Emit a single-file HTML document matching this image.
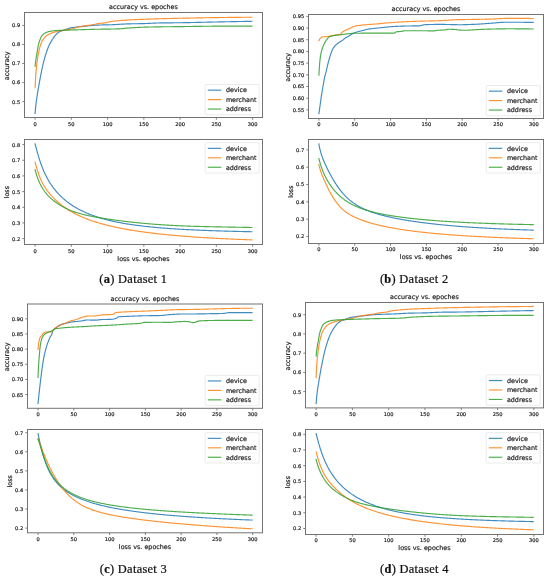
<!DOCTYPE html>
<html lang="en">
<head>
<meta charset="utf-8">
<title>accuracy and loss vs. epoches</title>
<style>
html,body{margin:0;padding:0;background:#fff;}
body{width:550px;height:579px;overflow:hidden;}
svg{display:block;}
svg text{font-family:"DejaVu Sans","Liberation Sans",sans-serif;fill:#1a1a1a;stroke:#1a1a1a;stroke-width:0.18px;}
svg text.cap{font-family:"Liberation Serif","DejaVu Serif",serif;font-size:12.4px;fill:#111;letter-spacing:0.3px;stroke:#111;stroke-width:0.22px;}
</style>
</head>
<body>
<svg width="550" height="579" viewBox="0 0 550 579">
<rect width="550" height="579" fill="#fff"/>
<g>
<path d="M35.1 113.41 L35.46 109.16 L35.83 105.39 L36.19 102.29 L36.55 99.63 L36.91 97.22 L37.27 94.93 L37.64 92.65 L38 90.46 L38.36 88.34 L38.73 86.26 L39.09 84.2 L39.45 82.16 L39.81 80.14 L40.18 78.18 L40.54 76.27 L40.9 74.4 L41.26 72.58 L41.62 70.81 L41.99 69.11 L42.35 67.44 L42.71 65.8 L43.08 64.2 L43.44 62.67 L43.8 61.2 L44.16 59.81 L44.52 58.48 L44.89 57.21 L45.25 55.98 L45.61 54.81 L45.98 53.68 L46.34 52.59 L46.7 51.53 L47.06 50.5 L47.42 49.5 L47.79 48.53 L48.15 47.6 L48.51 46.71 L48.88 45.88 L49.24 45.09 L49.6 44.34 L49.96 43.62 L50.33 42.93 L50.69 42.26 L51.05 41.62 L51.41 41 L51.78 40.4 L52.14 39.82 L52.5 39.25 L52.86 38.71 L53.23 38.17 L53.59 37.64 L53.95 37.13 L54.31 36.63 L54.67 36.14 L55.04 35.68 L55.4 35.24 L55.76 34.83 L56.12 34.45 L56.49 34.1 L56.85 33.76 L57.21 33.45 L57.58 33.14 L57.94 32.85 L58.3 32.57 L58.66 32.31 L59.03 32.07 L59.39 31.85 L59.75 31.64 L60.11 31.46 L60.48 31.29 L60.84 31.14 L61.2 31 L61.56 30.86 L61.92 30.74 L62.29 30.62 L62.65 30.5 L63.01 30.38 L63.38 30.26 L63.74 30.14 L64.1 30.01 L64.83 29.75 L65.55 29.49 L66.28 29.23 L67 28.98 L67.72 28.73 L68.45 28.5 L69.17 28.28 L69.9 28.09 L70.62 27.93 L71.35 27.8 L72.08 27.68 L72.8 27.57 L73.53 27.47 L74.25 27.38 L74.97 27.29 L75.7 27.21 L76.42 27.13 L77.15 27.05 L77.88 26.97 L78.6 26.88 L79.33 26.8 L80.05 26.72 L80.78 26.65 L81.5 26.57 L82.22 26.5 L82.95 26.42 L83.67 26.35 L84.4 26.27 L85.12 26.2 L85.85 26.12 L86.58 26.04 L87.3 25.96 L88.03 25.88 L88.75 25.79 L89.47 25.71 L90.2 25.63 L90.92 25.56 L91.65 25.49 L92.38 25.43 L93.1 25.38 L93.83 25.33 L94.55 25.29 L95.28 25.24 L96 25.2 L96.72 25.16 L97.45 25.13 L98.17 25.09 L98.9 25.06 L99.62 25.03 L100.35 25.01 L101.07 24.99 L101.8 24.96 L102.53 24.94 L103.25 24.93 L103.97 24.91 L104.7 24.89 L105.43 24.88 L106.15 24.86 L106.88 24.85 L107.6 24.83 L108.32 24.81 L109.05 24.8 L109.78 24.78 L110.5 24.76 L111.22 24.73 L111.95 24.71 L112.68 24.68 L113.4 24.64 L114.12 24.61 L114.85 24.57 L115.57 24.53 L116.3 24.49 L117.03 24.45 L117.75 24.4 L118.47 24.36 L119.2 24.31 L119.93 24.27 L120.65 24.22 L121.38 24.18 L122.1 24.14 L122.82 24.09 L123.55 24.06 L124.28 24.02 L125 23.98 L125.72 23.95 L126.45 23.92 L127.18 23.9 L127.9 23.88 L128.62 23.86 L129.35 23.84 L130.07 23.82 L130.8 23.81 L131.53 23.8 L132.25 23.78 L132.97 23.77 L133.7 23.76 L134.43 23.75 L135.15 23.74 L135.88 23.73 L136.6 23.72 L137.32 23.71 L138.05 23.7 L138.78 23.69 L139.5 23.68 L140.22 23.66 L140.95 23.65 L141.68 23.64 L142.4 23.62 L143.12 23.61 L143.85 23.59 L144.57 23.57 L145.3 23.55 L146.03 23.52 L146.75 23.49 L147.47 23.46 L148.2 23.43 L148.93 23.4 L149.65 23.36 L150.38 23.33 L151.1 23.29 L151.82 23.26 L152.55 23.22 L153.28 23.18 L154 23.15 L154.72 23.12 L155.45 23.08 L156.18 23.05 L156.9 23.02 L157.62 23 L158.35 22.97 L159.07 22.95 L159.8 22.94 L160.53 22.92 L161.25 22.91 L161.97 22.9 L162.7 22.89 L163.42 22.88 L164.15 22.88 L164.88 22.87 L165.6 22.86 L166.32 22.85 L167.05 22.85 L167.77 22.84 L168.5 22.83 L169.22 22.83 L169.95 22.82 L170.67 22.82 L171.4 22.81 L172.12 22.81 L172.85 22.8 L173.57 22.8 L174.3 22.79 L175.02 22.79 L175.75 22.78 L176.47 22.77 L177.2 22.77 L177.92 22.76 L178.65 22.75 L179.38 22.74 L180.1 22.73 L180.82 22.72 L181.55 22.71 L182.27 22.7 L183 22.69 L183.72 22.68 L184.45 22.67 L185.17 22.66 L185.9 22.64 L186.62 22.63 L187.35 22.62 L188.07 22.6 L188.8 22.59 L189.52 22.58 L190.25 22.56 L190.97 22.55 L191.7 22.53 L192.42 22.52 L193.15 22.5 L193.88 22.48 L194.6 22.47 L195.32 22.45 L196.05 22.44 L196.77 22.42 L197.5 22.4 L198.22 22.39 L198.95 22.37 L199.67 22.35 L200.4 22.33 L201.12 22.32 L201.85 22.3 L202.57 22.28 L203.3 22.27 L204.02 22.25 L204.75 22.23 L205.47 22.21 L206.2 22.2 L206.92 22.18 L207.65 22.16 L208.38 22.15 L209.1 22.13 L209.82 22.11 L210.55 22.1 L211.27 22.08 L212 22.06 L212.72 22.05 L213.45 22.03 L214.17 22.02 L214.9 22 L215.62 21.99 L216.35 21.97 L217.07 21.96 L217.8 21.94 L218.52 21.93 L219.25 21.91 L219.97 21.9 L220.7 21.88 L221.42 21.87 L222.15 21.86 L222.88 21.84 L223.6 21.83 L224.32 21.81 L225.05 21.8 L225.77 21.78 L226.5 21.77 L227.22 21.75 L227.95 21.74 L228.67 21.73 L229.4 21.71 L230.12 21.7 L230.85 21.68 L231.57 21.67 L232.3 21.66 L233.02 21.64 L233.75 21.63 L234.47 21.61 L235.2 21.6 L235.92 21.59 L236.65 21.57 L237.38 21.56 L238.1 21.54 L238.82 21.53 L239.55 21.52 L240.27 21.5 L241 21.49 L241.72 21.48 L242.45 21.46 L243.17 21.45 L243.9 21.43 L244.62 21.42 L245.35 21.41 L246.07 21.39 L246.8 21.38 L247.52 21.37 L248.25 21.35 L248.97 21.34 L249.7 21.33 L250.42 21.31 L251.15 21.3 L251.88 21.29" fill="none" stroke="#1f77b4" stroke-width="1.15" stroke-opacity="0.85" stroke-linejoin="round" stroke-linecap="square"/>
<path d="M35.1 87.69 L35.46 80.13 L35.83 74.38 L36.19 69.96 L36.55 66.28 L36.91 63.02 L37.27 60.18 L37.64 57.76 L38 55.61 L38.36 53.68 L38.73 51.92 L39.09 50.29 L39.45 48.76 L39.81 47.35 L40.18 46.08 L40.54 44.98 L40.9 43.96 L41.26 43 L41.62 42.12 L41.99 41.33 L42.35 40.63 L42.71 40.04 L43.08 39.57 L43.44 39.12 L43.8 38.65 L44.16 38.17 L44.52 37.7 L44.89 37.24 L45.25 36.81 L45.61 36.41 L45.98 36.06 L46.34 35.77 L46.7 35.5 L47.06 35.26 L47.42 35.03 L47.79 34.83 L48.15 34.63 L48.51 34.45 L48.88 34.27 L49.24 34.09 L49.6 33.92 L49.96 33.76 L50.33 33.6 L50.69 33.45 L51.05 33.3 L51.41 33.16 L51.78 33.02 L52.14 32.89 L52.5 32.76 L52.86 32.64 L53.23 32.52 L53.59 32.4 L53.95 32.29 L54.31 32.19 L54.67 32.08 L55.04 31.98 L55.4 31.89 L55.76 31.8 L56.12 31.7 L56.49 31.62 L56.85 31.53 L57.21 31.45 L57.58 31.37 L57.94 31.29 L58.3 31.21 L58.66 31.14 L59.03 31.07 L59.39 31 L59.75 30.93 L60.11 30.86 L60.48 30.79 L60.84 30.73 L61.2 30.67 L61.56 30.6 L61.92 30.54 L62.29 30.48 L62.65 30.42 L63.01 30.36 L63.38 30.3 L63.74 30.25 L64.1 30.19 L64.83 30.08 L65.55 29.99 L66.28 29.89 L67 29.8 L67.72 29.71 L68.45 29.61 L69.17 29.51 L69.9 29.39 L70.62 29.27 L71.35 29.12 L72.08 28.93 L72.8 28.7 L73.53 28.46 L74.25 28.2 L74.97 27.93 L75.7 27.67 L76.42 27.42 L77.15 27.2 L77.88 27.01 L78.6 26.85 L79.33 26.71 L80.05 26.58 L80.78 26.46 L81.5 26.35 L82.22 26.25 L82.95 26.14 L83.67 26.04 L84.4 25.94 L85.12 25.83 L85.85 25.73 L86.58 25.62 L87.3 25.52 L88.03 25.42 L88.75 25.33 L89.47 25.23 L90.2 25.13 L90.92 25.02 L91.65 24.92 L92.38 24.8 L93.1 24.68 L93.83 24.54 L94.55 24.39 L95.28 24.22 L96 24.05 L96.72 23.88 L97.45 23.72 L98.17 23.57 L98.9 23.45 L99.62 23.35 L100.35 23.28 L101.07 23.24 L101.8 23.2 L102.53 23.16 L103.25 23.11 L103.97 23.02 L104.7 22.9 L105.43 22.76 L106.15 22.59 L106.88 22.41 L107.6 22.23 L108.32 22.05 L109.05 21.87 L109.78 21.71 L110.5 21.57 L111.22 21.46 L111.95 21.36 L112.68 21.28 L113.4 21.2 L114.12 21.12 L114.85 21.05 L115.57 20.98 L116.3 20.92 L117.03 20.85 L117.75 20.79 L118.47 20.73 L119.2 20.67 L119.93 20.61 L120.65 20.54 L121.38 20.48 L122.1 20.41 L122.82 20.35 L123.55 20.29 L124.28 20.23 L125 20.18 L125.72 20.12 L126.45 20.07 L127.18 20.02 L127.9 19.98 L128.62 19.94 L129.35 19.9 L130.07 19.86 L130.8 19.83 L131.53 19.79 L132.25 19.76 L132.97 19.73 L133.7 19.7 L134.43 19.66 L135.15 19.63 L135.88 19.61 L136.6 19.58 L137.32 19.55 L138.05 19.52 L138.78 19.49 L139.5 19.47 L140.22 19.44 L140.95 19.41 L141.68 19.39 L142.4 19.36 L143.12 19.33 L143.85 19.3 L144.57 19.28 L145.3 19.25 L146.03 19.22 L146.75 19.19 L147.47 19.17 L148.2 19.14 L148.93 19.11 L149.65 19.09 L150.38 19.06 L151.1 19.04 L151.82 19.01 L152.55 18.99 L153.28 18.96 L154 18.94 L154.72 18.91 L155.45 18.89 L156.18 18.86 L156.9 18.84 L157.62 18.82 L158.35 18.8 L159.07 18.77 L159.8 18.75 L160.53 18.73 L161.25 18.71 L161.97 18.69 L162.7 18.67 L163.42 18.65 L164.15 18.63 L164.88 18.61 L165.6 18.59 L166.32 18.58 L167.05 18.56 L167.77 18.54 L168.5 18.52 L169.22 18.5 L169.95 18.49 L170.67 18.47 L171.4 18.45 L172.12 18.43 L172.85 18.42 L173.57 18.4 L174.3 18.38 L175.02 18.37 L175.75 18.35 L176.47 18.33 L177.2 18.32 L177.92 18.3 L178.65 18.29 L179.38 18.27 L180.1 18.26 L180.82 18.24 L181.55 18.23 L182.27 18.21 L183 18.19 L183.72 18.18 L184.45 18.16 L185.17 18.15 L185.9 18.13 L186.62 18.12 L187.35 18.1 L188.07 18.09 L188.8 18.07 L189.52 18.06 L190.25 18.04 L190.97 18.03 L191.7 18.02 L192.42 18 L193.15 17.99 L193.88 17.97 L194.6 17.96 L195.32 17.94 L196.05 17.93 L196.77 17.92 L197.5 17.9 L198.22 17.89 L198.95 17.87 L199.67 17.86 L200.4 17.85 L201.12 17.83 L201.85 17.82 L202.57 17.81 L203.3 17.8 L204.02 17.78 L204.75 17.77 L205.47 17.76 L206.2 17.74 L206.92 17.73 L207.65 17.72 L208.38 17.71 L209.1 17.7 L209.82 17.69 L210.55 17.67 L211.27 17.66 L212 17.65 L212.72 17.64 L213.45 17.63 L214.17 17.62 L214.9 17.61 L215.62 17.6 L216.35 17.59 L217.07 17.58 L217.8 17.57 L218.52 17.56 L219.25 17.55 L219.97 17.54 L220.7 17.53 L221.42 17.52 L222.15 17.51 L222.88 17.5 L223.6 17.49 L224.32 17.49 L225.05 17.48 L225.77 17.47 L226.5 17.46 L227.22 17.45 L227.95 17.44 L228.67 17.43 L229.4 17.42 L230.12 17.41 L230.85 17.41 L231.57 17.4 L232.3 17.39 L233.02 17.38 L233.75 17.37 L234.47 17.37 L235.2 17.36 L235.92 17.35 L236.65 17.34 L237.38 17.33 L238.1 17.33 L238.82 17.32 L239.55 17.31 L240.27 17.31 L241 17.3 L241.72 17.29 L242.45 17.29 L243.17 17.28 L243.9 17.27 L244.62 17.27 L245.35 17.26 L246.07 17.25 L246.8 17.25 L247.52 17.24 L248.25 17.24 L248.97 17.23 L249.7 17.22 L250.42 17.22 L251.15 17.21 L251.88 17.21" fill="none" stroke="#ff7f0e" stroke-width="1.15" stroke-opacity="0.85" stroke-linejoin="round" stroke-linecap="square"/>
<path d="M35.1 66.36 L35.46 62.99 L35.83 59.99 L36.19 57.47 L36.55 55.3 L36.91 53.29 L37.27 51.28 L37.64 49.15 L38 47.05 L38.36 45.14 L38.73 43.6 L39.09 42.33 L39.45 41.21 L39.81 40.2 L40.18 39.27 L40.54 38.38 L40.9 37.49 L41.26 36.68 L41.62 36 L41.99 35.51 L42.35 35.11 L42.71 34.74 L43.08 34.4 L43.44 34.1 L43.8 33.82 L44.16 33.57 L44.52 33.35 L44.89 33.14 L45.25 32.94 L45.61 32.76 L45.98 32.58 L46.34 32.42 L46.7 32.26 L47.06 32.11 L47.42 31.97 L47.79 31.85 L48.15 31.73 L48.51 31.63 L48.88 31.54 L49.24 31.47 L49.6 31.4 L49.96 31.33 L50.33 31.26 L50.69 31.2 L51.05 31.14 L51.41 31.08 L51.78 31.03 L52.14 30.97 L52.5 30.92 L52.86 30.88 L53.23 30.83 L53.59 30.79 L53.95 30.75 L54.31 30.71 L54.67 30.68 L55.04 30.64 L55.4 30.61 L55.76 30.59 L56.12 30.56 L56.49 30.54 L56.85 30.52 L57.21 30.5 L57.58 30.48 L57.94 30.46 L58.3 30.45 L58.66 30.43 L59.03 30.42 L59.39 30.4 L59.75 30.39 L60.11 30.38 L60.48 30.36 L60.84 30.35 L61.2 30.34 L61.56 30.33 L61.92 30.32 L62.29 30.3 L62.65 30.29 L63.01 30.28 L63.38 30.27 L63.74 30.26 L64.1 30.24 L64.83 30.22 L65.55 30.19 L66.28 30.17 L67 30.14 L67.72 30.12 L68.45 30.09 L69.17 30.07 L69.9 30.04 L70.62 30.02 L71.35 30 L72.08 29.97 L72.8 29.95 L73.53 29.93 L74.25 29.9 L74.97 29.88 L75.7 29.86 L76.42 29.84 L77.15 29.81 L77.88 29.79 L78.6 29.77 L79.33 29.75 L80.05 29.73 L80.78 29.7 L81.5 29.68 L82.22 29.66 L82.95 29.64 L83.67 29.62 L84.4 29.59 L85.12 29.57 L85.85 29.55 L86.58 29.53 L87.3 29.51 L88.03 29.49 L88.75 29.47 L89.47 29.45 L90.2 29.43 L90.92 29.41 L91.65 29.39 L92.38 29.37 L93.1 29.35 L93.83 29.33 L94.55 29.32 L95.28 29.3 L96 29.28 L96.72 29.27 L97.45 29.25 L98.17 29.24 L98.9 29.23 L99.62 29.21 L100.35 29.2 L101.07 29.19 L101.8 29.18 L102.53 29.17 L103.25 29.16 L103.97 29.15 L104.7 29.14 L105.43 29.13 L106.15 29.12 L106.88 29.11 L107.6 29.1 L108.32 29.09 L109.05 29.08 L109.78 29.07 L110.5 29.06 L111.22 29.04 L111.95 29.03 L112.68 29.02 L113.4 29 L114.12 28.98 L114.85 28.97 L115.57 28.95 L116.3 28.93 L117.03 28.91 L117.75 28.89 L118.47 28.87 L119.2 28.84 L119.93 28.81 L120.65 28.77 L121.38 28.72 L122.1 28.65 L122.82 28.58 L123.55 28.5 L124.28 28.42 L125 28.34 L125.72 28.26 L126.45 28.19 L127.18 28.12 L127.9 28.07 L128.62 28.02 L129.35 27.97 L130.07 27.92 L130.8 27.87 L131.53 27.82 L132.25 27.77 L132.97 27.73 L133.7 27.68 L134.43 27.64 L135.15 27.59 L135.88 27.55 L136.6 27.51 L137.32 27.47 L138.05 27.43 L138.78 27.4 L139.5 27.36 L140.22 27.33 L140.95 27.3 L141.68 27.27 L142.4 27.24 L143.12 27.21 L143.85 27.19 L144.57 27.17 L145.3 27.15 L146.03 27.13 L146.75 27.11 L147.47 27.09 L148.2 27.07 L148.93 27.05 L149.65 27.03 L150.38 27.01 L151.1 27 L151.82 26.98 L152.55 26.97 L153.28 26.95 L154 26.94 L154.72 26.92 L155.45 26.91 L156.18 26.9 L156.9 26.89 L157.62 26.87 L158.35 26.86 L159.07 26.85 L159.8 26.84 L160.53 26.83 L161.25 26.82 L161.97 26.81 L162.7 26.8 L163.42 26.79 L164.15 26.78 L164.88 26.77 L165.6 26.76 L166.32 26.76 L167.05 26.75 L167.77 26.74 L168.5 26.73 L169.22 26.73 L169.95 26.72 L170.67 26.71 L171.4 26.71 L172.12 26.7 L172.85 26.69 L173.57 26.69 L174.3 26.68 L175.02 26.67 L175.75 26.66 L176.47 26.66 L177.2 26.65 L177.92 26.64 L178.65 26.64 L179.38 26.63 L180.1 26.62 L180.82 26.61 L181.55 26.6 L182.27 26.59 L183 26.58 L183.72 26.57 L184.45 26.56 L185.17 26.55 L185.9 26.54 L186.62 26.53 L187.35 26.52 L188.07 26.51 L188.8 26.5 L189.52 26.49 L190.25 26.48 L190.97 26.47 L191.7 26.46 L192.42 26.45 L193.15 26.44 L193.88 26.43 L194.6 26.42 L195.32 26.41 L196.05 26.39 L196.77 26.38 L197.5 26.37 L198.22 26.36 L198.95 26.35 L199.67 26.34 L200.4 26.33 L201.12 26.32 L201.85 26.31 L202.57 26.3 L203.3 26.29 L204.02 26.28 L204.75 26.27 L205.47 26.26 L206.2 26.25 L206.92 26.24 L207.65 26.24 L208.38 26.23 L209.1 26.22 L209.82 26.21 L210.55 26.21 L211.27 26.2 L212 26.19 L212.72 26.19 L213.45 26.18 L214.17 26.18 L214.9 26.17 L215.62 26.17 L216.35 26.16 L217.07 26.16 L217.8 26.15 L218.52 26.15 L219.25 26.15 L219.97 26.14 L220.7 26.14 L221.42 26.14 L222.15 26.13 L222.88 26.13 L223.6 26.13 L224.32 26.12 L225.05 26.12 L225.77 26.12 L226.5 26.11 L227.22 26.11 L227.95 26.11 L228.67 26.1 L229.4 26.1 L230.12 26.1 L230.85 26.09 L231.57 26.09 L232.3 26.09 L233.02 26.09 L233.75 26.08 L234.47 26.08 L235.2 26.08 L235.92 26.08 L236.65 26.07 L237.38 26.07 L238.1 26.07 L238.82 26.07 L239.55 26.07 L240.27 26.06 L241 26.06 L241.72 26.06 L242.45 26.06 L243.17 26.06 L243.9 26.06 L244.62 26.05 L245.35 26.05 L246.07 26.05 L246.8 26.05 L247.52 26.05 L248.25 26.05 L248.97 26.05 L249.7 26.05 L250.42 26.05 L251.15 26.05 L251.88 26.05" fill="none" stroke="#2ca02c" stroke-width="1.15" stroke-opacity="0.85" stroke-linejoin="round" stroke-linecap="square"/>
<rect x="24.5" y="12.5" width="238" height="105" fill="none" stroke="#737373" stroke-width="1"/>
<text x="35.1" y="125.5" font-size="5.1" text-anchor="middle">0</text>
<text x="71.35" y="125.5" font-size="5.1" text-anchor="middle">50</text>
<text x="107.6" y="125.5" font-size="5.1" text-anchor="middle">100</text>
<text x="143.85" y="125.5" font-size="5.1" text-anchor="middle">150</text>
<text x="180.1" y="125.5" font-size="5.1" text-anchor="middle">200</text>
<text x="216.35" y="125.5" font-size="5.1" text-anchor="middle">250</text>
<text x="252.6" y="125.5" font-size="5.1" text-anchor="middle">300</text>
<text x="20.2" y="103.5" font-size="5.1" text-anchor="end">0.5</text>
<text x="20.2" y="84.45" font-size="5.1" text-anchor="end">0.6</text>
<text x="20.2" y="65.4" font-size="5.1" text-anchor="end">0.7</text>
<text x="20.2" y="46.35" font-size="5.1" text-anchor="end">0.8</text>
<text x="20.2" y="27.3" font-size="5.1" text-anchor="end">0.9</text>
<path d="M35.1 117.5v2.2M71.35 117.5v2.2M107.6 117.5v2.2M143.85 117.5v2.2M180.1 117.5v2.2M216.35 117.5v2.2M252.6 117.5v2.2M24.5 101.6h-2.2M24.5 82.55h-2.2M24.5 63.5h-2.2M24.5 44.45h-2.2M24.5 25.4h-2.2" stroke="#737373" stroke-width="0.9" fill="none"/>
<text x="143.5" y="9.3" font-size="6.4" text-anchor="middle">accuracy vs. epoches</text>
<text transform="translate(9.09 65.8) rotate(-90)" font-size="6.4" text-anchor="middle">accuracy</text>
<rect x="205.2" y="84.5" width="54" height="30.3" rx="1.3" fill="#fff" fill-opacity="0.8" stroke="#ccc" stroke-opacity="0.65" stroke-width="0.6"/>
<path d="M207.8 90.15h13.5" stroke="#1f77b4" stroke-opacity="0.85" stroke-width="1.15" fill="none"/>
<text x="225.9" y="92.4" font-size="6.4">device</text>
<path d="M207.8 99.6h13.5" stroke="#ff7f0e" stroke-opacity="0.85" stroke-width="1.15" fill="none"/>
<text x="225.9" y="101.85" font-size="6.4">merchant</text>
<path d="M207.8 109.05h13.5" stroke="#2ca02c" stroke-opacity="0.85" stroke-width="1.15" fill="none"/>
<text x="225.9" y="111.3" font-size="6.4">address</text>
</g>
<g>
<path d="M35.1 143.97 L35.46 145.3 L35.83 146.66 L36.19 148.02 L36.55 149.38 L36.91 150.72 L37.27 152.05 L37.64 153.35 L38 154.62 L38.36 155.87 L38.73 157.08 L39.09 158.27 L39.45 159.42 L39.81 160.55 L40.18 161.64 L40.54 162.71 L40.9 163.75 L41.26 164.76 L41.62 165.75 L41.99 166.71 L42.35 167.64 L42.71 168.56 L43.08 169.44 L43.44 170.31 L43.8 171.15 L44.16 171.98 L44.52 172.78 L44.89 173.56 L45.25 174.32 L45.61 175.07 L45.98 175.8 L46.34 176.51 L46.7 177.21 L47.06 177.89 L47.42 178.56 L47.79 179.21 L48.15 179.85 L48.51 180.47 L48.88 181.09 L49.24 181.69 L49.6 182.28 L49.96 182.86 L50.33 183.42 L50.69 183.98 L51.05 184.52 L51.41 185.06 L51.78 185.59 L52.14 186.1 L52.5 186.61 L52.86 187.11 L53.23 187.6 L53.59 188.08 L53.95 188.56 L54.31 189.02 L54.67 189.48 L55.04 189.93 L55.4 190.38 L55.76 190.82 L56.12 191.25 L56.49 191.67 L56.85 192.09 L57.21 192.5 L57.58 192.9 L57.94 193.3 L58.3 193.69 L58.66 194.08 L59.03 194.46 L59.39 194.84 L59.75 195.21 L60.11 195.57 L60.48 195.93 L60.84 196.29 L61.2 196.64 L61.56 196.98 L61.92 197.33 L62.29 197.66 L62.65 197.99 L63.01 198.32 L63.38 198.64 L63.74 198.96 L64.1 199.27 L64.83 199.89 L65.55 200.49 L66.28 201.08 L67 201.65 L67.72 202.2 L68.45 202.74 L69.17 203.27 L69.9 203.79 L70.62 204.3 L71.35 204.79 L72.08 205.27 L72.8 205.74 L73.53 206.2 L74.25 206.65 L74.97 207.09 L75.7 207.52 L76.42 207.94 L77.15 208.35 L77.88 208.75 L78.6 209.15 L79.33 209.53 L80.05 209.91 L80.78 210.28 L81.5 210.64 L82.22 211 L82.95 211.35 L83.67 211.69 L84.4 212.02 L85.12 212.35 L85.85 212.67 L86.58 212.98 L87.3 213.29 L88.03 213.59 L88.75 213.89 L89.47 214.18 L90.2 214.47 L90.92 214.75 L91.65 215.02 L92.38 215.29 L93.1 215.56 L93.83 215.82 L94.55 216.07 L95.28 216.32 L96 216.57 L96.72 216.81 L97.45 217.05 L98.17 217.28 L98.9 217.51 L99.62 217.73 L100.35 217.95 L101.07 218.17 L101.8 218.38 L102.53 218.59 L103.25 218.8 L103.97 219 L104.7 219.2 L105.43 219.39 L106.15 219.58 L106.88 219.77 L107.6 219.96 L108.32 220.14 L109.05 220.32 L109.78 220.49 L110.5 220.67 L111.22 220.84 L111.95 221 L112.68 221.17 L113.4 221.33 L114.12 221.49 L114.85 221.65 L115.57 221.8 L116.3 221.95 L117.03 222.1 L117.75 222.25 L118.47 222.39 L119.2 222.53 L119.93 222.67 L120.65 222.81 L121.38 222.94 L122.1 223.07 L122.82 223.2 L123.55 223.33 L124.28 223.46 L125 223.58 L125.72 223.7 L126.45 223.82 L127.18 223.94 L127.9 224.06 L128.62 224.17 L129.35 224.29 L130.07 224.4 L130.8 224.51 L131.53 224.61 L132.25 224.72 L132.97 224.82 L133.7 224.93 L134.43 225.03 L135.15 225.13 L135.88 225.22 L136.6 225.32 L137.32 225.42 L138.05 225.51 L138.78 225.6 L139.5 225.69 L140.22 225.78 L140.95 225.87 L141.68 225.96 L142.4 226.04 L143.12 226.13 L143.85 226.21 L144.57 226.29 L145.3 226.37 L146.03 226.45 L146.75 226.53 L147.47 226.61 L148.2 226.69 L148.93 226.76 L149.65 226.84 L150.38 226.91 L151.1 226.98 L151.82 227.05 L152.55 227.12 L153.28 227.19 L154 227.26 L154.72 227.33 L155.45 227.4 L156.18 227.46 L156.9 227.53 L157.62 227.59 L158.35 227.65 L159.07 227.71 L159.8 227.78 L160.53 227.84 L161.25 227.9 L161.97 227.96 L162.7 228.01 L163.42 228.07 L164.15 228.13 L164.88 228.18 L165.6 228.24 L166.32 228.29 L167.05 228.35 L167.77 228.4 L168.5 228.45 L169.22 228.51 L169.95 228.56 L170.67 228.61 L171.4 228.66 L172.12 228.71 L172.85 228.76 L173.57 228.8 L174.3 228.85 L175.02 228.9 L175.75 228.94 L176.47 228.99 L177.2 229.04 L177.92 229.08 L178.65 229.12 L179.38 229.17 L180.1 229.21 L180.82 229.25 L181.55 229.3 L182.27 229.34 L183 229.38 L183.72 229.42 L184.45 229.46 L185.17 229.5 L185.9 229.54 L186.62 229.58 L187.35 229.61 L188.07 229.65 L188.8 229.69 L189.52 229.73 L190.25 229.76 L190.97 229.8 L191.7 229.83 L192.42 229.87 L193.15 229.9 L193.88 229.94 L194.6 229.97 L195.32 230.01 L196.05 230.04 L196.77 230.07 L197.5 230.1 L198.22 230.14 L198.95 230.17 L199.67 230.2 L200.4 230.23 L201.12 230.26 L201.85 230.29 L202.57 230.32 L203.3 230.35 L204.02 230.38 L204.75 230.41 L205.47 230.44 L206.2 230.46 L206.92 230.49 L207.65 230.52 L208.38 230.55 L209.1 230.57 L209.82 230.6 L210.55 230.63 L211.27 230.65 L212 230.68 L212.72 230.7 L213.45 230.73 L214.17 230.75 L214.9 230.78 L215.62 230.8 L216.35 230.83 L217.07 230.85 L217.8 230.87 L218.52 230.9 L219.25 230.92 L219.97 230.94 L220.7 230.97 L221.42 230.99 L222.15 231.01 L222.88 231.03 L223.6 231.05 L224.32 231.07 L225.05 231.1 L225.77 231.12 L226.5 231.14 L227.22 231.16 L227.95 231.18 L228.67 231.2 L229.4 231.22 L230.12 231.24 L230.85 231.26 L231.57 231.28 L232.3 231.29 L233.02 231.31 L233.75 231.33 L234.47 231.35 L235.2 231.37 L235.92 231.39 L236.65 231.4 L237.38 231.42 L238.1 231.44 L238.82 231.46 L239.55 231.47 L240.27 231.49 L241 231.51 L241.72 231.52 L242.45 231.54 L243.17 231.56 L243.9 231.57 L244.62 231.59 L245.35 231.6 L246.07 231.62 L246.8 231.63 L247.52 231.65 L248.25 231.66 L248.97 231.68 L249.7 231.69 L250.42 231.71 L251.15 231.72 L251.88 231.74" fill="none" stroke="#1f77b4" stroke-width="1.15" stroke-opacity="0.85" stroke-linejoin="round" stroke-linecap="square"/>
<path d="M35.1 162.24 L35.46 163.59 L35.83 164.92 L36.19 166.22 L36.55 167.48 L36.91 168.71 L37.27 169.9 L37.64 171.05 L38 172.15 L38.36 173.22 L38.73 174.25 L39.09 175.25 L39.45 176.21 L39.81 177.14 L40.18 178.03 L40.54 178.89 L40.9 179.72 L41.26 180.53 L41.62 181.31 L41.99 182.06 L42.35 182.78 L42.71 183.48 L43.08 184.16 L43.44 184.82 L43.8 185.45 L44.16 186.07 L44.52 186.66 L44.89 187.24 L45.25 187.8 L45.61 188.35 L45.98 188.88 L46.34 189.4 L46.7 189.9 L47.06 190.4 L47.42 190.88 L47.79 191.35 L48.15 191.82 L48.51 192.27 L48.88 192.72 L49.24 193.16 L49.6 193.59 L49.96 194.02 L50.33 194.44 L50.69 194.85 L51.05 195.26 L51.41 195.66 L51.78 196.06 L52.14 196.45 L52.5 196.84 L52.86 197.22 L53.23 197.6 L53.59 197.97 L53.95 198.34 L54.31 198.71 L54.67 199.07 L55.04 199.42 L55.4 199.77 L55.76 200.12 L56.12 200.46 L56.49 200.8 L56.85 201.13 L57.21 201.46 L57.58 201.79 L57.94 202.11 L58.3 202.43 L58.66 202.74 L59.03 203.05 L59.39 203.36 L59.75 203.66 L60.11 203.96 L60.48 204.26 L60.84 204.55 L61.2 204.84 L61.56 205.12 L61.92 205.41 L62.29 205.68 L62.65 205.96 L63.01 206.23 L63.38 206.5 L63.74 206.77 L64.1 207.03 L64.83 207.55 L65.55 208.05 L66.28 208.54 L67 209.03 L67.72 209.5 L68.45 209.96 L69.17 210.41 L69.9 210.85 L70.62 211.28 L71.35 211.7 L72.08 212.12 L72.8 212.52 L73.53 212.92 L74.25 213.3 L74.97 213.68 L75.7 214.05 L76.42 214.42 L77.15 214.77 L77.88 215.13 L78.6 215.47 L79.33 215.81 L80.05 216.14 L80.78 216.46 L81.5 216.78 L82.22 217.09 L82.95 217.4 L83.67 217.7 L84.4 218 L85.12 218.29 L85.85 218.57 L86.58 218.85 L87.3 219.13 L88.03 219.4 L88.75 219.67 L89.47 219.93 L90.2 220.19 L90.92 220.44 L91.65 220.69 L92.38 220.94 L93.1 221.18 L93.83 221.42 L94.55 221.66 L95.28 221.89 L96 222.12 L96.72 222.34 L97.45 222.56 L98.17 222.78 L98.9 222.99 L99.62 223.2 L100.35 223.41 L101.07 223.62 L101.8 223.82 L102.53 224.02 L103.25 224.22 L103.97 224.41 L104.7 224.6 L105.43 224.79 L106.15 224.98 L106.88 225.16 L107.6 225.34 L108.32 225.52 L109.05 225.69 L109.78 225.87 L110.5 226.04 L111.22 226.21 L111.95 226.37 L112.68 226.54 L113.4 226.7 L114.12 226.86 L114.85 227.02 L115.57 227.18 L116.3 227.33 L117.03 227.48 L117.75 227.64 L118.47 227.78 L119.2 227.93 L119.93 228.08 L120.65 228.22 L121.38 228.36 L122.1 228.5 L122.82 228.64 L123.55 228.78 L124.28 228.91 L125 229.04 L125.72 229.18 L126.45 229.31 L127.18 229.44 L127.9 229.56 L128.62 229.69 L129.35 229.81 L130.07 229.94 L130.8 230.06 L131.53 230.18 L132.25 230.3 L132.97 230.41 L133.7 230.53 L134.43 230.64 L135.15 230.76 L135.88 230.87 L136.6 230.98 L137.32 231.09 L138.05 231.2 L138.78 231.31 L139.5 231.41 L140.22 231.52 L140.95 231.62 L141.68 231.73 L142.4 231.83 L143.12 231.93 L143.85 232.03 L144.57 232.13 L145.3 232.22 L146.03 232.32 L146.75 232.42 L147.47 232.51 L148.2 232.6 L148.93 232.7 L149.65 232.79 L150.38 232.88 L151.1 232.97 L151.82 233.06 L152.55 233.14 L153.28 233.23 L154 233.32 L154.72 233.4 L155.45 233.49 L156.18 233.57 L156.9 233.65 L157.62 233.74 L158.35 233.82 L159.07 233.9 L159.8 233.98 L160.53 234.06 L161.25 234.13 L161.97 234.21 L162.7 234.29 L163.42 234.36 L164.15 234.44 L164.88 234.51 L165.6 234.58 L166.32 234.66 L167.05 234.73 L167.77 234.8 L168.5 234.87 L169.22 234.94 L169.95 235.01 L170.67 235.08 L171.4 235.15 L172.12 235.21 L172.85 235.28 L173.57 235.35 L174.3 235.41 L175.02 235.48 L175.75 235.54 L176.47 235.61 L177.2 235.67 L177.92 235.73 L178.65 235.79 L179.38 235.85 L180.1 235.91 L180.82 235.97 L181.55 236.03 L182.27 236.09 L183 236.15 L183.72 236.21 L184.45 236.27 L185.17 236.32 L185.9 236.38 L186.62 236.44 L187.35 236.49 L188.07 236.55 L188.8 236.6 L189.52 236.65 L190.25 236.71 L190.97 236.76 L191.7 236.81 L192.42 236.86 L193.15 236.92 L193.88 236.97 L194.6 237.02 L195.32 237.07 L196.05 237.12 L196.77 237.17 L197.5 237.21 L198.22 237.26 L198.95 237.31 L199.67 237.36 L200.4 237.4 L201.12 237.45 L201.85 237.5 L202.57 237.54 L203.3 237.59 L204.02 237.63 L204.75 237.68 L205.47 237.72 L206.2 237.76 L206.92 237.81 L207.65 237.85 L208.38 237.89 L209.1 237.94 L209.82 237.98 L210.55 238.02 L211.27 238.06 L212 238.1 L212.72 238.14 L213.45 238.18 L214.17 238.22 L214.9 238.26 L215.62 238.3 L216.35 238.34 L217.07 238.37 L217.8 238.41 L218.52 238.45 L219.25 238.49 L219.97 238.52 L220.7 238.56 L221.42 238.6 L222.15 238.63 L222.88 238.67 L223.6 238.7 L224.32 238.74 L225.05 238.77 L225.77 238.81 L226.5 238.84 L227.22 238.88 L227.95 238.91 L228.67 238.94 L229.4 238.97 L230.12 239.01 L230.85 239.04 L231.57 239.07 L232.3 239.1 L233.02 239.13 L233.75 239.17 L234.47 239.2 L235.2 239.23 L235.92 239.26 L236.65 239.29 L237.38 239.32 L238.1 239.35 L238.82 239.38 L239.55 239.4 L240.27 239.43 L241 239.46 L241.72 239.49 L242.45 239.52 L243.17 239.55 L243.9 239.57 L244.62 239.6 L245.35 239.63 L246.07 239.65 L246.8 239.68 L247.52 239.71 L248.25 239.73 L248.97 239.76 L249.7 239.78 L250.42 239.81 L251.15 239.83 L251.88 239.86" fill="none" stroke="#ff7f0e" stroke-width="1.15" stroke-opacity="0.85" stroke-linejoin="round" stroke-linecap="square"/>
<path d="M35.1 169.66 L35.46 171.07 L35.83 172.4 L36.19 173.65 L36.55 174.83 L36.91 175.96 L37.27 177.02 L37.64 178.04 L38 179 L38.36 179.93 L38.73 180.81 L39.09 181.66 L39.45 182.47 L39.81 183.26 L40.18 184.01 L40.54 184.73 L40.9 185.43 L41.26 186.11 L41.62 186.76 L41.99 187.39 L42.35 188 L42.71 188.59 L43.08 189.16 L43.44 189.72 L43.8 190.25 L44.16 190.78 L44.52 191.29 L44.89 191.78 L45.25 192.26 L45.61 192.73 L45.98 193.19 L46.34 193.63 L46.7 194.06 L47.06 194.48 L47.42 194.9 L47.79 195.3 L48.15 195.69 L48.51 196.08 L48.88 196.45 L49.24 196.82 L49.6 197.18 L49.96 197.53 L50.33 197.87 L50.69 198.21 L51.05 198.53 L51.41 198.86 L51.78 199.17 L52.14 199.48 L52.5 199.79 L52.86 200.09 L53.23 200.38 L53.59 200.67 L53.95 200.95 L54.31 201.23 L54.67 201.5 L55.04 201.77 L55.4 202.04 L55.76 202.3 L56.12 202.55 L56.49 202.81 L56.85 203.05 L57.21 203.3 L57.58 203.54 L57.94 203.78 L58.3 204.01 L58.66 204.25 L59.03 204.48 L59.39 204.7 L59.75 204.92 L60.11 205.14 L60.48 205.36 L60.84 205.57 L61.2 205.79 L61.56 205.99 L61.92 206.2 L62.29 206.41 L62.65 206.61 L63.01 206.81 L63.38 207 L63.74 207.2 L64.1 207.39 L64.83 207.77 L65.55 208.14 L66.28 208.5 L67 208.86 L67.72 209.2 L68.45 209.53 L69.17 209.86 L69.9 210.17 L70.62 210.48 L71.35 210.77 L72.08 211.05 L72.8 211.32 L73.53 211.59 L74.25 211.84 L74.97 212.09 L75.7 212.33 L76.42 212.56 L77.15 212.78 L77.88 213 L78.6 213.21 L79.33 213.42 L80.05 213.62 L80.78 213.82 L81.5 214.01 L82.22 214.19 L82.95 214.38 L83.67 214.55 L84.4 214.73 L85.12 214.9 L85.85 215.07 L86.58 215.23 L87.3 215.39 L88.03 215.55 L88.75 215.71 L89.47 215.86 L90.2 216.01 L90.92 216.16 L91.65 216.3 L92.38 216.44 L93.1 216.58 L93.83 216.72 L94.55 216.86 L95.28 216.99 L96 217.12 L96.72 217.25 L97.45 217.38 L98.17 217.51 L98.9 217.63 L99.62 217.76 L100.35 217.88 L101.07 218 L101.8 218.12 L102.53 218.23 L103.25 218.35 L103.97 218.46 L104.7 218.58 L105.43 218.69 L106.15 218.8 L106.88 218.91 L107.6 219.02 L108.32 219.12 L109.05 219.23 L109.78 219.33 L110.5 219.44 L111.22 219.54 L111.95 219.64 L112.68 219.74 L113.4 219.84 L114.12 219.94 L114.85 220.04 L115.57 220.13 L116.3 220.23 L117.03 220.33 L117.75 220.42 L118.47 220.51 L119.2 220.61 L119.93 220.7 L120.65 220.79 L121.38 220.88 L122.1 220.97 L122.82 221.06 L123.55 221.15 L124.28 221.24 L125 221.32 L125.72 221.41 L126.45 221.5 L127.18 221.58 L127.9 221.67 L128.62 221.75 L129.35 221.83 L130.07 221.91 L130.8 222 L131.53 222.08 L132.25 222.16 L132.97 222.24 L133.7 222.32 L134.43 222.39 L135.15 222.47 L135.88 222.55 L136.6 222.62 L137.32 222.7 L138.05 222.77 L138.78 222.84 L139.5 222.92 L140.22 222.99 L140.95 223.06 L141.68 223.13 L142.4 223.2 L143.12 223.27 L143.85 223.34 L144.57 223.4 L145.3 223.47 L146.03 223.53 L146.75 223.6 L147.47 223.66 L148.2 223.73 L148.93 223.79 L149.65 223.85 L150.38 223.91 L151.1 223.97 L151.82 224.03 L152.55 224.09 L153.28 224.15 L154 224.2 L154.72 224.26 L155.45 224.32 L156.18 224.37 L156.9 224.42 L157.62 224.48 L158.35 224.53 L159.07 224.58 L159.8 224.63 L160.53 224.68 L161.25 224.73 L161.97 224.78 L162.7 224.83 L163.42 224.88 L164.15 224.93 L164.88 224.97 L165.6 225.02 L166.32 225.06 L167.05 225.11 L167.77 225.15 L168.5 225.19 L169.22 225.23 L169.95 225.28 L170.67 225.32 L171.4 225.36 L172.12 225.4 L172.85 225.43 L173.57 225.47 L174.3 225.51 L175.02 225.55 L175.75 225.58 L176.47 225.62 L177.2 225.65 L177.92 225.69 L178.65 225.72 L179.38 225.75 L180.1 225.78 L180.82 225.81 L181.55 225.85 L182.27 225.88 L183 225.91 L183.72 225.93 L184.45 225.96 L185.17 225.99 L185.9 226.02 L186.62 226.04 L187.35 226.07 L188.07 226.1 L188.8 226.12 L189.52 226.15 L190.25 226.17 L190.97 226.2 L191.7 226.22 L192.42 226.24 L193.15 226.27 L193.88 226.29 L194.6 226.31 L195.32 226.33 L196.05 226.35 L196.77 226.37 L197.5 226.39 L198.22 226.41 L198.95 226.43 L199.67 226.45 L200.4 226.47 L201.12 226.49 L201.85 226.51 L202.57 226.53 L203.3 226.55 L204.02 226.57 L204.75 226.58 L205.47 226.6 L206.2 226.62 L206.92 226.64 L207.65 226.65 L208.38 226.67 L209.1 226.68 L209.82 226.7 L210.55 226.72 L211.27 226.73 L212 226.75 L212.72 226.76 L213.45 226.78 L214.17 226.79 L214.9 226.81 L215.62 226.82 L216.35 226.84 L217.07 226.85 L217.8 226.87 L218.52 226.88 L219.25 226.9 L219.97 226.91 L220.7 226.92 L221.42 226.94 L222.15 226.95 L222.88 226.96 L223.6 226.98 L224.32 226.99 L225.05 227 L225.77 227.02 L226.5 227.03 L227.22 227.04 L227.95 227.06 L228.67 227.07 L229.4 227.08 L230.12 227.1 L230.85 227.11 L231.57 227.12 L232.3 227.13 L233.02 227.15 L233.75 227.16 L234.47 227.17 L235.2 227.18 L235.92 227.2 L236.65 227.21 L237.38 227.22 L238.1 227.24 L238.82 227.25 L239.55 227.26 L240.27 227.27 L241 227.28 L241.72 227.3 L242.45 227.31 L243.17 227.32 L243.9 227.33 L244.62 227.35 L245.35 227.36 L246.07 227.37 L246.8 227.38 L247.52 227.4 L248.25 227.41 L248.97 227.42 L249.7 227.43 L250.42 227.45 L251.15 227.46 L251.88 227.47" fill="none" stroke="#2ca02c" stroke-width="1.15" stroke-opacity="0.85" stroke-linejoin="round" stroke-linecap="square"/>
<rect x="24.5" y="139.5" width="238" height="105" fill="none" stroke="#737373" stroke-width="1"/>
<text x="35.1" y="252.5" font-size="5.1" text-anchor="middle">0</text>
<text x="71.35" y="252.5" font-size="5.1" text-anchor="middle">50</text>
<text x="107.6" y="252.5" font-size="5.1" text-anchor="middle">100</text>
<text x="143.85" y="252.5" font-size="5.1" text-anchor="middle">150</text>
<text x="180.1" y="252.5" font-size="5.1" text-anchor="middle">200</text>
<text x="216.35" y="252.5" font-size="5.1" text-anchor="middle">250</text>
<text x="252.6" y="252.5" font-size="5.1" text-anchor="middle">300</text>
<text x="20.2" y="240.5" font-size="5.1" text-anchor="end">0.2</text>
<text x="20.2" y="224.83" font-size="5.1" text-anchor="end">0.3</text>
<text x="20.2" y="209.17" font-size="5.1" text-anchor="end">0.4</text>
<text x="20.2" y="193.5" font-size="5.1" text-anchor="end">0.5</text>
<text x="20.2" y="177.83" font-size="5.1" text-anchor="end">0.6</text>
<text x="20.2" y="162.17" font-size="5.1" text-anchor="end">0.7</text>
<text x="20.2" y="146.5" font-size="5.1" text-anchor="end">0.8</text>
<path d="M35.1 244.5v2.2M71.35 244.5v2.2M107.6 244.5v2.2M143.85 244.5v2.2M180.1 244.5v2.2M216.35 244.5v2.2M252.6 244.5v2.2M24.5 238.6h-2.2M24.5 222.93h-2.2M24.5 207.27h-2.2M24.5 191.6h-2.2M24.5 175.93h-2.2M24.5 160.27h-2.2M24.5 144.6h-2.2" stroke="#737373" stroke-width="0.9" fill="none"/>
<text x="143.5" y="260.7" font-size="6.4" text-anchor="middle">loss vs. epoches</text>
<text transform="translate(8.99 192.2) rotate(-90)" font-size="6.4" text-anchor="middle">loss</text>
<rect x="205.2" y="142.7" width="54" height="30.3" rx="1.3" fill="#fff" fill-opacity="0.8" stroke="#ccc" stroke-opacity="0.65" stroke-width="0.6"/>
<path d="M207.8 148.35h13.5" stroke="#1f77b4" stroke-opacity="0.85" stroke-width="1.15" fill="none"/>
<text x="225.9" y="150.6" font-size="6.4">device</text>
<path d="M207.8 157.8h13.5" stroke="#ff7f0e" stroke-opacity="0.85" stroke-width="1.15" fill="none"/>
<text x="225.9" y="160.05" font-size="6.4">merchant</text>
<path d="M207.8 167.25h13.5" stroke="#2ca02c" stroke-opacity="0.85" stroke-width="1.15" fill="none"/>
<text x="225.9" y="169.5" font-size="6.4">address</text>
</g>
<g>
<path d="M318.9 113.64 L319.26 111.15 L319.62 108.65 L319.97 106.14 L320.33 103.62 L320.69 101.04 L321.05 98.43 L321.41 95.91 L321.77 93.55 L322.12 91.37 L322.48 89.29 L322.84 87.27 L323.2 85.24 L323.56 83.13 L323.92 80.99 L324.27 78.96 L324.63 77.18 L324.99 75.69 L325.35 74.39 L325.71 73.13 L326.07 71.8 L326.42 70.34 L326.78 68.8 L327.14 67.24 L327.5 65.68 L327.86 64.16 L328.22 62.72 L328.57 61.36 L328.93 60.03 L329.29 58.74 L329.65 57.49 L330.01 56.31 L330.37 55.18 L330.72 54.12 L331.08 53.06 L331.44 52.05 L331.8 51.11 L332.16 50.24 L332.52 49.49 L332.87 48.84 L333.23 48.24 L333.59 47.68 L333.95 47.16 L334.31 46.68 L334.67 46.23 L335.02 45.81 L335.38 45.42 L335.74 45.05 L336.1 44.71 L336.46 44.39 L336.81 44.09 L337.17 43.8 L337.53 43.52 L337.89 43.26 L338.25 43 L338.61 42.75 L338.96 42.5 L339.32 42.25 L339.68 42.01 L340.04 41.79 L340.4 41.58 L340.76 41.37 L341.11 41.16 L341.47 40.95 L341.83 40.73 L342.19 40.5 L342.55 40.24 L342.91 39.96 L343.26 39.64 L343.62 39.31 L343.98 38.99 L344.34 38.72 L344.7 38.47 L345.06 38.23 L345.41 38.01 L345.77 37.79 L346.13 37.58 L346.49 37.38 L346.85 37.17 L347.21 36.97 L347.56 36.77 L348.28 36.36 L349 35.93 L349.71 35.47 L350.43 35.01 L351.15 34.55 L351.86 34.11 L352.58 33.71 L353.3 33.37 L354.01 33.04 L354.73 32.74 L355.45 32.46 L356.16 32.2 L356.88 31.96 L357.6 31.74 L358.31 31.55 L359.03 31.37 L359.75 31.2 L360.46 31.04 L361.18 30.88 L361.9 30.72 L362.61 30.55 L363.33 30.37 L364.05 30.17 L364.76 29.95 L365.48 29.74 L366.2 29.54 L366.91 29.37 L367.63 29.23 L368.35 29.12 L369.06 29.03 L369.78 28.94 L370.5 28.86 L371.21 28.79 L371.93 28.71 L372.64 28.64 L373.36 28.55 L374.08 28.47 L374.79 28.38 L375.51 28.3 L376.23 28.21 L376.94 28.12 L377.66 28.04 L378.38 27.96 L379.09 27.88 L379.81 27.8 L380.53 27.73 L381.24 27.66 L381.96 27.58 L382.68 27.51 L383.39 27.45 L384.11 27.38 L384.83 27.31 L385.54 27.24 L386.26 27.16 L386.98 27.08 L387.69 27.01 L388.41 26.93 L389.13 26.86 L389.84 26.79 L390.56 26.73 L391.28 26.68 L391.99 26.64 L392.71 26.6 L393.43 26.55 L394.14 26.51 L394.86 26.47 L395.58 26.43 L396.29 26.39 L397.01 26.36 L397.73 26.32 L398.44 26.29 L399.16 26.25 L399.88 26.22 L400.59 26.19 L401.31 26.16 L402.03 26.14 L402.74 26.11 L403.46 26.09 L404.18 26.07 L404.89 26.05 L405.61 26.03 L406.33 26.01 L407.04 26 L407.76 25.98 L408.47 25.97 L409.19 25.96 L409.91 25.96 L410.62 25.95 L411.34 25.95 L412.06 25.94 L412.77 25.94 L413.49 25.93 L414.21 25.93 L414.92 25.93 L415.64 25.92 L416.36 25.91 L417.07 25.9 L417.79 25.89 L418.51 25.88 L419.22 25.87 L419.94 25.8 L420.66 25.64 L421.37 25.42 L422.09 25.19 L422.81 24.97 L423.52 24.81 L424.24 24.72 L424.96 24.69 L425.67 24.66 L426.39 24.64 L427.11 24.61 L427.82 24.59 L428.54 24.57 L429.26 24.54 L429.97 24.53 L430.69 24.51 L431.41 24.49 L432.12 24.48 L432.84 24.46 L433.56 24.45 L434.27 24.44 L434.99 24.43 L435.71 24.42 L436.42 24.41 L437.14 24.41 L437.86 24.4 L438.57 24.4 L439.29 24.4 L440.01 24.39 L440.72 24.39 L441.44 24.4 L442.16 24.4 L442.87 24.41 L443.59 24.41 L444.3 24.42 L445.02 24.44 L445.74 24.45 L446.45 24.46 L447.17 24.48 L447.89 24.5 L448.6 24.51 L449.32 24.53 L450.04 24.55 L450.75 24.57 L451.47 24.59 L452.19 24.6 L452.9 24.62 L453.62 24.64 L454.34 24.65 L455.05 24.67 L455.77 24.68 L456.49 24.69 L457.2 24.7 L457.92 24.71 L458.64 24.72 L459.35 24.72 L460.07 24.72 L460.79 24.72 L461.5 24.72 L462.22 24.71 L462.94 24.7 L463.65 24.69 L464.37 24.67 L465.09 24.66 L465.8 24.64 L466.52 24.62 L467.24 24.6 L467.95 24.57 L468.67 24.55 L469.39 24.52 L470.1 24.5 L470.82 24.47 L471.54 24.44 L472.25 24.41 L472.97 24.38 L473.69 24.35 L474.4 24.32 L475.12 24.29 L475.84 24.26 L476.55 24.23 L477.27 24.2 L477.99 24.16 L478.7 24.12 L479.42 24.08 L480.13 24.04 L480.85 23.99 L481.57 23.94 L482.28 23.89 L483 23.84 L483.72 23.78 L484.43 23.73 L485.15 23.67 L485.87 23.61 L486.58 23.55 L487.3 23.5 L488.02 23.44 L488.73 23.38 L489.45 23.33 L490.17 23.27 L490.88 23.22 L491.6 23.16 L492.32 23.11 L493.03 23.07 L493.75 23.01 L494.47 22.96 L495.18 22.9 L495.9 22.84 L496.62 22.78 L497.33 22.72 L498.05 22.66 L498.77 22.6 L499.48 22.54 L500.2 22.49 L500.92 22.44 L501.63 22.39 L502.35 22.35 L503.07 22.31 L503.78 22.28 L504.5 22.26 L505.22 22.25 L505.93 22.24 L506.65 22.24 L507.37 22.24 L508.08 22.24 L508.8 22.24 L509.52 22.24 L510.23 22.24 L510.95 22.24 L511.67 22.25 L512.38 22.25 L513.1 22.25 L513.82 22.25 L514.53 22.25 L515.25 22.25 L515.96 22.25 L516.68 22.26 L517.4 22.26 L518.11 22.26 L518.83 22.26 L519.55 22.27 L520.26 22.27 L520.98 22.28 L521.7 22.28 L522.41 22.29 L523.13 22.29 L523.85 22.3 L524.56 22.3 L525.28 22.31 L526 22.32 L526.71 22.33 L527.43 22.34 L528.15 22.35 L528.86 22.36 L529.58 22.37 L530.3 22.38 L531.01 22.39 L531.73 22.4 L532.45 22.42 L533.16 22.43" fill="none" stroke="#1f77b4" stroke-width="1.15" stroke-opacity="0.85" stroke-linejoin="round" stroke-linecap="square"/>
<path d="M318.9 40.8 L319.26 40.03 L319.62 39.32 L319.97 38.73 L320.33 38.3 L320.69 37.94 L321.05 37.61 L321.41 37.33 L321.77 37.1 L322.12 36.94 L322.48 36.87 L322.84 36.83 L323.2 36.79 L323.56 36.77 L323.92 36.75 L324.27 36.73 L324.63 36.71 L324.99 36.7 L325.35 36.69 L325.71 36.67 L326.07 36.65 L326.42 36.63 L326.78 36.6 L327.14 36.56 L327.5 36.52 L327.86 36.47 L328.22 36.41 L328.57 36.35 L328.93 36.29 L329.29 36.22 L329.65 36.16 L330.01 36.09 L330.37 36.02 L330.72 35.95 L331.08 35.88 L331.44 35.82 L331.8 35.75 L332.16 35.67 L332.52 35.6 L332.87 35.52 L333.23 35.44 L333.59 35.36 L333.95 35.28 L334.31 35.21 L334.67 35.14 L335.02 35.07 L335.38 35.01 L335.74 34.95 L336.1 34.9 L336.46 34.86 L336.81 34.82 L337.17 34.79 L337.53 34.75 L337.89 34.72 L338.25 34.68 L338.61 34.64 L338.96 34.58 L339.32 34.52 L339.68 34.45 L340.04 34.35 L340.4 34.15 L340.76 33.86 L341.11 33.5 L341.47 33.1 L341.83 32.7 L342.19 32.32 L342.55 31.99 L342.91 31.73 L343.26 31.51 L343.62 31.29 L343.98 31.09 L344.34 30.89 L344.7 30.7 L345.06 30.52 L345.41 30.35 L345.77 30.18 L346.13 30.01 L346.49 29.85 L346.85 29.69 L347.21 29.53 L347.56 29.38 L348.28 29.06 L349 28.74 L349.71 28.41 L350.43 28.07 L351.15 27.73 L351.86 27.4 L352.58 27.09 L353.3 26.79 L354.01 26.52 L354.73 26.28 L355.45 26.08 L356.16 25.93 L356.88 25.79 L357.6 25.67 L358.31 25.55 L359.03 25.45 L359.75 25.35 L360.46 25.27 L361.18 25.18 L361.9 25.1 L362.61 25.03 L363.33 24.96 L364.05 24.89 L364.76 24.82 L365.48 24.76 L366.2 24.71 L366.91 24.65 L367.63 24.6 L368.35 24.55 L369.06 24.49 L369.78 24.44 L370.5 24.39 L371.21 24.34 L371.93 24.29 L372.64 24.24 L373.36 24.19 L374.08 24.14 L374.79 24.1 L375.51 24.05 L376.23 23.99 L376.94 23.94 L377.66 23.88 L378.38 23.81 L379.09 23.74 L379.81 23.66 L380.53 23.58 L381.24 23.5 L381.96 23.41 L382.68 23.33 L383.39 23.24 L384.11 23.17 L384.83 23.1 L385.54 23.03 L386.26 22.97 L386.98 22.91 L387.69 22.86 L388.41 22.8 L389.13 22.75 L389.84 22.7 L390.56 22.64 L391.28 22.59 L391.99 22.55 L392.71 22.5 L393.43 22.45 L394.14 22.4 L394.86 22.35 L395.58 22.3 L396.29 22.25 L397.01 22.21 L397.73 22.16 L398.44 22.12 L399.16 22.07 L399.88 22.03 L400.59 21.98 L401.31 21.94 L402.03 21.9 L402.74 21.86 L403.46 21.82 L404.18 21.78 L404.89 21.75 L405.61 21.71 L406.33 21.68 L407.04 21.64 L407.76 21.61 L408.47 21.58 L409.19 21.55 L409.91 21.53 L410.62 21.5 L411.34 21.47 L412.06 21.45 L412.77 21.42 L413.49 21.4 L414.21 21.38 L414.92 21.35 L415.64 21.33 L416.36 21.31 L417.07 21.29 L417.79 21.27 L418.51 21.24 L419.22 21.22 L419.94 21.2 L420.66 21.18 L421.37 21.16 L422.09 21.14 L422.81 21.12 L423.52 21.1 L424.24 21.07 L424.96 21.05 L425.67 21.03 L426.39 21.01 L427.11 20.99 L427.82 20.97 L428.54 20.96 L429.26 20.94 L429.97 20.92 L430.69 20.9 L431.41 20.88 L432.12 20.87 L432.84 20.85 L433.56 20.83 L434.27 20.81 L434.99 20.79 L435.71 20.77 L436.42 20.75 L437.14 20.73 L437.86 20.71 L438.57 20.68 L439.29 20.66 L440.01 20.63 L440.72 20.61 L441.44 20.58 L442.16 20.54 L442.87 20.51 L443.59 20.46 L444.3 20.42 L445.02 20.37 L445.74 20.32 L446.45 20.27 L447.17 20.22 L447.89 20.17 L448.6 20.12 L449.32 20.07 L450.04 20.02 L450.75 19.97 L451.47 19.92 L452.19 19.88 L452.9 19.83 L453.62 19.79 L454.34 19.76 L455.05 19.73 L455.77 19.7 L456.49 19.68 L457.2 19.67 L457.92 19.65 L458.64 19.64 L459.35 19.63 L460.07 19.62 L460.79 19.61 L461.5 19.6 L462.22 19.59 L462.94 19.59 L463.65 19.58 L464.37 19.57 L465.09 19.56 L465.8 19.54 L466.52 19.53 L467.24 19.52 L467.95 19.51 L468.67 19.5 L469.39 19.49 L470.1 19.47 L470.82 19.46 L471.54 19.45 L472.25 19.44 L472.97 19.42 L473.69 19.41 L474.4 19.4 L475.12 19.39 L475.84 19.37 L476.55 19.36 L477.27 19.35 L477.99 19.33 L478.7 19.32 L479.42 19.31 L480.13 19.29 L480.85 19.28 L481.57 19.26 L482.28 19.25 L483 19.23 L483.72 19.22 L484.43 19.2 L485.15 19.19 L485.87 19.17 L486.58 19.15 L487.3 19.14 L488.02 19.12 L488.73 19.1 L489.45 19.08 L490.17 19.06 L490.88 19.05 L491.6 19.03 L492.32 19.01 L493.03 18.99 L493.75 18.96 L494.47 18.94 L495.18 18.91 L495.9 18.87 L496.62 18.84 L497.33 18.8 L498.05 18.76 L498.77 18.72 L499.48 18.68 L500.2 18.64 L500.92 18.6 L501.63 18.57 L502.35 18.53 L503.07 18.49 L503.78 18.46 L504.5 18.43 L505.22 18.41 L505.93 18.38 L506.65 18.37 L507.37 18.35 L508.08 18.34 L508.8 18.34 L509.52 18.34 L510.23 18.34 L510.95 18.34 L511.67 18.34 L512.38 18.34 L513.1 18.34 L513.82 18.34 L514.53 18.34 L515.25 18.34 L515.96 18.34 L516.68 18.35 L517.4 18.35 L518.11 18.35 L518.83 18.35 L519.55 18.35 L520.26 18.36 L520.98 18.36 L521.7 18.36 L522.41 18.37 L523.13 18.37 L523.85 18.38 L524.56 18.38 L525.28 18.39 L526 18.4 L526.71 18.41 L527.43 18.41 L528.15 18.42 L528.86 18.43 L529.58 18.44 L530.3 18.45 L531.01 18.46 L531.73 18.48 L532.45 18.49 L533.16 18.5" fill="none" stroke="#ff7f0e" stroke-width="1.15" stroke-opacity="0.85" stroke-linejoin="round" stroke-linecap="square"/>
<path d="M318.9 75.07 L319.26 68.94 L319.62 64.02 L319.97 60.07 L320.33 57.11 L320.69 54.9 L321.05 53.11 L321.41 51.57 L321.77 50.22 L322.12 49.04 L322.48 47.99 L322.84 47.02 L323.2 46.12 L323.56 45.28 L323.92 44.49 L324.27 43.75 L324.63 43.05 L324.99 42.37 L325.35 41.73 L325.71 41.12 L326.07 40.55 L326.42 40.02 L326.78 39.54 L327.14 39.09 L327.5 38.64 L327.86 38.2 L328.22 37.79 L328.57 37.42 L328.93 37.09 L329.29 36.82 L329.65 36.63 L330.01 36.49 L330.37 36.36 L330.72 36.25 L331.08 36.15 L331.44 36.06 L331.8 35.98 L332.16 35.9 L332.52 35.83 L332.87 35.77 L333.23 35.71 L333.59 35.65 L333.95 35.59 L334.31 35.53 L334.67 35.48 L335.02 35.43 L335.38 35.38 L335.74 35.34 L336.1 35.29 L336.46 35.25 L336.81 35.21 L337.17 35.17 L337.53 35.13 L337.89 35.09 L338.25 35.06 L338.61 35.02 L338.96 34.98 L339.32 34.94 L339.68 34.89 L340.04 34.85 L340.4 34.8 L340.76 34.75 L341.11 34.7 L341.47 34.65 L341.83 34.6 L342.19 34.55 L342.55 34.49 L342.91 34.44 L343.26 34.39 L343.62 34.33 L343.98 34.28 L344.34 34.23 L344.7 34.17 L345.06 34.12 L345.41 34.07 L345.77 34.02 L346.13 33.98 L346.49 33.93 L346.85 33.89 L347.21 33.84 L347.56 33.8 L348.28 33.73 L349 33.67 L349.71 33.6 L350.43 33.54 L351.15 33.48 L351.86 33.42 L352.58 33.37 L353.3 33.32 L354.01 33.29 L354.73 33.26 L355.45 33.24 L356.16 33.23 L356.88 33.22 L357.6 33.22 L358.31 33.21 L359.03 33.2 L359.75 33.2 L360.46 33.2 L361.18 33.19 L361.9 33.19 L362.61 33.18 L363.33 33.18 L364.05 33.18 L364.76 33.17 L365.48 33.17 L366.2 33.17 L366.91 33.16 L367.63 33.16 L368.35 33.16 L369.06 33.16 L369.78 33.16 L370.5 33.15 L371.21 33.15 L371.93 33.15 L372.64 33.15 L373.36 33.15 L374.08 33.15 L374.79 33.14 L375.51 33.14 L376.23 33.14 L376.94 33.14 L377.66 33.14 L378.38 33.14 L379.09 33.13 L379.81 33.13 L380.53 33.13 L381.24 33.13 L381.96 33.12 L382.68 33.12 L383.39 33.12 L384.11 33.12 L384.83 33.11 L385.54 33.11 L386.26 33.11 L386.98 33.11 L387.69 33.1 L388.41 33.1 L389.13 33.1 L389.84 33.1 L390.56 33.1 L391.28 33.09 L391.99 33.09 L392.71 33.09 L393.43 33.08 L394.14 33.07 L394.86 33.01 L395.58 32.36 L396.29 31.83 L397.01 31.73 L397.73 31.66 L398.44 31.62 L399.16 31.58 L399.88 31.55 L400.59 31.5 L401.31 31.43 L402.03 31.29 L402.74 31.1 L403.46 30.91 L404.18 30.79 L404.89 30.78 L405.61 30.78 L406.33 30.78 L407.04 30.78 L407.76 30.78 L408.47 30.78 L409.19 30.78 L409.91 30.78 L410.62 30.78 L411.34 30.78 L412.06 30.78 L412.77 30.78 L413.49 30.78 L414.21 30.78 L414.92 30.78 L415.64 30.78 L416.36 30.78 L417.07 30.78 L417.79 30.78 L418.51 30.78 L419.22 30.78 L419.94 30.78 L420.66 30.78 L421.37 30.78 L422.09 30.78 L422.81 30.78 L423.52 30.78 L424.24 30.78 L424.96 30.78 L425.67 30.78 L426.39 30.79 L427.11 30.8 L427.82 30.81 L428.54 30.82 L429.26 30.84 L429.97 30.85 L430.69 30.86 L431.41 30.87 L432.12 30.88 L432.84 30.89 L433.56 30.89 L434.27 30.88 L434.99 30.8 L435.71 30.67 L436.42 30.53 L437.14 30.42 L437.86 30.36 L438.57 30.29 L439.29 30.24 L440.01 30.19 L440.72 30.15 L441.44 30.1 L442.16 30.06 L442.87 30.01 L443.59 29.96 L444.3 29.9 L445.02 29.83 L445.74 29.74 L446.45 29.6 L447.17 29.44 L447.89 29.31 L448.6 29.26 L449.32 29.26 L450.04 29.27 L450.75 29.29 L451.47 29.31 L452.19 29.34 L452.9 29.37 L453.62 29.41 L454.34 29.45 L455.05 29.49 L455.77 29.55 L456.49 29.64 L457.2 29.75 L457.92 29.87 L458.64 29.97 L459.35 30.06 L460.07 30.12 L460.79 30.16 L461.5 30.19 L462.22 30.22 L462.94 30.25 L463.65 30.27 L464.37 30.28 L465.09 30.28 L465.8 30.28 L466.52 30.26 L467.24 30.24 L467.95 30.21 L468.67 30.17 L469.39 30.12 L470.1 30.08 L470.82 30.02 L471.54 29.97 L472.25 29.91 L472.97 29.86 L473.69 29.81 L474.4 29.76 L475.12 29.71 L475.84 29.67 L476.55 29.63 L477.27 29.6 L477.99 29.56 L478.7 29.53 L479.42 29.5 L480.13 29.47 L480.85 29.44 L481.57 29.4 L482.28 29.37 L483 29.34 L483.72 29.31 L484.43 29.28 L485.15 29.26 L485.87 29.23 L486.58 29.2 L487.3 29.18 L488.02 29.15 L488.73 29.13 L489.45 29.11 L490.17 29.09 L490.88 29.07 L491.6 29.05 L492.32 29.03 L493.03 29.02 L493.75 29 L494.47 28.99 L495.18 28.97 L495.9 28.96 L496.62 28.94 L497.33 28.93 L498.05 28.91 L498.77 28.9 L499.48 28.89 L500.2 28.87 L500.92 28.86 L501.63 28.85 L502.35 28.84 L503.07 28.83 L503.78 28.82 L504.5 28.81 L505.22 28.81 L505.93 28.8 L506.65 28.79 L507.37 28.79 L508.08 28.79 L508.8 28.79 L509.52 28.79 L510.23 28.79 L510.95 28.79 L511.67 28.79 L512.38 28.79 L513.1 28.79 L513.82 28.79 L514.53 28.8 L515.25 28.8 L515.96 28.8 L516.68 28.8 L517.4 28.81 L518.11 28.81 L518.83 28.82 L519.55 28.82 L520.26 28.83 L520.98 28.83 L521.7 28.84 L522.41 28.85 L523.13 28.85 L523.85 28.86 L524.56 28.87 L525.28 28.88 L526 28.89 L526.71 28.9 L527.43 28.91 L528.15 28.92 L528.86 28.93 L529.58 28.95 L530.3 28.96 L531.01 28.97 L531.73 28.99 L532.45 29.01 L533.16 29.02" fill="none" stroke="#2ca02c" stroke-width="1.15" stroke-opacity="0.85" stroke-linejoin="round" stroke-linecap="square"/>
<rect x="308.5" y="14.5" width="235" height="104" fill="none" stroke="#737373" stroke-width="1"/>
<text x="318.9" y="126" font-size="5.1" text-anchor="middle">0</text>
<text x="354.73" y="126" font-size="5.1" text-anchor="middle">50</text>
<text x="390.56" y="126" font-size="5.1" text-anchor="middle">100</text>
<text x="426.39" y="126" font-size="5.1" text-anchor="middle">150</text>
<text x="462.22" y="126" font-size="5.1" text-anchor="middle">200</text>
<text x="498.05" y="126" font-size="5.1" text-anchor="middle">250</text>
<text x="533.88" y="126" font-size="5.1" text-anchor="middle">300</text>
<text x="304.2" y="111.8" font-size="5.1" text-anchor="end">0.55</text>
<text x="304.2" y="100.11" font-size="5.1" text-anchor="end">0.60</text>
<text x="304.2" y="88.43" font-size="5.1" text-anchor="end">0.65</text>
<text x="304.2" y="76.74" font-size="5.1" text-anchor="end">0.70</text>
<text x="304.2" y="65.05" font-size="5.1" text-anchor="end">0.75</text>
<text x="304.2" y="53.36" font-size="5.1" text-anchor="end">0.80</text>
<text x="304.2" y="41.67" font-size="5.1" text-anchor="end">0.85</text>
<text x="304.2" y="29.99" font-size="5.1" text-anchor="end">0.90</text>
<text x="304.2" y="18.3" font-size="5.1" text-anchor="end">0.95</text>
<path d="M318.9 118.5v2.2M354.73 118.5v2.2M390.56 118.5v2.2M426.39 118.5v2.2M462.22 118.5v2.2M498.05 118.5v2.2M533.88 118.5v2.2M308.5 109.9h-2.2M308.5 98.21h-2.2M308.5 86.53h-2.2M308.5 74.84h-2.2M308.5 63.15h-2.2M308.5 51.46h-2.2M308.5 39.77h-2.2M308.5 28.09h-2.2M308.5 16.4h-2.2" stroke="#737373" stroke-width="0.9" fill="none"/>
<text x="426" y="11.3" font-size="6.4" text-anchor="middle">accuracy vs. epoches</text>
<text transform="translate(289.85 67.3) rotate(-90)" font-size="6.4" text-anchor="middle">accuracy</text>
<rect x="486.2" y="85.5" width="54" height="30.3" rx="1.3" fill="#fff" fill-opacity="0.8" stroke="#ccc" stroke-opacity="0.65" stroke-width="0.6"/>
<path d="M488.8 91.15h13.5" stroke="#1f77b4" stroke-opacity="0.85" stroke-width="1.15" fill="none"/>
<text x="506.9" y="93.4" font-size="6.4">device</text>
<path d="M488.8 100.6h13.5" stroke="#ff7f0e" stroke-opacity="0.85" stroke-width="1.15" fill="none"/>
<text x="506.9" y="102.85" font-size="6.4">merchant</text>
<path d="M488.8 110.05h13.5" stroke="#2ca02c" stroke-opacity="0.85" stroke-width="1.15" fill="none"/>
<text x="506.9" y="112.3" font-size="6.4">address</text>
</g>
<g>
<path d="M318.9 144.01 L319.26 146 L319.62 147.77 L319.97 149.36 L320.33 150.81 L320.69 152.14 L321.05 153.37 L321.41 154.53 L321.77 155.62 L322.12 156.66 L322.48 157.66 L322.84 158.61 L323.2 159.53 L323.56 160.42 L323.92 161.29 L324.27 162.13 L324.63 162.96 L324.99 163.77 L325.35 164.56 L325.71 165.34 L326.07 166.11 L326.42 166.86 L326.78 167.6 L327.14 168.34 L327.5 169.06 L327.86 169.77 L328.22 170.48 L328.57 171.18 L328.93 171.87 L329.29 172.55 L329.65 173.23 L330.01 173.89 L330.37 174.56 L330.72 175.22 L331.08 175.87 L331.44 176.52 L331.8 177.16 L332.16 177.79 L332.52 178.42 L332.87 179.04 L333.23 179.65 L333.59 180.26 L333.95 180.86 L334.31 181.45 L334.67 182.03 L335.02 182.61 L335.38 183.18 L335.74 183.74 L336.1 184.29 L336.46 184.84 L336.81 185.37 L337.17 185.9 L337.53 186.43 L337.89 186.94 L338.25 187.45 L338.61 187.95 L338.96 188.44 L339.32 188.92 L339.68 189.4 L340.04 189.87 L340.4 190.33 L340.76 190.79 L341.11 191.23 L341.47 191.68 L341.83 192.11 L342.19 192.54 L342.55 192.96 L342.91 193.37 L343.26 193.78 L343.62 194.18 L343.98 194.58 L344.34 194.96 L344.7 195.35 L345.06 195.72 L345.41 196.09 L345.77 196.46 L346.13 196.81 L346.49 197.17 L346.85 197.51 L347.21 197.85 L347.56 198.19 L348.28 198.84 L349 199.47 L349.71 200.09 L350.43 200.68 L351.15 201.25 L351.86 201.8 L352.58 202.34 L353.3 202.85 L354.01 203.35 L354.73 203.84 L355.45 204.3 L356.16 204.76 L356.88 205.2 L357.6 205.62 L358.31 206.04 L359.03 206.44 L359.75 206.83 L360.46 207.21 L361.18 207.58 L361.9 207.93 L362.61 208.28 L363.33 208.62 L364.05 208.95 L364.76 209.28 L365.48 209.59 L366.2 209.9 L366.91 210.2 L367.63 210.49 L368.35 210.77 L369.06 211.05 L369.78 211.33 L370.5 211.59 L371.21 211.85 L371.93 212.11 L372.64 212.35 L373.36 212.6 L374.08 212.84 L374.79 213.07 L375.51 213.3 L376.23 213.52 L376.94 213.74 L377.66 213.96 L378.38 214.17 L379.09 214.38 L379.81 214.58 L380.53 214.78 L381.24 214.98 L381.96 215.17 L382.68 215.36 L383.39 215.55 L384.11 215.73 L384.83 215.91 L385.54 216.09 L386.26 216.26 L386.98 216.43 L387.69 216.6 L388.41 216.77 L389.13 216.93 L389.84 217.09 L390.56 217.25 L391.28 217.41 L391.99 217.56 L392.71 217.71 L393.43 217.86 L394.14 218.01 L394.86 218.15 L395.58 218.3 L396.29 218.44 L397.01 218.58 L397.73 218.72 L398.44 218.85 L399.16 218.99 L399.88 219.12 L400.59 219.25 L401.31 219.38 L402.03 219.51 L402.74 219.63 L403.46 219.76 L404.18 219.88 L404.89 220 L405.61 220.12 L406.33 220.24 L407.04 220.36 L407.76 220.47 L408.47 220.59 L409.19 220.7 L409.91 220.82 L410.62 220.93 L411.34 221.04 L412.06 221.15 L412.77 221.25 L413.49 221.36 L414.21 221.47 L414.92 221.57 L415.64 221.67 L416.36 221.78 L417.07 221.88 L417.79 221.98 L418.51 222.08 L419.22 222.18 L419.94 222.27 L420.66 222.37 L421.37 222.46 L422.09 222.56 L422.81 222.65 L423.52 222.74 L424.24 222.83 L424.96 222.92 L425.67 223.01 L426.39 223.1 L427.11 223.19 L427.82 223.28 L428.54 223.36 L429.26 223.45 L429.97 223.53 L430.69 223.62 L431.41 223.7 L432.12 223.78 L432.84 223.86 L433.56 223.94 L434.27 224.02 L434.99 224.1 L435.71 224.18 L436.42 224.25 L437.14 224.33 L437.86 224.41 L438.57 224.48 L439.29 224.55 L440.01 224.63 L440.72 224.7 L441.44 224.77 L442.16 224.84 L442.87 224.92 L443.59 224.98 L444.3 225.05 L445.02 225.12 L445.74 225.19 L446.45 225.26 L447.17 225.32 L447.89 225.39 L448.6 225.46 L449.32 225.52 L450.04 225.59 L450.75 225.65 L451.47 225.71 L452.19 225.77 L452.9 225.84 L453.62 225.9 L454.34 225.96 L455.05 226.02 L455.77 226.08 L456.49 226.14 L457.2 226.2 L457.92 226.25 L458.64 226.31 L459.35 226.37 L460.07 226.42 L460.79 226.48 L461.5 226.54 L462.22 226.59 L462.94 226.64 L463.65 226.7 L464.37 226.75 L465.09 226.8 L465.8 226.86 L466.52 226.91 L467.24 226.96 L467.95 227.01 L468.67 227.06 L469.39 227.11 L470.1 227.16 L470.82 227.21 L471.54 227.26 L472.25 227.31 L472.97 227.35 L473.69 227.4 L474.4 227.45 L475.12 227.5 L475.84 227.54 L476.55 227.59 L477.27 227.63 L477.99 227.68 L478.7 227.72 L479.42 227.77 L480.13 227.81 L480.85 227.85 L481.57 227.9 L482.28 227.94 L483 227.98 L483.72 228.02 L484.43 228.06 L485.15 228.1 L485.87 228.14 L486.58 228.18 L487.3 228.22 L488.02 228.26 L488.73 228.3 L489.45 228.34 L490.17 228.38 L490.88 228.42 L491.6 228.46 L492.32 228.49 L493.03 228.53 L493.75 228.57 L494.47 228.6 L495.18 228.64 L495.9 228.68 L496.62 228.71 L497.33 228.75 L498.05 228.78 L498.77 228.81 L499.48 228.85 L500.2 228.88 L500.92 228.92 L501.63 228.95 L502.35 228.98 L503.07 229.01 L503.78 229.05 L504.5 229.08 L505.22 229.11 L505.93 229.14 L506.65 229.17 L507.37 229.2 L508.08 229.23 L508.8 229.27 L509.52 229.3 L510.23 229.32 L510.95 229.35 L511.67 229.38 L512.38 229.41 L513.1 229.44 L513.82 229.47 L514.53 229.5 L515.25 229.53 L515.96 229.55 L516.68 229.58 L517.4 229.61 L518.11 229.63 L518.83 229.66 L519.55 229.69 L520.26 229.71 L520.98 229.74 L521.7 229.76 L522.41 229.79 L523.13 229.81 L523.85 229.84 L524.56 229.86 L525.28 229.89 L526 229.91 L526.71 229.94 L527.43 229.96 L528.15 229.98 L528.86 230.01 L529.58 230.03 L530.3 230.05 L531.01 230.08 L531.73 230.1 L532.45 230.12 L533.16 230.14" fill="none" stroke="#1f77b4" stroke-width="1.15" stroke-opacity="0.85" stroke-linejoin="round" stroke-linecap="square"/>
<path d="M318.9 164.57 L319.26 166.19 L319.62 167.63 L319.97 168.94 L320.33 170.14 L320.69 171.26 L321.05 172.31 L321.41 173.31 L321.77 174.27 L322.12 175.19 L322.48 176.09 L322.84 176.97 L323.2 177.83 L323.56 178.67 L323.92 179.5 L324.27 180.32 L324.63 181.13 L324.99 181.94 L325.35 182.73 L325.71 183.52 L326.07 184.31 L326.42 185.08 L326.78 185.84 L327.14 186.6 L327.5 187.34 L327.86 188.07 L328.22 188.79 L328.57 189.5 L328.93 190.2 L329.29 190.88 L329.65 191.56 L330.01 192.22 L330.37 192.88 L330.72 193.52 L331.08 194.15 L331.44 194.77 L331.8 195.38 L332.16 195.98 L332.52 196.58 L332.87 197.16 L333.23 197.73 L333.59 198.29 L333.95 198.84 L334.31 199.38 L334.67 199.92 L335.02 200.44 L335.38 200.96 L335.74 201.46 L336.1 201.96 L336.46 202.44 L336.81 202.92 L337.17 203.39 L337.53 203.85 L337.89 204.3 L338.25 204.73 L338.61 205.16 L338.96 205.59 L339.32 206 L339.68 206.4 L340.04 206.79 L340.4 207.18 L340.76 207.55 L341.11 207.92 L341.47 208.28 L341.83 208.63 L342.19 208.97 L342.55 209.3 L342.91 209.63 L343.26 209.95 L343.62 210.26 L343.98 210.56 L344.34 210.85 L344.7 211.14 L345.06 211.42 L345.41 211.69 L345.77 211.96 L346.13 212.22 L346.49 212.48 L346.85 212.73 L347.21 212.98 L347.56 213.22 L348.28 213.68 L349 214.13 L349.71 214.56 L350.43 214.97 L351.15 215.37 L351.86 215.76 L352.58 216.13 L353.3 216.49 L354.01 216.84 L354.73 217.18 L355.45 217.51 L356.16 217.83 L356.88 218.14 L357.6 218.45 L358.31 218.74 L359.03 219.03 L359.75 219.31 L360.46 219.59 L361.18 219.86 L361.9 220.12 L362.61 220.38 L363.33 220.64 L364.05 220.88 L364.76 221.13 L365.48 221.37 L366.2 221.6 L366.91 221.83 L367.63 222.06 L368.35 222.28 L369.06 222.5 L369.78 222.72 L370.5 222.93 L371.21 223.13 L371.93 223.34 L372.64 223.54 L373.36 223.73 L374.08 223.93 L374.79 224.12 L375.51 224.3 L376.23 224.49 L376.94 224.67 L377.66 224.85 L378.38 225.02 L379.09 225.19 L379.81 225.36 L380.53 225.53 L381.24 225.7 L381.96 225.86 L382.68 226.02 L383.39 226.17 L384.11 226.33 L384.83 226.48 L385.54 226.63 L386.26 226.78 L386.98 226.93 L387.69 227.07 L388.41 227.21 L389.13 227.35 L389.84 227.49 L390.56 227.63 L391.28 227.76 L391.99 227.89 L392.71 228.02 L393.43 228.15 L394.14 228.28 L394.86 228.41 L395.58 228.53 L396.29 228.65 L397.01 228.77 L397.73 228.89 L398.44 229.01 L399.16 229.13 L399.88 229.24 L400.59 229.35 L401.31 229.46 L402.03 229.58 L402.74 229.68 L403.46 229.79 L404.18 229.9 L404.89 230 L405.61 230.11 L406.33 230.21 L407.04 230.31 L407.76 230.41 L408.47 230.51 L409.19 230.61 L409.91 230.7 L410.62 230.8 L411.34 230.9 L412.06 230.99 L412.77 231.08 L413.49 231.17 L414.21 231.26 L414.92 231.35 L415.64 231.44 L416.36 231.53 L417.07 231.61 L417.79 231.7 L418.51 231.78 L419.22 231.87 L419.94 231.95 L420.66 232.03 L421.37 232.11 L422.09 232.19 L422.81 232.27 L423.52 232.35 L424.24 232.43 L424.96 232.5 L425.67 232.58 L426.39 232.65 L427.11 232.73 L427.82 232.8 L428.54 232.87 L429.26 232.95 L429.97 233.02 L430.69 233.09 L431.41 233.16 L432.12 233.23 L432.84 233.3 L433.56 233.36 L434.27 233.43 L434.99 233.5 L435.71 233.56 L436.42 233.63 L437.14 233.69 L437.86 233.76 L438.57 233.82 L439.29 233.88 L440.01 233.94 L440.72 234.01 L441.44 234.07 L442.16 234.13 L442.87 234.19 L443.59 234.25 L444.3 234.3 L445.02 234.36 L445.74 234.42 L446.45 234.48 L447.17 234.53 L447.89 234.59 L448.6 234.64 L449.32 234.7 L450.04 234.75 L450.75 234.81 L451.47 234.86 L452.19 234.91 L452.9 234.97 L453.62 235.02 L454.34 235.07 L455.05 235.12 L455.77 235.17 L456.49 235.22 L457.2 235.27 L457.92 235.32 L458.64 235.37 L459.35 235.42 L460.07 235.46 L460.79 235.51 L461.5 235.56 L462.22 235.61 L462.94 235.65 L463.65 235.7 L464.37 235.74 L465.09 235.79 L465.8 235.83 L466.52 235.88 L467.24 235.92 L467.95 235.96 L468.67 236.01 L469.39 236.05 L470.1 236.09 L470.82 236.13 L471.54 236.18 L472.25 236.22 L472.97 236.26 L473.69 236.3 L474.4 236.34 L475.12 236.38 L475.84 236.42 L476.55 236.46 L477.27 236.5 L477.99 236.54 L478.7 236.57 L479.42 236.61 L480.13 236.65 L480.85 236.69 L481.57 236.72 L482.28 236.76 L483 236.8 L483.72 236.83 L484.43 236.87 L485.15 236.9 L485.87 236.94 L486.58 236.97 L487.3 237.01 L488.02 237.04 L488.73 237.08 L489.45 237.11 L490.17 237.15 L490.88 237.18 L491.6 237.21 L492.32 237.24 L493.03 237.28 L493.75 237.31 L494.47 237.34 L495.18 237.37 L495.9 237.4 L496.62 237.44 L497.33 237.47 L498.05 237.5 L498.77 237.53 L499.48 237.56 L500.2 237.59 L500.92 237.62 L501.63 237.65 L502.35 237.68 L503.07 237.71 L503.78 237.73 L504.5 237.76 L505.22 237.79 L505.93 237.82 L506.65 237.85 L507.37 237.88 L508.08 237.9 L508.8 237.93 L509.52 237.96 L510.23 237.98 L510.95 238.01 L511.67 238.04 L512.38 238.06 L513.1 238.09 L513.82 238.12 L514.53 238.14 L515.25 238.17 L515.96 238.19 L516.68 238.22 L517.4 238.24 L518.11 238.27 L518.83 238.29 L519.55 238.32 L520.26 238.34 L520.98 238.36 L521.7 238.39 L522.41 238.41 L523.13 238.43 L523.85 238.46 L524.56 238.48 L525.28 238.5 L526 238.53 L526.71 238.55 L527.43 238.57 L528.15 238.59 L528.86 238.62 L529.58 238.64 L530.3 238.66 L531.01 238.68 L531.73 238.7 L532.45 238.72 L533.16 238.74" fill="none" stroke="#ff7f0e" stroke-width="1.15" stroke-opacity="0.85" stroke-linejoin="round" stroke-linecap="square"/>
<path d="M318.9 158.66 L319.26 160.07 L319.62 161.42 L319.97 162.69 L320.33 163.9 L320.69 165.06 L321.05 166.17 L321.41 167.23 L321.77 168.24 L322.12 169.22 L322.48 170.16 L322.84 171.07 L323.2 171.95 L323.56 172.79 L323.92 173.62 L324.27 174.41 L324.63 175.18 L324.99 175.93 L325.35 176.66 L325.71 177.37 L326.07 178.06 L326.42 178.73 L326.78 179.39 L327.14 180.03 L327.5 180.65 L327.86 181.26 L328.22 181.86 L328.57 182.44 L328.93 183.01 L329.29 183.57 L329.65 184.12 L330.01 184.65 L330.37 185.18 L330.72 185.69 L331.08 186.2 L331.44 186.69 L331.8 187.18 L332.16 187.66 L332.52 188.12 L332.87 188.58 L333.23 189.03 L333.59 189.48 L333.95 189.91 L334.31 190.34 L334.67 190.75 L335.02 191.17 L335.38 191.57 L335.74 191.97 L336.1 192.35 L336.46 192.74 L336.81 193.11 L337.17 193.48 L337.53 193.84 L337.89 194.2 L338.25 194.55 L338.61 194.89 L338.96 195.23 L339.32 195.56 L339.68 195.89 L340.04 196.21 L340.4 196.53 L340.76 196.84 L341.11 197.14 L341.47 197.44 L341.83 197.74 L342.19 198.03 L342.55 198.31 L342.91 198.6 L343.26 198.87 L343.62 199.14 L343.98 199.41 L344.34 199.68 L344.7 199.94 L345.06 200.19 L345.41 200.44 L345.77 200.69 L346.13 200.93 L346.49 201.17 L346.85 201.41 L347.21 201.64 L347.56 201.87 L348.28 202.31 L349 202.75 L349.71 203.17 L350.43 203.58 L351.15 203.97 L351.86 204.35 L352.58 204.73 L353.3 205.09 L354.01 205.44 L354.73 205.78 L355.45 206.11 L356.16 206.43 L356.88 206.74 L357.6 207.05 L358.31 207.34 L359.03 207.63 L359.75 207.91 L360.46 208.18 L361.18 208.45 L361.9 208.71 L362.61 208.96 L363.33 209.21 L364.05 209.45 L364.76 209.68 L365.48 209.91 L366.2 210.13 L366.91 210.35 L367.63 210.57 L368.35 210.78 L369.06 210.98 L369.78 211.18 L370.5 211.38 L371.21 211.57 L371.93 211.76 L372.64 211.94 L373.36 212.12 L374.08 212.3 L374.79 212.47 L375.51 212.64 L376.23 212.81 L376.94 212.97 L377.66 213.13 L378.38 213.29 L379.09 213.45 L379.81 213.6 L380.53 213.75 L381.24 213.9 L381.96 214.04 L382.68 214.18 L383.39 214.32 L384.11 214.46 L384.83 214.59 L385.54 214.72 L386.26 214.85 L386.98 214.98 L387.69 215.11 L388.41 215.23 L389.13 215.35 L389.84 215.47 L390.56 215.59 L391.28 215.71 L391.99 215.82 L392.71 215.94 L393.43 216.05 L394.14 216.16 L394.86 216.27 L395.58 216.37 L396.29 216.48 L397.01 216.58 L397.73 216.68 L398.44 216.78 L399.16 216.88 L399.88 216.98 L400.59 217.08 L401.31 217.17 L402.03 217.27 L402.74 217.36 L403.46 217.45 L404.18 217.55 L404.89 217.63 L405.61 217.72 L406.33 217.81 L407.04 217.9 L407.76 217.98 L408.47 218.07 L409.19 218.15 L409.91 218.23 L410.62 218.31 L411.34 218.39 L412.06 218.47 L412.77 218.55 L413.49 218.63 L414.21 218.71 L414.92 218.78 L415.64 218.86 L416.36 218.93 L417.07 219 L417.79 219.08 L418.51 219.15 L419.22 219.22 L419.94 219.29 L420.66 219.36 L421.37 219.43 L422.09 219.49 L422.81 219.56 L423.52 219.63 L424.24 219.69 L424.96 219.76 L425.67 219.82 L426.39 219.88 L427.11 219.94 L427.82 220.01 L428.54 220.07 L429.26 220.13 L429.97 220.19 L430.69 220.25 L431.41 220.3 L432.12 220.36 L432.84 220.42 L433.56 220.48 L434.27 220.53 L434.99 220.59 L435.71 220.64 L436.42 220.7 L437.14 220.75 L437.86 220.8 L438.57 220.86 L439.29 220.91 L440.01 220.96 L440.72 221.01 L441.44 221.06 L442.16 221.11 L442.87 221.16 L443.59 221.21 L444.3 221.26 L445.02 221.3 L445.74 221.35 L446.45 221.4 L447.17 221.44 L447.89 221.49 L448.6 221.54 L449.32 221.58 L450.04 221.62 L450.75 221.67 L451.47 221.71 L452.19 221.75 L452.9 221.8 L453.62 221.84 L454.34 221.88 L455.05 221.92 L455.77 221.96 L456.49 222 L457.2 222.04 L457.92 222.08 L458.64 222.12 L459.35 222.16 L460.07 222.2 L460.79 222.24 L461.5 222.28 L462.22 222.31 L462.94 222.35 L463.65 222.39 L464.37 222.42 L465.09 222.46 L465.8 222.49 L466.52 222.53 L467.24 222.56 L467.95 222.6 L468.67 222.63 L469.39 222.67 L470.1 222.7 L470.82 222.73 L471.54 222.77 L472.25 222.8 L472.97 222.83 L473.69 222.86 L474.4 222.89 L475.12 222.92 L475.84 222.95 L476.55 222.99 L477.27 223.02 L477.99 223.05 L478.7 223.07 L479.42 223.1 L480.13 223.13 L480.85 223.16 L481.57 223.19 L482.28 223.22 L483 223.25 L483.72 223.27 L484.43 223.3 L485.15 223.33 L485.87 223.36 L486.58 223.38 L487.3 223.41 L488.02 223.43 L488.73 223.46 L489.45 223.49 L490.17 223.51 L490.88 223.54 L491.6 223.56 L492.32 223.58 L493.03 223.61 L493.75 223.63 L494.47 223.66 L495.18 223.68 L495.9 223.7 L496.62 223.73 L497.33 223.75 L498.05 223.77 L498.77 223.79 L499.48 223.82 L500.2 223.84 L500.92 223.86 L501.63 223.88 L502.35 223.9 L503.07 223.92 L503.78 223.94 L504.5 223.96 L505.22 223.99 L505.93 224.01 L506.65 224.03 L507.37 224.05 L508.08 224.06 L508.8 224.08 L509.52 224.1 L510.23 224.12 L510.95 224.14 L511.67 224.16 L512.38 224.18 L513.1 224.2 L513.82 224.21 L514.53 224.23 L515.25 224.25 L515.96 224.27 L516.68 224.28 L517.4 224.3 L518.11 224.32 L518.83 224.34 L519.55 224.35 L520.26 224.37 L520.98 224.38 L521.7 224.4 L522.41 224.42 L523.13 224.43 L523.85 224.45 L524.56 224.46 L525.28 224.48 L526 224.49 L526.71 224.51 L527.43 224.52 L528.15 224.54 L528.86 224.55 L529.58 224.57 L530.3 224.58 L531.01 224.59 L531.73 224.61 L532.45 224.62 L533.16 224.63" fill="none" stroke="#2ca02c" stroke-width="1.15" stroke-opacity="0.85" stroke-linejoin="round" stroke-linecap="square"/>
<rect x="308.5" y="139.5" width="235" height="104" fill="none" stroke="#737373" stroke-width="1"/>
<text x="318.9" y="250.8" font-size="5.1" text-anchor="middle">0</text>
<text x="354.73" y="250.8" font-size="5.1" text-anchor="middle">50</text>
<text x="390.56" y="250.8" font-size="5.1" text-anchor="middle">100</text>
<text x="426.39" y="250.8" font-size="5.1" text-anchor="middle">150</text>
<text x="462.22" y="250.8" font-size="5.1" text-anchor="middle">200</text>
<text x="498.05" y="250.8" font-size="5.1" text-anchor="middle">250</text>
<text x="533.88" y="250.8" font-size="5.1" text-anchor="middle">300</text>
<text x="304.2" y="238.4" font-size="5.1" text-anchor="end">0.2</text>
<text x="304.2" y="221.08" font-size="5.1" text-anchor="end">0.3</text>
<text x="304.2" y="203.76" font-size="5.1" text-anchor="end">0.4</text>
<text x="304.2" y="186.44" font-size="5.1" text-anchor="end">0.5</text>
<text x="304.2" y="169.12" font-size="5.1" text-anchor="end">0.6</text>
<text x="304.2" y="151.8" font-size="5.1" text-anchor="end">0.7</text>
<path d="M318.9 243.5v2.2M354.73 243.5v2.2M390.56 243.5v2.2M426.39 243.5v2.2M462.22 243.5v2.2M498.05 243.5v2.2M533.88 243.5v2.2M308.5 236.5h-2.2M308.5 219.18h-2.2M308.5 201.86h-2.2M308.5 184.54h-2.2M308.5 167.22h-2.2M308.5 149.9h-2.2" stroke="#737373" stroke-width="0.9" fill="none"/>
<text x="426" y="259" font-size="6.4" text-anchor="middle">loss vs. epoches</text>
<text transform="translate(292.99 191.7) rotate(-90)" font-size="6.4" text-anchor="middle">loss</text>
<rect x="486.2" y="142.7" width="54" height="30.3" rx="1.3" fill="#fff" fill-opacity="0.8" stroke="#ccc" stroke-opacity="0.65" stroke-width="0.6"/>
<path d="M488.8 148.35h13.5" stroke="#1f77b4" stroke-opacity="0.85" stroke-width="1.15" fill="none"/>
<text x="506.9" y="150.6" font-size="6.4">device</text>
<path d="M488.8 157.8h13.5" stroke="#ff7f0e" stroke-opacity="0.85" stroke-width="1.15" fill="none"/>
<text x="506.9" y="160.05" font-size="6.4">merchant</text>
<path d="M488.8 167.25h13.5" stroke="#2ca02c" stroke-opacity="0.85" stroke-width="1.15" fill="none"/>
<text x="506.9" y="169.5" font-size="6.4">address</text>
</g>
<g>
<path d="M38 403.51 L38.36 400.08 L38.72 396.72 L39.07 393.43 L39.43 390.21 L39.79 387.04 L40.15 383.93 L40.5 380.92 L40.86 377.99 L41.22 375.11 L41.58 372.3 L41.94 369.6 L42.29 367.04 L42.65 364.63 L43.01 362.32 L43.37 360.15 L43.73 358.16 L44.08 356.37 L44.44 354.67 L44.8 353.08 L45.16 351.58 L45.51 350.16 L45.87 348.82 L46.23 347.55 L46.59 346.34 L46.95 345.2 L47.3 344.11 L47.66 343.08 L48.02 342.1 L48.38 341.17 L48.74 340.28 L49.09 339.43 L49.45 338.61 L49.81 337.84 L50.17 337.11 L50.52 336.43 L50.88 335.88 L51.24 335.36 L51.6 334.74 L51.96 333.79 L52.31 332.15 L52.67 331.17 L53.03 330.56 L53.39 330.06 L53.75 329.64 L54.1 329.27 L54.46 328.95 L54.82 328.65 L55.18 328.36 L55.53 328.04 L55.89 327.73 L56.25 327.44 L56.61 327.15 L56.97 326.88 L57.32 326.63 L57.68 326.38 L58.04 326.15 L58.4 325.93 L58.76 325.71 L59.11 325.49 L59.47 325.29 L59.83 325.09 L60.19 324.9 L60.54 324.73 L60.9 324.57 L61.26 324.44 L61.62 324.32 L61.98 324.21 L62.33 324.11 L62.69 324.01 L63.05 323.92 L63.41 323.84 L63.77 323.76 L64.12 323.68 L64.48 323.6 L64.84 323.52 L65.2 323.44 L65.55 323.36 L65.91 323.28 L66.27 323.2 L66.63 323.12 L67.34 322.95 L68.06 322.78 L68.78 322.62 L69.49 322.46 L70.21 322.31 L70.92 322.16 L71.64 322.03 L72.35 321.91 L73.07 321.81 L73.78 321.72 L74.5 321.65 L75.22 321.58 L75.93 321.51 L76.65 321.45 L77.36 321.39 L78.08 321.33 L78.79 321.26 L79.51 321.19 L80.23 321.1 L80.94 321 L81.66 320.88 L82.37 320.74 L83.09 320.6 L83.8 320.45 L84.52 320.31 L85.24 320.19 L85.95 320.1 L86.67 320.04 L87.38 320.01 L88.1 320.02 L88.81 320.03 L89.53 320.04 L90.25 320.06 L90.96 320.09 L91.68 320.11 L92.39 320.13 L93.11 320.15 L93.82 320.16 L94.54 320.16 L95.26 320.16 L95.97 320.13 L96.69 320.07 L97.4 320 L98.12 319.93 L98.83 319.84 L99.55 319.76 L100.27 319.68 L100.98 319.62 L101.7 319.57 L102.41 319.54 L103.13 319.52 L103.84 319.5 L104.56 319.48 L105.28 319.47 L105.99 319.46 L106.71 319.45 L107.42 319.44 L108.14 319.42 L108.85 319.41 L109.57 319.39 L110.29 319.36 L111 319.33 L111.72 319.29 L112.43 319.22 L113.15 319.11 L113.86 318.96 L114.58 318.79 L115.3 318.6 L116.01 318.38 L116.73 318.07 L117.44 317.55 L118.16 317.06 L118.87 316.84 L119.59 316.77 L120.31 316.71 L121.02 316.65 L121.74 316.61 L122.45 316.57 L123.17 316.54 L123.88 316.51 L124.6 316.49 L125.32 316.46 L126.03 316.44 L126.75 316.42 L127.46 316.39 L128.18 316.36 L128.89 316.32 L129.61 316.29 L130.33 316.26 L131.04 316.23 L131.76 316.2 L132.47 316.16 L133.19 316.13 L133.9 316.1 L134.62 316.07 L135.34 316.04 L136.05 316.01 L136.77 315.99 L137.48 315.96 L138.2 315.93 L138.91 315.91 L139.63 315.88 L140.35 315.86 L141.06 315.84 L141.78 315.82 L142.49 315.8 L143.21 315.78 L143.92 315.77 L144.64 315.75 L145.36 315.74 L146.07 315.73 L146.79 315.72 L147.5 315.71 L148.22 315.7 L148.93 315.69 L149.65 315.69 L150.36 315.68 L151.08 315.67 L151.8 315.66 L152.51 315.66 L153.23 315.65 L153.94 315.64 L154.66 315.63 L155.37 315.62 L156.09 315.61 L156.81 315.6 L157.52 315.59 L158.24 315.58 L158.95 315.56 L159.67 315.54 L160.38 315.53 L161.1 315.5 L161.82 315.45 L162.53 315.38 L163.25 315.31 L163.96 315.22 L164.68 315.13 L165.39 315.04 L166.11 314.95 L166.83 314.87 L167.54 314.8 L168.26 314.73 L168.97 314.68 L169.69 314.63 L170.4 314.59 L171.12 314.54 L171.84 314.49 L172.55 314.44 L173.27 314.4 L173.98 314.35 L174.7 314.31 L175.41 314.26 L176.13 314.22 L176.85 314.18 L177.56 314.15 L178.28 314.11 L178.99 314.08 L179.71 314.05 L180.42 314.03 L181.14 314 L181.86 313.98 L182.57 313.97 L183.29 313.96 L184 313.95 L184.72 313.95 L185.43 313.95 L186.15 313.95 L186.87 313.95 L187.58 313.95 L188.3 313.95 L189.01 313.95 L189.73 313.95 L190.44 313.95 L191.16 313.95 L191.88 313.95 L192.59 313.95 L193.31 313.95 L194.02 313.95 L194.74 313.95 L195.45 313.95 L196.17 313.95 L196.89 313.95 L197.6 313.94 L198.32 313.94 L199.03 313.93 L199.75 313.92 L200.46 313.91 L201.18 313.9 L201.9 313.89 L202.61 313.88 L203.33 313.86 L204.04 313.85 L204.76 313.83 L205.47 313.81 L206.19 313.8 L206.91 313.78 L207.62 313.76 L208.34 313.74 L209.05 313.73 L209.77 313.71 L210.48 313.69 L211.2 313.68 L211.92 313.66 L212.63 313.65 L213.35 313.63 L214.06 313.62 L214.78 313.61 L215.49 313.6 L216.21 313.59 L216.93 313.58 L217.64 313.57 L218.36 313.56 L219.07 313.54 L219.79 313.53 L220.5 313.51 L221.22 313.5 L221.93 313.48 L222.65 313.46 L223.37 313.43 L224.08 313.4 L224.8 313.34 L225.51 313.21 L226.23 313.05 L226.94 312.88 L227.66 312.73 L228.38 312.63 L229.09 312.58 L229.81 312.58 L230.52 312.58 L231.24 312.58 L231.95 312.58 L232.67 312.58 L233.39 312.58 L234.1 312.58 L234.82 312.58 L235.53 312.58 L236.25 312.58 L236.96 312.58 L237.68 312.58 L238.4 312.58 L239.11 312.58 L239.83 312.58 L240.54 312.58 L241.26 312.58 L241.97 312.58 L242.69 312.58 L243.41 312.58 L244.12 312.58 L244.84 312.58 L245.55 312.58 L246.27 312.58 L246.98 312.58 L247.7 312.58 L248.42 312.58 L249.13 312.58 L249.85 312.58 L250.56 312.58 L251.28 312.58 L251.99 312.58" fill="none" stroke="#1f77b4" stroke-width="1.15" stroke-opacity="0.85" stroke-linejoin="round" stroke-linecap="square"/>
<path d="M38 349.42 L38.36 345.85 L38.72 343.06 L39.07 340.96 L39.43 339.27 L39.79 338.19 L40.15 337.47 L40.5 336.9 L40.86 336.43 L41.22 336.01 L41.58 335.57 L41.94 335.08 L42.29 334.58 L42.65 334.09 L43.01 333.63 L43.37 333.24 L43.73 332.95 L44.08 332.72 L44.44 332.51 L44.8 332.33 L45.16 332.17 L45.51 332.05 L45.87 331.99 L46.23 331.99 L46.59 332 L46.95 332.01 L47.3 332.03 L47.66 332.04 L48.02 332.06 L48.38 332.07 L48.74 332.08 L49.09 332.07 L49.45 332.03 L49.81 331.97 L50.17 331.87 L50.52 331.75 L50.88 331.62 L51.24 331.48 L51.6 331.32 L51.96 331.16 L52.31 330.94 L52.67 330.66 L53.03 330.32 L53.39 329.95 L53.75 329.57 L54.1 329.18 L54.46 328.79 L54.82 328.43 L55.18 328.11 L55.53 327.85 L55.89 327.61 L56.25 327.38 L56.61 327.16 L56.97 326.94 L57.32 326.74 L57.68 326.55 L58.04 326.36 L58.4 326.17 L58.76 325.99 L59.11 325.82 L59.47 325.64 L59.83 325.47 L60.19 325.3 L60.54 325.14 L60.9 324.98 L61.26 324.82 L61.62 324.67 L61.98 324.53 L62.33 324.38 L62.69 324.24 L63.05 324.09 L63.41 323.95 L63.77 323.81 L64.12 323.67 L64.48 323.52 L64.84 323.38 L65.2 323.23 L65.55 323.08 L65.91 322.92 L66.27 322.76 L66.63 322.59 L67.34 322.24 L68.06 321.9 L68.78 321.58 L69.49 321.28 L70.21 321.04 L70.92 320.82 L71.64 320.64 L72.35 320.47 L73.07 320.3 L73.78 320.14 L74.5 319.97 L75.22 319.78 L75.93 319.57 L76.65 319.33 L77.36 319.07 L78.08 318.78 L78.79 318.49 L79.51 318.2 L80.23 317.92 L80.94 317.66 L81.66 317.44 L82.37 317.22 L83.09 317 L83.8 316.78 L84.52 316.57 L85.24 316.39 L85.95 316.24 L86.67 316.13 L87.38 316.07 L88.1 316.05 L88.81 316.03 L89.53 316.01 L90.25 316 L90.96 315.99 L91.68 315.98 L92.39 315.98 L93.11 315.96 L93.82 315.95 L94.54 315.93 L95.26 315.89 L95.97 315.83 L96.69 315.75 L97.4 315.65 L98.12 315.53 L98.83 315.41 L99.55 315.29 L100.27 315.18 L100.98 315.07 L101.7 314.98 L102.41 314.91 L103.13 314.84 L103.84 314.78 L104.56 314.72 L105.28 314.68 L105.99 314.65 L106.71 314.63 L107.42 314.61 L108.14 314.59 L108.85 314.58 L109.57 314.56 L110.29 314.54 L111 314.51 L111.72 314.47 L112.43 314.42 L113.15 314.35 L113.86 313.91 L114.58 313.25 L115.3 312.77 L116.01 312.64 L116.73 312.54 L117.44 312.44 L118.16 312.36 L118.87 312.28 L119.59 312.22 L120.31 312.16 L121.02 312.11 L121.74 312.06 L122.45 312.02 L123.17 311.98 L123.88 311.95 L124.6 311.92 L125.32 311.88 L126.03 311.85 L126.75 311.82 L127.46 311.78 L128.18 311.74 L128.89 311.7 L129.61 311.67 L130.33 311.63 L131.04 311.6 L131.76 311.57 L132.47 311.54 L133.19 311.51 L133.9 311.48 L134.62 311.45 L135.34 311.42 L136.05 311.4 L136.77 311.37 L137.48 311.34 L138.2 311.32 L138.91 311.29 L139.63 311.26 L140.35 311.24 L141.06 311.21 L141.78 311.18 L142.49 311.16 L143.21 311.13 L143.92 311.1 L144.64 311.07 L145.36 311.04 L146.07 311.01 L146.79 310.98 L147.5 310.95 L148.22 310.93 L148.93 310.9 L149.65 310.87 L150.36 310.84 L151.08 310.81 L151.8 310.78 L152.51 310.75 L153.23 310.73 L153.94 310.7 L154.66 310.67 L155.37 310.64 L156.09 310.61 L156.81 310.58 L157.52 310.55 L158.24 310.52 L158.95 310.49 L159.67 310.46 L160.38 310.43 L161.1 310.4 L161.82 310.37 L162.53 310.33 L163.25 310.3 L163.96 310.27 L164.68 310.23 L165.39 310.19 L166.11 310.16 L166.83 310.12 L167.54 310.08 L168.26 310.05 L168.97 310.01 L169.69 309.98 L170.4 309.94 L171.12 309.91 L171.84 309.88 L172.55 309.85 L173.27 309.82 L173.98 309.79 L174.7 309.77 L175.41 309.74 L176.13 309.72 L176.85 309.7 L177.56 309.69 L178.28 309.67 L178.99 309.66 L179.71 309.64 L180.42 309.63 L181.14 309.62 L181.86 309.61 L182.57 309.6 L183.29 309.59 L184 309.58 L184.72 309.57 L185.43 309.56 L186.15 309.55 L186.87 309.54 L187.58 309.53 L188.3 309.52 L189.01 309.51 L189.73 309.5 L190.44 309.49 L191.16 309.48 L191.88 309.47 L192.59 309.46 L193.31 309.45 L194.02 309.44 L194.74 309.43 L195.45 309.41 L196.17 309.4 L196.89 309.39 L197.6 309.37 L198.32 309.35 L199.03 309.34 L199.75 309.32 L200.46 309.3 L201.18 309.28 L201.9 309.26 L202.61 309.24 L203.33 309.22 L204.04 309.2 L204.76 309.18 L205.47 309.16 L206.19 309.14 L206.91 309.11 L207.62 309.09 L208.34 309.07 L209.05 309.05 L209.77 309.03 L210.48 309.01 L211.2 308.99 L211.92 308.97 L212.63 308.95 L213.35 308.93 L214.06 308.91 L214.78 308.88 L215.49 308.86 L216.21 308.84 L216.93 308.82 L217.64 308.8 L218.36 308.78 L219.07 308.75 L219.79 308.73 L220.5 308.71 L221.22 308.69 L221.93 308.67 L222.65 308.65 L223.37 308.63 L224.08 308.61 L224.8 308.59 L225.51 308.57 L226.23 308.55 L226.94 308.54 L227.66 308.52 L228.38 308.5 L229.09 308.49 L229.81 308.48 L230.52 308.47 L231.24 308.45 L231.95 308.44 L232.67 308.43 L233.39 308.41 L234.1 308.4 L234.82 308.39 L235.53 308.38 L236.25 308.37 L236.96 308.36 L237.68 308.34 L238.4 308.33 L239.11 308.32 L239.83 308.31 L240.54 308.3 L241.26 308.29 L241.97 308.28 L242.69 308.27 L243.41 308.26 L244.12 308.25 L244.84 308.25 L245.55 308.24 L246.27 308.23 L246.98 308.22 L247.7 308.22 L248.42 308.21 L249.13 308.21 L249.85 308.2 L250.56 308.2 L251.28 308.19 L251.99 308.19" fill="none" stroke="#ff7f0e" stroke-width="1.15" stroke-opacity="0.85" stroke-linejoin="round" stroke-linecap="square"/>
<path d="M38 377.5 L38.36 369.34 L38.72 363.49 L39.07 358.72 L39.43 354 L39.79 349.8 L40.15 346.69 L40.5 344.08 L40.86 342.05 L41.22 340.55 L41.58 339.3 L41.94 338.26 L42.29 337.44 L42.65 336.77 L43.01 336.18 L43.37 335.66 L43.73 335.21 L44.08 334.82 L44.44 334.48 L44.8 334.18 L45.16 333.9 L45.51 333.65 L45.87 333.42 L46.23 333.2 L46.59 333 L46.95 332.81 L47.3 332.64 L47.66 332.46 L48.02 332.3 L48.38 332.14 L48.74 331.99 L49.09 331.85 L49.45 331.73 L49.81 331.61 L50.17 331.5 L50.52 331.38 L50.88 331.27 L51.24 331.15 L51.6 331.02 L51.96 330.88 L52.31 330.73 L52.67 330.55 L53.03 330.32 L53.39 330.05 L53.75 329.76 L54.1 329.46 L54.46 329.19 L54.82 328.95 L55.18 328.77 L55.53 328.67 L55.89 328.61 L56.25 328.55 L56.61 328.5 L56.97 328.46 L57.32 328.42 L57.68 328.39 L58.04 328.36 L58.4 328.33 L58.76 328.3 L59.11 328.27 L59.47 328.24 L59.83 328.2 L60.19 328.16 L60.54 328.12 L60.9 328.08 L61.26 328.04 L61.62 328 L61.98 327.96 L62.33 327.92 L62.69 327.88 L63.05 327.84 L63.41 327.8 L63.77 327.76 L64.12 327.73 L64.48 327.69 L64.84 327.66 L65.2 327.63 L65.55 327.6 L65.91 327.57 L66.27 327.54 L66.63 327.52 L67.34 327.47 L68.06 327.42 L68.78 327.38 L69.49 327.33 L70.21 327.29 L70.92 327.25 L71.64 327.21 L72.35 327.17 L73.07 327.13 L73.78 327.09 L74.5 327.05 L75.22 327.01 L75.93 326.97 L76.65 326.93 L77.36 326.89 L78.08 326.86 L78.79 326.82 L79.51 326.78 L80.23 326.74 L80.94 326.71 L81.66 326.67 L82.37 326.64 L83.09 326.6 L83.8 326.57 L84.52 326.53 L85.24 326.5 L85.95 326.46 L86.67 326.42 L87.38 326.38 L88.1 326.34 L88.81 326.29 L89.53 326.24 L90.25 326.19 L90.96 326.13 L91.68 326.08 L92.39 326.03 L93.11 325.98 L93.82 325.93 L94.54 325.89 L95.26 325.85 L95.97 325.81 L96.69 325.78 L97.4 325.74 L98.12 325.71 L98.83 325.68 L99.55 325.65 L100.27 325.62 L100.98 325.59 L101.7 325.57 L102.41 325.54 L103.13 325.51 L103.84 325.49 L104.56 325.46 L105.28 325.43 L105.99 325.41 L106.71 325.38 L107.42 325.35 L108.14 325.32 L108.85 325.29 L109.57 325.25 L110.29 325.22 L111 325.19 L111.72 325.15 L112.43 325.11 L113.15 325.07 L113.86 325.03 L114.58 324.98 L115.3 324.94 L116.01 324.89 L116.73 324.84 L117.44 324.79 L118.16 324.75 L118.87 324.7 L119.59 324.64 L120.31 324.59 L121.02 324.54 L121.74 324.49 L122.45 324.44 L123.17 324.39 L123.88 324.34 L124.6 324.29 L125.32 324.24 L126.03 324.19 L126.75 324.14 L127.46 324.09 L128.18 324.05 L128.89 324.01 L129.61 323.97 L130.33 323.93 L131.04 323.9 L131.76 323.87 L132.47 323.83 L133.19 323.8 L133.9 323.77 L134.62 323.73 L135.34 323.69 L136.05 323.65 L136.77 323.61 L137.48 323.56 L138.2 323.51 L138.91 323.45 L139.63 323.38 L140.35 323.31 L141.06 323.21 L141.78 323.01 L142.49 322.76 L143.21 322.54 L143.92 322.44 L144.64 322.42 L145.36 322.4 L146.07 322.39 L146.79 322.37 L147.5 322.36 L148.22 322.34 L148.93 322.33 L149.65 322.32 L150.36 322.31 L151.08 322.3 L151.8 322.3 L152.51 322.29 L153.23 322.28 L153.94 322.28 L154.66 322.27 L155.37 322.27 L156.09 322.27 L156.81 322.26 L157.52 322.26 L158.24 322.26 L158.95 322.26 L159.67 322.26 L160.38 322.26 L161.1 322.26 L161.82 322.27 L162.53 322.29 L163.25 322.31 L163.96 322.33 L164.68 322.35 L165.39 322.38 L166.11 322.4 L166.83 322.42 L167.54 322.43 L168.26 322.44 L168.97 322.44 L169.69 322.42 L170.4 322.38 L171.12 322.34 L171.84 322.28 L172.55 322.21 L173.27 322.14 L173.98 322.07 L174.7 322 L175.41 321.94 L176.13 321.88 L176.85 321.83 L177.56 321.79 L178.28 321.74 L178.99 321.69 L179.71 321.64 L180.42 321.6 L181.14 321.56 L181.86 321.52 L182.57 321.48 L183.29 321.46 L184 321.44 L184.72 321.44 L185.43 321.45 L186.15 321.47 L186.87 321.52 L187.58 321.56 L188.3 321.62 L189.01 321.72 L189.73 321.88 L190.44 322.08 L191.16 322.28 L191.88 322.45 L192.59 322.56 L193.31 322.59 L194.02 322.51 L194.74 322.35 L195.45 322.13 L196.17 321.88 L196.89 321.61 L197.6 321.36 L198.32 321.15 L199.03 320.99 L199.75 320.91 L200.46 320.87 L201.18 320.82 L201.9 320.79 L202.61 320.75 L203.33 320.72 L204.04 320.69 L204.76 320.66 L205.47 320.63 L206.19 320.61 L206.91 320.59 L207.62 320.57 L208.34 320.55 L209.05 320.53 L209.77 320.52 L210.48 320.5 L211.2 320.49 L211.92 320.48 L212.63 320.47 L213.35 320.46 L214.06 320.45 L214.78 320.44 L215.49 320.43 L216.21 320.42 L216.93 320.41 L217.64 320.4 L218.36 320.39 L219.07 320.38 L219.79 320.37 L220.5 320.36 L221.22 320.36 L221.93 320.35 L222.65 320.34 L223.37 320.34 L224.08 320.33 L224.8 320.33 L225.51 320.33 L226.23 320.32 L226.94 320.32 L227.66 320.32 L228.38 320.32 L229.09 320.32 L229.81 320.32 L230.52 320.32 L231.24 320.32 L231.95 320.32 L232.67 320.32 L233.39 320.32 L234.1 320.32 L234.82 320.32 L235.53 320.32 L236.25 320.32 L236.96 320.32 L237.68 320.32 L238.4 320.32 L239.11 320.32 L239.83 320.32 L240.54 320.32 L241.26 320.32 L241.97 320.32 L242.69 320.32 L243.41 320.32 L244.12 320.32 L244.84 320.32 L245.55 320.32 L246.27 320.32 L246.98 320.32 L247.7 320.32 L248.42 320.32 L249.13 320.32 L249.85 320.32 L250.56 320.32 L251.28 320.32 L251.99 320.32" fill="none" stroke="#2ca02c" stroke-width="1.15" stroke-opacity="0.85" stroke-linejoin="round" stroke-linecap="square"/>
<rect x="27.5" y="304" width="235" height="104.3" fill="none" stroke="#737373" stroke-width="1"/>
<text x="38" y="416.3" font-size="5.1" text-anchor="middle">0</text>
<text x="73.78" y="416.3" font-size="5.1" text-anchor="middle">50</text>
<text x="109.57" y="416.3" font-size="5.1" text-anchor="middle">100</text>
<text x="145.36" y="416.3" font-size="5.1" text-anchor="middle">150</text>
<text x="181.14" y="416.3" font-size="5.1" text-anchor="middle">200</text>
<text x="216.93" y="416.3" font-size="5.1" text-anchor="middle">250</text>
<text x="252.71" y="416.3" font-size="5.1" text-anchor="middle">300</text>
<text x="23.2" y="396.5" font-size="5.1" text-anchor="end">0.65</text>
<text x="23.2" y="381.34" font-size="5.1" text-anchor="end">0.70</text>
<text x="23.2" y="366.18" font-size="5.1" text-anchor="end">0.75</text>
<text x="23.2" y="351.02" font-size="5.1" text-anchor="end">0.80</text>
<text x="23.2" y="335.86" font-size="5.1" text-anchor="end">0.85</text>
<text x="23.2" y="320.7" font-size="5.1" text-anchor="end">0.90</text>
<path d="M38 408.3v2.2M73.78 408.3v2.2M109.57 408.3v2.2M145.36 408.3v2.2M181.14 408.3v2.2M216.93 408.3v2.2M252.71 408.3v2.2M27.5 394.6h-2.2M27.5 379.44h-2.2M27.5 364.28h-2.2M27.5 349.12h-2.2M27.5 333.96h-2.2M27.5 318.8h-2.2" stroke="#737373" stroke-width="0.9" fill="none"/>
<text x="145" y="300.8" font-size="6.4" text-anchor="middle">accuracy vs. epoches</text>
<text transform="translate(8.85 356.95) rotate(-90)" font-size="6.4" text-anchor="middle">accuracy</text>
<rect x="205.2" y="375.3" width="54" height="30.3" rx="1.3" fill="#fff" fill-opacity="0.8" stroke="#ccc" stroke-opacity="0.65" stroke-width="0.6"/>
<path d="M207.8 380.95h13.5" stroke="#1f77b4" stroke-opacity="0.85" stroke-width="1.15" fill="none"/>
<text x="225.9" y="383.2" font-size="6.4">device</text>
<path d="M207.8 390.4h13.5" stroke="#ff7f0e" stroke-opacity="0.85" stroke-width="1.15" fill="none"/>
<text x="225.9" y="392.65" font-size="6.4">merchant</text>
<path d="M207.8 399.85h13.5" stroke="#2ca02c" stroke-opacity="0.85" stroke-width="1.15" fill="none"/>
<text x="225.9" y="402.1" font-size="6.4">address</text>
</g>
<g>
<path d="M38 433.65 L38.36 435.34 L38.72 437.04 L39.07 438.72 L39.43 440.38 L39.79 442.01 L40.15 443.6 L40.5 445.14 L40.86 446.65 L41.22 448.1 L41.58 449.52 L41.94 450.89 L42.29 452.22 L42.65 453.51 L43.01 454.76 L43.37 455.96 L43.73 457.13 L44.08 458.27 L44.44 459.36 L44.8 460.43 L45.16 461.46 L45.51 462.46 L45.87 463.43 L46.23 464.37 L46.59 465.28 L46.95 466.16 L47.3 467.02 L47.66 467.85 L48.02 468.66 L48.38 469.44 L48.74 470.21 L49.09 470.95 L49.45 471.67 L49.81 472.37 L50.17 473.04 L50.52 473.71 L50.88 474.35 L51.24 474.97 L51.6 475.58 L51.96 476.17 L52.31 476.75 L52.67 477.31 L53.03 477.85 L53.39 478.38 L53.75 478.9 L54.1 479.4 L54.46 479.89 L54.82 480.37 L55.18 480.83 L55.53 481.29 L55.89 481.73 L56.25 482.16 L56.61 482.58 L56.97 482.99 L57.32 483.4 L57.68 483.79 L58.04 484.18 L58.4 484.55 L58.76 484.92 L59.11 485.28 L59.47 485.64 L59.83 485.98 L60.19 486.32 L60.54 486.65 L60.9 486.98 L61.26 487.3 L61.62 487.61 L61.98 487.92 L62.33 488.22 L62.69 488.52 L63.05 488.81 L63.41 489.09 L63.77 489.37 L64.12 489.65 L64.48 489.92 L64.84 490.19 L65.2 490.45 L65.55 490.71 L65.91 490.96 L66.27 491.21 L66.63 491.45 L67.34 491.93 L68.06 492.4 L68.78 492.85 L69.49 493.29 L70.21 493.71 L70.92 494.13 L71.64 494.53 L72.35 494.92 L73.07 495.3 L73.78 495.67 L74.5 496.03 L75.22 496.39 L75.93 496.73 L76.65 497.07 L77.36 497.4 L78.08 497.72 L78.79 498.03 L79.51 498.34 L80.23 498.64 L80.94 498.93 L81.66 499.22 L82.37 499.5 L83.09 499.78 L83.8 500.05 L84.52 500.32 L85.24 500.58 L85.95 500.83 L86.67 501.08 L87.38 501.33 L88.1 501.57 L88.81 501.81 L89.53 502.04 L90.25 502.27 L90.96 502.5 L91.68 502.72 L92.39 502.93 L93.11 503.15 L93.82 503.36 L94.54 503.56 L95.26 503.77 L95.97 503.96 L96.69 504.16 L97.4 504.35 L98.12 504.54 L98.83 504.73 L99.55 504.92 L100.27 505.1 L100.98 505.28 L101.7 505.45 L102.41 505.62 L103.13 505.8 L103.84 505.96 L104.56 506.13 L105.28 506.29 L105.99 506.45 L106.71 506.61 L107.42 506.77 L108.14 506.92 L108.85 507.08 L109.57 507.23 L110.29 507.37 L111 507.52 L111.72 507.66 L112.43 507.81 L113.15 507.95 L113.86 508.09 L114.58 508.22 L115.3 508.36 L116.01 508.49 L116.73 508.62 L117.44 508.75 L118.16 508.88 L118.87 509.01 L119.59 509.13 L120.31 509.26 L121.02 509.38 L121.74 509.5 L122.45 509.62 L123.17 509.74 L123.88 509.85 L124.6 509.97 L125.32 510.08 L126.03 510.19 L126.75 510.3 L127.46 510.41 L128.18 510.52 L128.89 510.63 L129.61 510.74 L130.33 510.84 L131.04 510.95 L131.76 511.05 L132.47 511.15 L133.19 511.25 L133.9 511.35 L134.62 511.45 L135.34 511.55 L136.05 511.64 L136.77 511.74 L137.48 511.83 L138.2 511.93 L138.91 512.02 L139.63 512.11 L140.35 512.2 L141.06 512.29 L141.78 512.38 L142.49 512.47 L143.21 512.55 L143.92 512.64 L144.64 512.73 L145.36 512.81 L146.07 512.89 L146.79 512.98 L147.5 513.06 L148.22 513.14 L148.93 513.22 L149.65 513.3 L150.36 513.38 L151.08 513.46 L151.8 513.53 L152.51 513.61 L153.23 513.69 L153.94 513.76 L154.66 513.84 L155.37 513.91 L156.09 513.98 L156.81 514.06 L157.52 514.13 L158.24 514.2 L158.95 514.27 L159.67 514.34 L160.38 514.41 L161.1 514.48 L161.82 514.55 L162.53 514.62 L163.25 514.68 L163.96 514.75 L164.68 514.82 L165.39 514.88 L166.11 514.95 L166.83 515.01 L167.54 515.07 L168.26 515.14 L168.97 515.2 L169.69 515.26 L170.4 515.32 L171.12 515.38 L171.84 515.45 L172.55 515.51 L173.27 515.57 L173.98 515.62 L174.7 515.68 L175.41 515.74 L176.13 515.8 L176.85 515.86 L177.56 515.91 L178.28 515.97 L178.99 516.03 L179.71 516.08 L180.42 516.14 L181.14 516.19 L181.86 516.25 L182.57 516.3 L183.29 516.35 L184 516.41 L184.72 516.46 L185.43 516.51 L186.15 516.56 L186.87 516.61 L187.58 516.66 L188.3 516.72 L189.01 516.77 L189.73 516.82 L190.44 516.87 L191.16 516.91 L191.88 516.96 L192.59 517.01 L193.31 517.06 L194.02 517.11 L194.74 517.15 L195.45 517.2 L196.17 517.25 L196.89 517.3 L197.6 517.34 L198.32 517.39 L199.03 517.43 L199.75 517.48 L200.46 517.52 L201.18 517.57 L201.9 517.61 L202.61 517.65 L203.33 517.7 L204.04 517.74 L204.76 517.78 L205.47 517.83 L206.19 517.87 L206.91 517.91 L207.62 517.95 L208.34 517.99 L209.05 518.04 L209.77 518.08 L210.48 518.12 L211.2 518.16 L211.92 518.2 L212.63 518.24 L213.35 518.28 L214.06 518.32 L214.78 518.36 L215.49 518.39 L216.21 518.43 L216.93 518.47 L217.64 518.51 L218.36 518.55 L219.07 518.58 L219.79 518.62 L220.5 518.66 L221.22 518.7 L221.93 518.73 L222.65 518.77 L223.37 518.81 L224.08 518.84 L224.8 518.88 L225.51 518.91 L226.23 518.95 L226.94 518.98 L227.66 519.02 L228.38 519.05 L229.09 519.09 L229.81 519.12 L230.52 519.15 L231.24 519.19 L231.95 519.22 L232.67 519.25 L233.39 519.29 L234.1 519.32 L234.82 519.35 L235.53 519.39 L236.25 519.42 L236.96 519.45 L237.68 519.48 L238.4 519.51 L239.11 519.55 L239.83 519.58 L240.54 519.61 L241.26 519.64 L241.97 519.67 L242.69 519.7 L243.41 519.73 L244.12 519.76 L244.84 519.79 L245.55 519.82 L246.27 519.85 L246.98 519.88 L247.7 519.91 L248.42 519.94 L249.13 519.97 L249.85 520 L250.56 520.02 L251.28 520.05 L251.99 520.08" fill="none" stroke="#1f77b4" stroke-width="1.15" stroke-opacity="0.85" stroke-linejoin="round" stroke-linecap="square"/>
<path d="M38 438.81 L38.36 439.56 L38.72 440.38 L39.07 441.26 L39.43 442.17 L39.79 443.1 L40.15 444.05 L40.5 445.01 L40.86 445.98 L41.22 446.94 L41.58 447.91 L41.94 448.86 L42.29 449.82 L42.65 450.76 L43.01 451.7 L43.37 452.62 L43.73 453.54 L44.08 454.44 L44.44 455.34 L44.8 456.22 L45.16 457.09 L45.51 457.95 L45.87 458.8 L46.23 459.64 L46.59 460.46 L46.95 461.28 L47.3 462.08 L47.66 462.88 L48.02 463.66 L48.38 464.44 L48.74 465.2 L49.09 465.95 L49.45 466.7 L49.81 467.43 L50.17 468.16 L50.52 468.87 L50.88 469.58 L51.24 470.28 L51.6 470.97 L51.96 471.65 L52.31 472.32 L52.67 472.98 L53.03 473.64 L53.39 474.29 L53.75 474.93 L54.1 475.56 L54.46 476.19 L54.82 476.81 L55.18 477.42 L55.53 478.02 L55.89 478.62 L56.25 479.21 L56.61 479.79 L56.97 480.36 L57.32 480.93 L57.68 481.48 L58.04 482.03 L58.4 482.58 L58.76 483.11 L59.11 483.64 L59.47 484.16 L59.83 484.67 L60.19 485.18 L60.54 485.68 L60.9 486.17 L61.26 486.65 L61.62 487.13 L61.98 487.6 L62.33 488.07 L62.69 488.52 L63.05 488.97 L63.41 489.42 L63.77 489.85 L64.12 490.29 L64.48 490.71 L64.84 491.13 L65.2 491.54 L65.55 491.95 L65.91 492.35 L66.27 492.74 L66.63 493.13 L67.34 493.89 L68.06 494.63 L68.78 495.34 L69.49 496.04 L70.21 496.71 L70.92 497.36 L71.64 498 L72.35 498.61 L73.07 499.2 L73.78 499.78 L74.5 500.34 L75.22 500.88 L75.93 501.41 L76.65 501.92 L77.36 502.41 L78.08 502.89 L78.79 503.35 L79.51 503.79 L80.23 504.23 L80.94 504.65 L81.66 505.05 L82.37 505.44 L83.09 505.82 L83.8 506.19 L84.52 506.55 L85.24 506.89 L85.95 507.23 L86.67 507.55 L87.38 507.87 L88.1 508.18 L88.81 508.47 L89.53 508.76 L90.25 509.05 L90.96 509.32 L91.68 509.59 L92.39 509.85 L93.11 510.1 L93.82 510.35 L94.54 510.59 L95.26 510.82 L95.97 511.05 L96.69 511.28 L97.4 511.5 L98.12 511.71 L98.83 511.92 L99.55 512.12 L100.27 512.32 L100.98 512.52 L101.7 512.71 L102.41 512.9 L103.13 513.08 L103.84 513.26 L104.56 513.44 L105.28 513.61 L105.99 513.78 L106.71 513.94 L107.42 514.11 L108.14 514.27 L108.85 514.42 L109.57 514.58 L110.29 514.73 L111 514.88 L111.72 515.02 L112.43 515.17 L113.15 515.31 L113.86 515.45 L114.58 515.59 L115.3 515.72 L116.01 515.86 L116.73 515.99 L117.44 516.12 L118.16 516.24 L118.87 516.37 L119.59 516.49 L120.31 516.62 L121.02 516.74 L121.74 516.86 L122.45 516.97 L123.17 517.09 L123.88 517.2 L124.6 517.32 L125.32 517.43 L126.03 517.54 L126.75 517.65 L127.46 517.76 L128.18 517.87 L128.89 517.97 L129.61 518.08 L130.33 518.18 L131.04 518.29 L131.76 518.39 L132.47 518.49 L133.19 518.59 L133.9 518.69 L134.62 518.79 L135.34 518.89 L136.05 518.98 L136.77 519.08 L137.48 519.17 L138.2 519.27 L138.91 519.36 L139.63 519.45 L140.35 519.55 L141.06 519.64 L141.78 519.73 L142.49 519.82 L143.21 519.91 L143.92 520 L144.64 520.09 L145.36 520.17 L146.07 520.26 L146.79 520.35 L147.5 520.43 L148.22 520.52 L148.93 520.6 L149.65 520.68 L150.36 520.77 L151.08 520.85 L151.8 520.93 L152.51 521.01 L153.23 521.09 L153.94 521.17 L154.66 521.25 L155.37 521.33 L156.09 521.41 L156.81 521.49 L157.52 521.57 L158.24 521.64 L158.95 521.72 L159.67 521.79 L160.38 521.87 L161.1 521.94 L161.82 522.02 L162.53 522.09 L163.25 522.17 L163.96 522.24 L164.68 522.31 L165.39 522.38 L166.11 522.45 L166.83 522.53 L167.54 522.6 L168.26 522.67 L168.97 522.74 L169.69 522.81 L170.4 522.87 L171.12 522.94 L171.84 523.01 L172.55 523.08 L173.27 523.15 L173.98 523.21 L174.7 523.28 L175.41 523.35 L176.13 523.41 L176.85 523.48 L177.56 523.54 L178.28 523.61 L178.99 523.67 L179.71 523.73 L180.42 523.8 L181.14 523.86 L181.86 523.92 L182.57 523.99 L183.29 524.05 L184 524.11 L184.72 524.17 L185.43 524.23 L186.15 524.29 L186.87 524.35 L187.58 524.41 L188.3 524.47 L189.01 524.53 L189.73 524.59 L190.44 524.65 L191.16 524.71 L191.88 524.77 L192.59 524.82 L193.31 524.88 L194.02 524.94 L194.74 525 L195.45 525.05 L196.17 525.11 L196.89 525.17 L197.6 525.22 L198.32 525.28 L199.03 525.33 L199.75 525.39 L200.46 525.44 L201.18 525.5 L201.9 525.55 L202.61 525.61 L203.33 525.66 L204.04 525.71 L204.76 525.77 L205.47 525.82 L206.19 525.87 L206.91 525.92 L207.62 525.98 L208.34 526.03 L209.05 526.08 L209.77 526.13 L210.48 526.18 L211.2 526.23 L211.92 526.28 L212.63 526.33 L213.35 526.39 L214.06 526.44 L214.78 526.49 L215.49 526.53 L216.21 526.58 L216.93 526.63 L217.64 526.68 L218.36 526.73 L219.07 526.78 L219.79 526.83 L220.5 526.88 L221.22 526.92 L221.93 526.97 L222.65 527.02 L223.37 527.07 L224.08 527.11 L224.8 527.16 L225.51 527.21 L226.23 527.25 L226.94 527.3 L227.66 527.35 L228.38 527.39 L229.09 527.44 L229.81 527.48 L230.52 527.53 L231.24 527.57 L231.95 527.62 L232.67 527.66 L233.39 527.71 L234.1 527.75 L234.82 527.8 L235.53 527.84 L236.25 527.89 L236.96 527.93 L237.68 527.97 L238.4 528.02 L239.11 528.06 L239.83 528.1 L240.54 528.15 L241.26 528.19 L241.97 528.23 L242.69 528.27 L243.41 528.32 L244.12 528.36 L244.84 528.4 L245.55 528.44 L246.27 528.48 L246.98 528.53 L247.7 528.57 L248.42 528.61 L249.13 528.65 L249.85 528.69 L250.56 528.73 L251.28 528.77 L251.99 528.81" fill="none" stroke="#ff7f0e" stroke-width="1.15" stroke-opacity="0.85" stroke-linejoin="round" stroke-linecap="square"/>
<path d="M38 438.99 L38.36 439.81 L38.72 440.77 L39.07 441.83 L39.43 442.95 L39.79 444.11 L40.15 445.29 L40.5 446.48 L40.86 447.67 L41.22 448.86 L41.58 450.03 L41.94 451.19 L42.29 452.33 L42.65 453.45 L43.01 454.54 L43.37 455.62 L43.73 456.67 L44.08 457.69 L44.44 458.69 L44.8 459.67 L45.16 460.63 L45.51 461.56 L45.87 462.46 L46.23 463.35 L46.59 464.21 L46.95 465.05 L47.3 465.87 L47.66 466.67 L48.02 467.45 L48.38 468.2 L48.74 468.94 L49.09 469.66 L49.45 470.36 L49.81 471.05 L50.17 471.71 L50.52 472.36 L50.88 472.99 L51.24 473.61 L51.6 474.21 L51.96 474.8 L52.31 475.37 L52.67 475.92 L53.03 476.47 L53.39 476.99 L53.75 477.51 L54.1 478.01 L54.46 478.5 L54.82 478.98 L55.18 479.45 L55.53 479.9 L55.89 480.35 L56.25 480.78 L56.61 481.21 L56.97 481.62 L57.32 482.03 L57.68 482.43 L58.04 482.82 L58.4 483.2 L58.76 483.57 L59.11 483.93 L59.47 484.29 L59.83 484.64 L60.19 484.98 L60.54 485.32 L60.9 485.65 L61.26 485.97 L61.62 486.29 L61.98 486.6 L62.33 486.91 L62.69 487.21 L63.05 487.5 L63.41 487.79 L63.77 488.07 L64.12 488.35 L64.48 488.62 L64.84 488.89 L65.2 489.16 L65.55 489.42 L65.91 489.67 L66.27 489.92 L66.63 490.17 L67.34 490.65 L68.06 491.11 L68.78 491.56 L69.49 492 L70.21 492.42 L70.92 492.83 L71.64 493.23 L72.35 493.62 L73.07 493.99 L73.78 494.36 L74.5 494.71 L75.22 495.06 L75.93 495.39 L76.65 495.72 L77.36 496.03 L78.08 496.34 L78.79 496.64 L79.51 496.93 L80.23 497.22 L80.94 497.5 L81.66 497.77 L82.37 498.03 L83.09 498.29 L83.8 498.54 L84.52 498.79 L85.24 499.03 L85.95 499.26 L86.67 499.49 L87.38 499.72 L88.1 499.94 L88.81 500.15 L89.53 500.36 L90.25 500.57 L90.96 500.77 L91.68 500.96 L92.39 501.16 L93.11 501.35 L93.82 501.53 L94.54 501.71 L95.26 501.89 L95.97 502.06 L96.69 502.24 L97.4 502.4 L98.12 502.57 L98.83 502.73 L99.55 502.89 L100.27 503.04 L100.98 503.2 L101.7 503.35 L102.41 503.5 L103.13 503.64 L103.84 503.78 L104.56 503.92 L105.28 504.06 L105.99 504.2 L106.71 504.33 L107.42 504.46 L108.14 504.59 L108.85 504.72 L109.57 504.84 L110.29 504.97 L111 505.09 L111.72 505.21 L112.43 505.33 L113.15 505.44 L113.86 505.55 L114.58 505.67 L115.3 505.78 L116.01 505.89 L116.73 505.99 L117.44 506.1 L118.16 506.21 L118.87 506.31 L119.59 506.41 L120.31 506.51 L121.02 506.61 L121.74 506.71 L122.45 506.8 L123.17 506.9 L123.88 506.99 L124.6 507.08 L125.32 507.17 L126.03 507.26 L126.75 507.35 L127.46 507.44 L128.18 507.53 L128.89 507.61 L129.61 507.7 L130.33 507.78 L131.04 507.86 L131.76 507.95 L132.47 508.03 L133.19 508.11 L133.9 508.18 L134.62 508.26 L135.34 508.34 L136.05 508.42 L136.77 508.49 L137.48 508.56 L138.2 508.64 L138.91 508.71 L139.63 508.78 L140.35 508.85 L141.06 508.92 L141.78 508.99 L142.49 509.06 L143.21 509.13 L143.92 509.2 L144.64 509.26 L145.36 509.33 L146.07 509.4 L146.79 509.46 L147.5 509.52 L148.22 509.59 L148.93 509.65 L149.65 509.71 L150.36 509.77 L151.08 509.84 L151.8 509.9 L152.51 509.96 L153.23 510.01 L153.94 510.07 L154.66 510.13 L155.37 510.19 L156.09 510.25 L156.81 510.3 L157.52 510.36 L158.24 510.41 L158.95 510.47 L159.67 510.52 L160.38 510.58 L161.1 510.63 L161.82 510.68 L162.53 510.74 L163.25 510.79 L163.96 510.84 L164.68 510.89 L165.39 510.94 L166.11 510.99 L166.83 511.04 L167.54 511.09 L168.26 511.14 L168.97 511.19 L169.69 511.24 L170.4 511.29 L171.12 511.33 L171.84 511.38 L172.55 511.43 L173.27 511.47 L173.98 511.52 L174.7 511.57 L175.41 511.61 L176.13 511.66 L176.85 511.7 L177.56 511.74 L178.28 511.79 L178.99 511.83 L179.71 511.88 L180.42 511.92 L181.14 511.96 L181.86 512 L182.57 512.05 L183.29 512.09 L184 512.13 L184.72 512.17 L185.43 512.21 L186.15 512.25 L186.87 512.29 L187.58 512.33 L188.3 512.37 L189.01 512.41 L189.73 512.45 L190.44 512.49 L191.16 512.53 L191.88 512.57 L192.59 512.61 L193.31 512.64 L194.02 512.68 L194.74 512.72 L195.45 512.76 L196.17 512.79 L196.89 512.83 L197.6 512.87 L198.32 512.9 L199.03 512.94 L199.75 512.98 L200.46 513.01 L201.18 513.05 L201.9 513.08 L202.61 513.12 L203.33 513.15 L204.04 513.19 L204.76 513.22 L205.47 513.26 L206.19 513.29 L206.91 513.32 L207.62 513.36 L208.34 513.39 L209.05 513.42 L209.77 513.46 L210.48 513.49 L211.2 513.52 L211.92 513.55 L212.63 513.59 L213.35 513.62 L214.06 513.65 L214.78 513.68 L215.49 513.71 L216.21 513.75 L216.93 513.78 L217.64 513.81 L218.36 513.84 L219.07 513.87 L219.79 513.9 L220.5 513.93 L221.22 513.96 L221.93 513.99 L222.65 514.02 L223.37 514.05 L224.08 514.08 L224.8 514.11 L225.51 514.14 L226.23 514.17 L226.94 514.2 L227.66 514.23 L228.38 514.26 L229.09 514.29 L229.81 514.31 L230.52 514.34 L231.24 514.37 L231.95 514.4 L232.67 514.43 L233.39 514.46 L234.1 514.48 L234.82 514.51 L235.53 514.54 L236.25 514.57 L236.96 514.59 L237.68 514.62 L238.4 514.65 L239.11 514.67 L239.83 514.7 L240.54 514.73 L241.26 514.75 L241.97 514.78 L242.69 514.81 L243.41 514.83 L244.12 514.86 L244.84 514.89 L245.55 514.91 L246.27 514.94 L246.98 514.96 L247.7 514.99 L248.42 515.01 L249.13 515.04 L249.85 515.07 L250.56 515.09 L251.28 515.12 L251.99 515.14" fill="none" stroke="#2ca02c" stroke-width="1.15" stroke-opacity="0.85" stroke-linejoin="round" stroke-linecap="square"/>
<rect x="27.5" y="429.5" width="235" height="103.3" fill="none" stroke="#737373" stroke-width="1"/>
<text x="38" y="540.6" font-size="5.1" text-anchor="middle">0</text>
<text x="73.78" y="540.6" font-size="5.1" text-anchor="middle">50</text>
<text x="109.57" y="540.6" font-size="5.1" text-anchor="middle">100</text>
<text x="145.36" y="540.6" font-size="5.1" text-anchor="middle">150</text>
<text x="181.14" y="540.6" font-size="5.1" text-anchor="middle">200</text>
<text x="216.93" y="540.6" font-size="5.1" text-anchor="middle">250</text>
<text x="252.71" y="540.6" font-size="5.1" text-anchor="middle">300</text>
<text x="23.2" y="530" font-size="5.1" text-anchor="end">0.2</text>
<text x="23.2" y="510.92" font-size="5.1" text-anchor="end">0.3</text>
<text x="23.2" y="491.84" font-size="5.1" text-anchor="end">0.4</text>
<text x="23.2" y="472.76" font-size="5.1" text-anchor="end">0.5</text>
<text x="23.2" y="453.68" font-size="5.1" text-anchor="end">0.6</text>
<text x="23.2" y="434.6" font-size="5.1" text-anchor="end">0.7</text>
<path d="M38 532.8v2.2M73.78 532.8v2.2M109.57 532.8v2.2M145.36 532.8v2.2M181.14 532.8v2.2M216.93 532.8v2.2M252.71 532.8v2.2M27.5 528.1h-2.2M27.5 509.02h-2.2M27.5 489.94h-2.2M27.5 470.86h-2.2M27.5 451.78h-2.2M27.5 432.7h-2.2" stroke="#737373" stroke-width="0.9" fill="none"/>
<text x="145" y="548.8" font-size="6.4" text-anchor="middle">loss vs. epoches</text>
<text transform="translate(11.99 481.35) rotate(-90)" font-size="6.4" text-anchor="middle">loss</text>
<rect x="205.2" y="432.7" width="54" height="30.3" rx="1.3" fill="#fff" fill-opacity="0.8" stroke="#ccc" stroke-opacity="0.65" stroke-width="0.6"/>
<path d="M207.8 438.35h13.5" stroke="#1f77b4" stroke-opacity="0.85" stroke-width="1.15" fill="none"/>
<text x="225.9" y="440.6" font-size="6.4">device</text>
<path d="M207.8 447.8h13.5" stroke="#ff7f0e" stroke-opacity="0.85" stroke-width="1.15" fill="none"/>
<text x="225.9" y="450.05" font-size="6.4">merchant</text>
<path d="M207.8 457.25h13.5" stroke="#2ca02c" stroke-opacity="0.85" stroke-width="1.15" fill="none"/>
<text x="225.9" y="459.5" font-size="6.4">address</text>
</g>
<g>
<path d="M316.1 403.52 L316.46 399.23 L316.83 395.42 L317.19 392.3 L317.55 389.61 L317.91 387.18 L318.28 384.87 L318.64 382.57 L319 380.35 L319.37 378.22 L319.73 376.12 L320.09 374.04 L320.45 371.98 L320.82 369.95 L321.18 367.96 L321.54 366.04 L321.91 364.15 L322.27 362.31 L322.63 360.53 L323 358.81 L323.36 357.13 L323.72 355.47 L324.08 353.86 L324.45 352.31 L324.81 350.83 L325.17 349.43 L325.54 348.09 L325.9 346.8 L326.26 345.56 L326.62 344.38 L326.99 343.24 L327.35 342.14 L327.71 341.07 L328.08 340.03 L328.44 339.02 L328.8 338.04 L329.16 337.1 L329.53 336.21 L329.89 335.37 L330.25 334.58 L330.62 333.82 L330.98 333.09 L331.34 332.39 L331.7 331.72 L332.07 331.07 L332.43 330.44 L332.79 329.83 L333.16 329.25 L333.52 328.68 L333.88 328.13 L334.25 327.59 L334.61 327.06 L334.97 326.53 L335.33 326.03 L335.7 325.54 L336.06 325.07 L336.42 324.63 L336.79 324.21 L337.15 323.83 L337.51 323.48 L337.87 323.14 L338.24 322.82 L338.6 322.51 L338.96 322.22 L339.33 321.94 L339.69 321.68 L340.05 321.43 L340.41 321.21 L340.78 321 L341.14 320.82 L341.5 320.65 L341.87 320.49 L342.23 320.35 L342.59 320.21 L342.95 320.09 L343.32 319.96 L343.68 319.84 L344.04 319.73 L344.41 319.6 L344.77 319.48 L345.13 319.35 L345.86 319.09 L346.58 318.83 L347.31 318.57 L348.04 318.31 L348.76 318.06 L349.49 317.83 L350.21 317.61 L350.94 317.42 L351.66 317.26 L352.39 317.12 L353.12 317 L353.84 316.89 L354.57 316.79 L355.29 316.7 L356.02 316.61 L356.74 316.52 L357.47 316.44 L358.2 316.36 L358.92 316.28 L359.65 316.2 L360.37 316.11 L361.1 316.03 L361.83 315.96 L362.55 315.88 L363.28 315.81 L364 315.73 L364.73 315.66 L365.45 315.58 L366.18 315.51 L366.91 315.43 L367.63 315.35 L368.36 315.27 L369.08 315.18 L369.81 315.1 L370.54 315.02 L371.26 314.94 L371.99 314.86 L372.71 314.79 L373.44 314.73 L374.16 314.68 L374.89 314.63 L375.62 314.58 L376.34 314.54 L377.07 314.5 L377.79 314.46 L378.52 314.42 L379.24 314.39 L379.97 314.36 L380.7 314.33 L381.42 314.31 L382.15 314.28 L382.87 314.26 L383.6 314.24 L384.33 314.22 L385.05 314.21 L385.78 314.19 L386.5 314.17 L387.23 314.16 L387.95 314.14 L388.68 314.13 L389.41 314.11 L390.13 314.09 L390.86 314.07 L391.58 314.05 L392.31 314.03 L393.03 314 L393.76 313.97 L394.49 313.94 L395.21 313.9 L395.94 313.86 L396.66 313.82 L397.39 313.78 L398.12 313.74 L398.84 313.69 L399.57 313.65 L400.29 313.6 L401.02 313.56 L401.74 313.51 L402.47 313.47 L403.2 313.42 L403.92 313.38 L404.65 313.34 L405.37 313.31 L406.1 313.27 L406.83 313.24 L407.55 313.21 L408.28 313.18 L409 313.16 L409.73 313.14 L410.45 313.13 L411.18 313.11 L411.91 313.1 L412.63 313.08 L413.36 313.07 L414.08 313.06 L414.81 313.05 L415.53 313.04 L416.26 313.02 L416.99 313.01 L417.71 313 L418.44 312.99 L419.16 312.98 L419.89 312.97 L420.62 312.96 L421.34 312.95 L422.07 312.94 L422.79 312.92 L423.52 312.91 L424.24 312.89 L424.97 312.87 L425.7 312.85 L426.42 312.83 L427.15 312.81 L427.87 312.78 L428.6 312.75 L429.32 312.71 L430.05 312.68 L430.78 312.65 L431.5 312.61 L432.23 312.57 L432.95 312.54 L433.68 312.5 L434.41 312.46 L435.13 312.43 L435.86 312.4 L436.58 312.36 L437.31 312.33 L438.03 312.3 L438.76 312.28 L439.49 312.25 L440.21 312.23 L440.94 312.21 L441.66 312.2 L442.39 312.19 L443.12 312.18 L443.84 312.17 L444.57 312.16 L445.29 312.15 L446.02 312.14 L446.74 312.14 L447.47 312.13 L448.2 312.12 L448.92 312.12 L449.65 312.11 L450.37 312.11 L451.1 312.1 L451.82 312.09 L452.55 312.09 L453.28 312.08 L454 312.08 L454.73 312.07 L455.45 312.07 L456.18 312.06 L456.91 312.05 L457.63 312.05 L458.36 312.04 L459.08 312.03 L459.81 312.03 L460.53 312.02 L461.26 312.01 L461.99 312 L462.71 311.99 L463.44 311.98 L464.16 311.97 L464.89 311.96 L465.61 311.94 L466.34 311.93 L467.07 311.92 L467.79 311.91 L468.52 311.89 L469.24 311.88 L469.97 311.86 L470.7 311.85 L471.42 311.83 L472.15 311.82 L472.87 311.8 L473.6 311.79 L474.32 311.77 L475.05 311.76 L475.78 311.74 L476.5 311.72 L477.23 311.71 L477.95 311.69 L478.68 311.67 L479.41 311.66 L480.13 311.64 L480.86 311.62 L481.58 311.61 L482.31 311.59 L483.03 311.57 L483.76 311.55 L484.49 311.54 L485.21 311.52 L485.94 311.5 L486.66 311.48 L487.39 311.47 L488.11 311.45 L488.84 311.43 L489.57 311.42 L490.29 311.4 L491.02 311.38 L491.74 311.37 L492.47 311.35 L493.2 311.33 L493.92 311.32 L494.65 311.3 L495.37 311.28 L496.1 311.27 L496.82 311.25 L497.55 311.24 L498.28 311.22 L499 311.21 L499.73 311.2 L500.45 311.18 L501.18 311.17 L501.9 311.15 L502.63 311.14 L503.36 311.12 L504.08 311.11 L504.81 311.09 L505.53 311.08 L506.26 311.06 L506.99 311.05 L507.71 311.04 L508.44 311.02 L509.16 311.01 L509.89 310.99 L510.61 310.98 L511.34 310.96 L512.07 310.95 L512.79 310.94 L513.52 310.92 L514.24 310.91 L514.97 310.89 L515.7 310.88 L516.42 310.86 L517.15 310.85 L517.87 310.84 L518.6 310.82 L519.32 310.81 L520.05 310.79 L520.78 310.78 L521.5 310.77 L522.23 310.75 L522.95 310.74 L523.68 310.73 L524.4 310.71 L525.13 310.7 L525.86 310.68 L526.58 310.67 L527.31 310.66 L528.03 310.64 L528.76 310.63 L529.49 310.62 L530.21 310.6 L530.94 310.59 L531.66 310.57 L532.39 310.56 L533.11 310.55" fill="none" stroke="#1f77b4" stroke-width="1.15" stroke-opacity="0.85" stroke-linejoin="round" stroke-linecap="square"/>
<path d="M316.1 377.57 L316.46 369.94 L316.83 364.13 L317.19 359.67 L317.55 355.95 L317.91 352.67 L318.28 349.8 L318.64 347.36 L319 345.19 L319.37 343.24 L319.73 341.46 L320.09 339.82 L320.45 338.27 L320.82 336.85 L321.18 335.57 L321.54 334.46 L321.91 333.43 L322.27 332.46 L322.63 331.57 L323 330.77 L323.36 330.07 L323.72 329.47 L324.08 329 L324.45 328.55 L324.81 328.07 L325.17 327.59 L325.54 327.11 L325.9 326.65 L326.26 326.21 L326.62 325.81 L326.99 325.46 L327.35 325.16 L327.71 324.89 L328.08 324.65 L328.44 324.42 L328.8 324.21 L329.16 324.02 L329.53 323.83 L329.89 323.65 L330.25 323.47 L330.62 323.3 L330.98 323.14 L331.34 322.98 L331.7 322.82 L332.07 322.67 L332.43 322.53 L332.79 322.39 L333.16 322.26 L333.52 322.13 L333.88 322 L334.25 321.88 L334.61 321.77 L334.97 321.66 L335.33 321.55 L335.7 321.45 L336.06 321.35 L336.42 321.25 L336.79 321.15 L337.15 321.06 L337.51 320.97 L337.87 320.89 L338.24 320.8 L338.6 320.72 L338.96 320.64 L339.33 320.57 L339.69 320.49 L340.05 320.42 L340.41 320.35 L340.78 320.28 L341.14 320.21 L341.5 320.14 L341.87 320.08 L342.23 320.02 L342.59 319.95 L342.95 319.89 L343.32 319.83 L343.68 319.77 L344.04 319.71 L344.41 319.65 L344.77 319.59 L345.13 319.53 L345.86 319.43 L346.58 319.33 L347.31 319.24 L348.04 319.14 L348.76 319.05 L349.49 318.95 L350.21 318.85 L350.94 318.73 L351.66 318.6 L352.39 318.45 L353.12 318.26 L353.84 318.03 L354.57 317.79 L355.29 317.52 L356.02 317.26 L356.74 316.99 L357.47 316.74 L358.2 316.51 L358.92 316.32 L359.65 316.16 L360.37 316.02 L361.1 315.89 L361.83 315.77 L362.55 315.66 L363.28 315.55 L364 315.45 L364.73 315.35 L365.45 315.24 L366.18 315.14 L366.91 315.03 L367.63 314.93 L368.36 314.82 L369.08 314.72 L369.81 314.62 L370.54 314.53 L371.26 314.42 L371.99 314.32 L372.71 314.21 L373.44 314.1 L374.16 313.98 L374.89 313.84 L375.62 313.68 L376.34 313.51 L377.07 313.34 L377.79 313.17 L378.52 313 L379.24 312.86 L379.97 312.73 L380.7 312.63 L381.42 312.56 L382.15 312.52 L382.87 312.48 L383.6 312.44 L384.33 312.39 L385.05 312.3 L385.78 312.18 L386.5 312.03 L387.23 311.87 L387.95 311.69 L388.68 311.5 L389.41 311.32 L390.13 311.14 L390.86 310.98 L391.58 310.83 L392.31 310.72 L393.03 310.63 L393.76 310.54 L394.49 310.46 L395.21 310.38 L395.94 310.31 L396.66 310.24 L397.39 310.18 L398.12 310.11 L398.84 310.05 L399.57 309.99 L400.29 309.93 L401.02 309.86 L401.74 309.8 L402.47 309.73 L403.2 309.67 L403.92 309.61 L404.65 309.54 L405.37 309.49 L406.1 309.43 L406.83 309.37 L407.55 309.32 L408.28 309.28 L409 309.23 L409.73 309.19 L410.45 309.15 L411.18 309.11 L411.91 309.08 L412.63 309.04 L413.36 309.01 L414.08 308.98 L414.81 308.94 L415.53 308.91 L416.26 308.88 L416.99 308.85 L417.71 308.82 L418.44 308.79 L419.16 308.77 L419.89 308.74 L420.62 308.71 L421.34 308.68 L422.07 308.66 L422.79 308.63 L423.52 308.6 L424.24 308.58 L424.97 308.55 L425.7 308.52 L426.42 308.49 L427.15 308.47 L427.87 308.44 L428.6 308.41 L429.32 308.38 L430.05 308.36 L430.78 308.33 L431.5 308.3 L432.23 308.28 L432.95 308.25 L433.68 308.23 L434.41 308.2 L435.13 308.18 L435.86 308.15 L436.58 308.13 L437.31 308.1 L438.03 308.08 L438.76 308.06 L439.49 308.04 L440.21 308.01 L440.94 307.99 L441.66 307.97 L442.39 307.95 L443.12 307.93 L443.84 307.91 L444.57 307.89 L445.29 307.87 L446.02 307.85 L446.74 307.83 L447.47 307.81 L448.2 307.79 L448.92 307.78 L449.65 307.76 L450.37 307.74 L451.1 307.72 L451.82 307.7 L452.55 307.69 L453.28 307.67 L454 307.65 L454.73 307.64 L455.45 307.62 L456.18 307.6 L456.91 307.59 L457.63 307.57 L458.36 307.55 L459.08 307.54 L459.81 307.52 L460.53 307.51 L461.26 307.49 L461.99 307.48 L462.71 307.46 L463.44 307.44 L464.16 307.43 L464.89 307.41 L465.61 307.4 L466.34 307.38 L467.07 307.37 L467.79 307.35 L468.52 307.34 L469.24 307.32 L469.97 307.31 L470.7 307.29 L471.42 307.28 L472.15 307.26 L472.87 307.25 L473.6 307.23 L474.32 307.22 L475.05 307.2 L475.78 307.19 L476.5 307.18 L477.23 307.16 L477.95 307.15 L478.68 307.13 L479.41 307.12 L480.13 307.11 L480.86 307.09 L481.58 307.08 L482.31 307.06 L483.03 307.05 L483.76 307.04 L484.49 307.03 L485.21 307.01 L485.94 307 L486.66 306.99 L487.39 306.97 L488.11 306.96 L488.84 306.95 L489.57 306.94 L490.29 306.93 L491.02 306.91 L491.74 306.9 L492.47 306.89 L493.2 306.88 L493.92 306.87 L494.65 306.86 L495.37 306.85 L496.1 306.84 L496.82 306.83 L497.55 306.82 L498.28 306.81 L499 306.8 L499.73 306.79 L500.45 306.78 L501.18 306.77 L501.9 306.76 L502.63 306.75 L503.36 306.74 L504.08 306.73 L504.81 306.72 L505.53 306.71 L506.26 306.7 L506.99 306.69 L507.71 306.69 L508.44 306.68 L509.16 306.67 L509.89 306.66 L510.61 306.65 L511.34 306.64 L512.07 306.63 L512.79 306.62 L513.52 306.62 L514.24 306.61 L514.97 306.6 L515.7 306.59 L516.42 306.58 L517.15 306.58 L517.87 306.57 L518.6 306.56 L519.32 306.55 L520.05 306.55 L520.78 306.54 L521.5 306.53 L522.23 306.52 L522.95 306.52 L523.68 306.51 L524.4 306.5 L525.13 306.5 L525.86 306.49 L526.58 306.48 L527.31 306.48 L528.03 306.47 L528.76 306.47 L529.49 306.46 L530.21 306.45 L530.94 306.45 L531.66 306.44 L532.39 306.44 L533.11 306.43" fill="none" stroke="#ff7f0e" stroke-width="1.15" stroke-opacity="0.85" stroke-linejoin="round" stroke-linecap="square"/>
<path d="M316.1 356.03 L316.46 352.64 L316.83 349.61 L317.19 347.07 L317.55 344.87 L317.91 342.85 L318.28 340.82 L318.64 338.67 L319 336.55 L319.37 334.63 L319.73 333.07 L320.09 331.79 L320.45 330.66 L320.82 329.64 L321.18 328.7 L321.54 327.8 L321.91 326.9 L322.27 326.08 L322.63 325.39 L323 324.91 L323.36 324.49 L323.72 324.12 L324.08 323.78 L324.45 323.48 L324.81 323.2 L325.17 322.95 L325.54 322.72 L325.9 322.51 L326.26 322.31 L326.62 322.12 L326.99 321.95 L327.35 321.78 L327.71 321.62 L328.08 321.47 L328.44 321.33 L328.8 321.21 L329.16 321.09 L329.53 320.99 L329.89 320.9 L330.25 320.82 L330.62 320.75 L330.98 320.68 L331.34 320.62 L331.7 320.55 L332.07 320.49 L332.43 320.43 L332.79 320.38 L333.16 320.32 L333.52 320.27 L333.88 320.23 L334.25 320.18 L334.61 320.14 L334.97 320.1 L335.33 320.06 L335.7 320.02 L336.06 319.99 L336.42 319.96 L336.79 319.93 L337.15 319.91 L337.51 319.89 L337.87 319.87 L338.24 319.85 L338.6 319.83 L338.96 319.81 L339.33 319.79 L339.69 319.78 L340.05 319.76 L340.41 319.75 L340.78 319.73 L341.14 319.72 L341.5 319.71 L341.87 319.7 L342.23 319.69 L342.59 319.67 L342.95 319.66 L343.32 319.65 L343.68 319.64 L344.04 319.63 L344.41 319.61 L344.77 319.6 L345.13 319.59 L345.86 319.56 L346.58 319.53 L347.31 319.51 L348.04 319.48 L348.76 319.46 L349.49 319.43 L350.21 319.41 L350.94 319.39 L351.66 319.36 L352.39 319.34 L353.12 319.32 L353.84 319.29 L354.57 319.27 L355.29 319.25 L356.02 319.22 L356.74 319.2 L357.47 319.18 L358.2 319.16 L358.92 319.13 L359.65 319.11 L360.37 319.09 L361.1 319.07 L361.83 319.04 L362.55 319.02 L363.28 319 L364 318.98 L364.73 318.95 L365.45 318.93 L366.18 318.91 L366.91 318.89 L367.63 318.87 L368.36 318.85 L369.08 318.83 L369.81 318.8 L370.54 318.78 L371.26 318.76 L371.99 318.74 L372.71 318.72 L373.44 318.71 L374.16 318.69 L374.89 318.67 L375.62 318.65 L376.34 318.63 L377.07 318.62 L377.79 318.6 L378.52 318.59 L379.24 318.58 L379.97 318.56 L380.7 318.55 L381.42 318.54 L382.15 318.53 L382.87 318.52 L383.6 318.51 L384.33 318.5 L385.05 318.49 L385.78 318.48 L386.5 318.47 L387.23 318.46 L387.95 318.45 L388.68 318.43 L389.41 318.42 L390.13 318.41 L390.86 318.4 L391.58 318.39 L392.31 318.38 L393.03 318.36 L393.76 318.35 L394.49 318.33 L395.21 318.32 L395.94 318.3 L396.66 318.28 L397.39 318.26 L398.12 318.24 L398.84 318.22 L399.57 318.2 L400.29 318.17 L401.02 318.15 L401.74 318.1 L402.47 318.05 L403.2 317.98 L403.92 317.91 L404.65 317.83 L405.37 317.75 L406.1 317.67 L406.83 317.59 L407.55 317.52 L408.28 317.45 L409 317.39 L409.73 317.34 L410.45 317.29 L411.18 317.24 L411.91 317.19 L412.63 317.14 L413.36 317.09 L414.08 317.05 L414.81 317 L415.53 316.96 L416.26 316.91 L416.99 316.87 L417.71 316.83 L418.44 316.79 L419.16 316.75 L419.89 316.71 L420.62 316.68 L421.34 316.65 L422.07 316.61 L422.79 316.58 L423.52 316.56 L424.24 316.53 L424.97 316.51 L425.7 316.48 L426.42 316.46 L427.15 316.44 L427.87 316.42 L428.6 316.4 L429.32 316.38 L430.05 316.36 L430.78 316.35 L431.5 316.33 L432.23 316.31 L432.95 316.3 L433.68 316.28 L434.41 316.27 L435.13 316.25 L435.86 316.24 L436.58 316.22 L437.31 316.21 L438.03 316.2 L438.76 316.19 L439.49 316.18 L440.21 316.16 L440.94 316.15 L441.66 316.14 L442.39 316.13 L443.12 316.12 L443.84 316.11 L444.57 316.1 L445.29 316.09 L446.02 316.09 L446.74 316.08 L447.47 316.07 L448.2 316.06 L448.92 316.05 L449.65 316.05 L450.37 316.04 L451.1 316.03 L451.82 316.03 L452.55 316.02 L453.28 316.01 L454 316 L454.73 316 L455.45 315.99 L456.18 315.98 L456.91 315.98 L457.63 315.97 L458.36 315.96 L459.08 315.95 L459.81 315.95 L460.53 315.94 L461.26 315.93 L461.99 315.92 L462.71 315.91 L463.44 315.9 L464.16 315.89 L464.89 315.89 L465.61 315.88 L466.34 315.87 L467.07 315.86 L467.79 315.85 L468.52 315.83 L469.24 315.82 L469.97 315.81 L470.7 315.8 L471.42 315.79 L472.15 315.78 L472.87 315.77 L473.6 315.76 L474.32 315.75 L475.05 315.74 L475.78 315.73 L476.5 315.71 L477.23 315.7 L477.95 315.69 L478.68 315.68 L479.41 315.67 L480.13 315.66 L480.86 315.65 L481.58 315.64 L482.31 315.63 L483.03 315.62 L483.76 315.61 L484.49 315.6 L485.21 315.59 L485.94 315.58 L486.66 315.57 L487.39 315.56 L488.11 315.55 L488.84 315.54 L489.57 315.54 L490.29 315.53 L491.02 315.52 L491.74 315.51 L492.47 315.51 L493.2 315.5 L493.92 315.49 L494.65 315.49 L495.37 315.48 L496.1 315.48 L496.82 315.47 L497.55 315.47 L498.28 315.47 L499 315.46 L499.73 315.46 L500.45 315.45 L501.18 315.45 L501.9 315.45 L502.63 315.44 L503.36 315.44 L504.08 315.44 L504.81 315.43 L505.53 315.43 L506.26 315.43 L506.99 315.42 L507.71 315.42 L508.44 315.42 L509.16 315.41 L509.89 315.41 L510.61 315.41 L511.34 315.4 L512.07 315.4 L512.79 315.4 L513.52 315.4 L514.24 315.39 L514.97 315.39 L515.7 315.39 L516.42 315.38 L517.15 315.38 L517.87 315.38 L518.6 315.38 L519.32 315.38 L520.05 315.37 L520.78 315.37 L521.5 315.37 L522.23 315.37 L522.95 315.37 L523.68 315.36 L524.4 315.36 L525.13 315.36 L525.86 315.36 L526.58 315.36 L527.31 315.36 L528.03 315.36 L528.76 315.36 L529.49 315.36 L530.21 315.35 L530.94 315.35 L531.66 315.35 L532.39 315.35 L533.11 315.35" fill="none" stroke="#2ca02c" stroke-width="1.15" stroke-opacity="0.85" stroke-linejoin="round" stroke-linecap="square"/>
<rect x="305.5" y="302.5" width="238" height="105.4" fill="none" stroke="#737373" stroke-width="1"/>
<text x="316.1" y="415.9" font-size="5.1" text-anchor="middle">0</text>
<text x="352.39" y="415.9" font-size="5.1" text-anchor="middle">50</text>
<text x="388.68" y="415.9" font-size="5.1" text-anchor="middle">100</text>
<text x="424.97" y="415.9" font-size="5.1" text-anchor="middle">150</text>
<text x="461.26" y="415.9" font-size="5.1" text-anchor="middle">200</text>
<text x="497.55" y="415.9" font-size="5.1" text-anchor="middle">250</text>
<text x="533.84" y="415.9" font-size="5.1" text-anchor="middle">300</text>
<text x="301.2" y="393.5" font-size="5.1" text-anchor="end">0.5</text>
<text x="301.2" y="374.27" font-size="5.1" text-anchor="end">0.6</text>
<text x="301.2" y="355.05" font-size="5.1" text-anchor="end">0.7</text>
<text x="301.2" y="335.82" font-size="5.1" text-anchor="end">0.8</text>
<text x="301.2" y="316.6" font-size="5.1" text-anchor="end">0.9</text>
<path d="M316.1 407.9v2.2M352.39 407.9v2.2M388.68 407.9v2.2M424.97 407.9v2.2M461.26 407.9v2.2M497.55 407.9v2.2M533.84 407.9v2.2M305.5 391.6h-2.2M305.5 372.38h-2.2M305.5 353.15h-2.2M305.5 333.93h-2.2M305.5 314.7h-2.2" stroke="#737373" stroke-width="0.9" fill="none"/>
<text x="424.5" y="299.3" font-size="6.4" text-anchor="middle">accuracy vs. epoches</text>
<text transform="translate(290.09 356) rotate(-90)" font-size="6.4" text-anchor="middle">accuracy</text>
<rect x="486.2" y="374.9" width="54" height="30.3" rx="1.3" fill="#fff" fill-opacity="0.8" stroke="#ccc" stroke-opacity="0.65" stroke-width="0.6"/>
<path d="M488.8 380.55h13.5" stroke="#1f77b4" stroke-opacity="0.85" stroke-width="1.15" fill="none"/>
<text x="506.9" y="382.8" font-size="6.4">device</text>
<path d="M488.8 390h13.5" stroke="#ff7f0e" stroke-opacity="0.85" stroke-width="1.15" fill="none"/>
<text x="506.9" y="392.25" font-size="6.4">merchant</text>
<path d="M488.8 399.45h13.5" stroke="#2ca02c" stroke-opacity="0.85" stroke-width="1.15" fill="none"/>
<text x="506.9" y="401.7" font-size="6.4">address</text>
</g>
<g>
<path d="M316.1 433.67 L316.46 435 L316.83 436.36 L317.19 437.73 L317.55 439.09 L317.91 440.44 L318.28 441.76 L318.64 443.07 L319 444.34 L319.37 445.59 L319.73 446.81 L320.09 447.99 L320.45 449.15 L320.82 450.28 L321.18 451.38 L321.54 452.45 L321.91 453.49 L322.27 454.51 L322.63 455.49 L323 456.46 L323.36 457.39 L323.72 458.31 L324.08 459.2 L324.45 460.06 L324.81 460.91 L325.17 461.73 L325.54 462.54 L325.9 463.32 L326.26 464.09 L326.62 464.84 L326.99 465.57 L327.35 466.28 L327.71 466.98 L328.08 467.66 L328.44 468.33 L328.8 468.98 L329.16 469.62 L329.53 470.25 L329.89 470.86 L330.25 471.47 L330.62 472.06 L330.98 472.64 L331.34 473.2 L331.7 473.76 L332.07 474.31 L332.43 474.85 L332.79 475.37 L333.16 475.89 L333.52 476.4 L333.88 476.9 L334.25 477.39 L334.61 477.88 L334.97 478.35 L335.33 478.82 L335.7 479.28 L336.06 479.73 L336.42 480.18 L336.79 480.61 L337.15 481.05 L337.51 481.47 L337.87 481.89 L338.24 482.3 L338.6 482.71 L338.96 483.11 L339.33 483.5 L339.69 483.89 L340.05 484.27 L340.41 484.65 L340.78 485.02 L341.14 485.38 L341.5 485.74 L341.87 486.1 L342.23 486.45 L342.59 486.8 L342.95 487.14 L343.32 487.47 L343.68 487.81 L344.04 488.13 L344.41 488.46 L344.77 488.78 L345.13 489.09 L345.86 489.71 L346.58 490.31 L347.31 490.9 L348.04 491.47 L348.76 492.02 L349.49 492.57 L350.21 493.1 L350.94 493.62 L351.66 494.12 L352.39 494.62 L353.12 495.1 L353.84 495.57 L354.57 496.03 L355.29 496.48 L356.02 496.92 L356.74 497.35 L357.47 497.78 L358.2 498.19 L358.92 498.59 L359.65 498.99 L360.37 499.37 L361.1 499.75 L361.83 500.12 L362.55 500.48 L363.28 500.84 L364 501.19 L364.73 501.53 L365.45 501.86 L366.18 502.19 L366.91 502.51 L367.63 502.83 L368.36 503.14 L369.08 503.44 L369.81 503.74 L370.54 504.03 L371.26 504.32 L371.99 504.6 L372.71 504.87 L373.44 505.14 L374.16 505.41 L374.89 505.67 L375.62 505.92 L376.34 506.17 L377.07 506.42 L377.79 506.66 L378.52 506.9 L379.24 507.13 L379.97 507.36 L380.7 507.59 L381.42 507.81 L382.15 508.02 L382.87 508.24 L383.6 508.45 L384.33 508.65 L385.05 508.86 L385.78 509.06 L386.5 509.25 L387.23 509.44 L387.95 509.63 L388.68 509.82 L389.41 510 L390.13 510.18 L390.86 510.36 L391.58 510.53 L392.31 510.7 L393.03 510.87 L393.76 511.03 L394.49 511.19 L395.21 511.35 L395.94 511.51 L396.66 511.66 L397.39 511.82 L398.12 511.96 L398.84 512.11 L399.57 512.26 L400.29 512.4 L401.02 512.54 L401.74 512.67 L402.47 512.81 L403.2 512.94 L403.92 513.07 L404.65 513.2 L405.37 513.33 L406.1 513.45 L406.83 513.57 L407.55 513.69 L408.28 513.81 L409 513.93 L409.73 514.04 L410.45 514.16 L411.18 514.27 L411.91 514.38 L412.63 514.48 L413.36 514.59 L414.08 514.69 L414.81 514.8 L415.53 514.9 L416.26 515 L416.99 515.1 L417.71 515.19 L418.44 515.29 L419.16 515.38 L419.89 515.47 L420.62 515.56 L421.34 515.65 L422.07 515.74 L422.79 515.83 L423.52 515.92 L424.24 516 L424.97 516.08 L425.7 516.17 L426.42 516.25 L427.15 516.33 L427.87 516.41 L428.6 516.48 L429.32 516.56 L430.05 516.64 L430.78 516.71 L431.5 516.78 L432.23 516.86 L432.95 516.93 L433.68 517 L434.41 517.07 L435.13 517.14 L435.86 517.2 L436.58 517.27 L437.31 517.34 L438.03 517.4 L438.76 517.47 L439.49 517.53 L440.21 517.59 L440.94 517.65 L441.66 517.71 L442.39 517.77 L443.12 517.83 L443.84 517.89 L444.57 517.95 L445.29 518.01 L446.02 518.06 L446.74 518.12 L447.47 518.17 L448.2 518.23 L448.92 518.28 L449.65 518.33 L450.37 518.38 L451.1 518.44 L451.82 518.49 L452.55 518.54 L453.28 518.59 L454 518.64 L454.73 518.68 L455.45 518.73 L456.18 518.78 L456.91 518.82 L457.63 518.87 L458.36 518.92 L459.08 518.96 L459.81 519 L460.53 519.05 L461.26 519.09 L461.99 519.13 L462.71 519.18 L463.44 519.22 L464.16 519.26 L464.89 519.3 L465.61 519.34 L466.34 519.38 L467.07 519.42 L467.79 519.46 L468.52 519.5 L469.24 519.53 L469.97 519.57 L470.7 519.61 L471.42 519.64 L472.15 519.68 L472.87 519.72 L473.6 519.75 L474.32 519.78 L475.05 519.82 L475.78 519.85 L476.5 519.89 L477.23 519.92 L477.95 519.95 L478.68 519.99 L479.41 520.02 L480.13 520.05 L480.86 520.08 L481.58 520.11 L482.31 520.14 L483.03 520.17 L483.76 520.2 L484.49 520.23 L485.21 520.26 L485.94 520.29 L486.66 520.32 L487.39 520.35 L488.11 520.37 L488.84 520.4 L489.57 520.43 L490.29 520.46 L491.02 520.48 L491.74 520.51 L492.47 520.54 L493.2 520.56 L493.92 520.59 L494.65 520.61 L495.37 520.64 L496.1 520.66 L496.82 520.69 L497.55 520.71 L498.28 520.73 L499 520.76 L499.73 520.78 L500.45 520.8 L501.18 520.83 L501.9 520.85 L502.63 520.87 L503.36 520.89 L504.08 520.92 L504.81 520.94 L505.53 520.96 L506.26 520.98 L506.99 521 L507.71 521.02 L508.44 521.04 L509.16 521.06 L509.89 521.08 L510.61 521.1 L511.34 521.12 L512.07 521.14 L512.79 521.16 L513.52 521.18 L514.24 521.2 L514.97 521.22 L515.7 521.24 L516.42 521.25 L517.15 521.27 L517.87 521.29 L518.6 521.31 L519.32 521.32 L520.05 521.34 L520.78 521.36 L521.5 521.38 L522.23 521.39 L522.95 521.41 L523.68 521.42 L524.4 521.44 L525.13 521.46 L525.86 521.47 L526.58 521.49 L527.31 521.5 L528.03 521.52 L528.76 521.53 L529.49 521.55 L530.21 521.56 L530.94 521.58 L531.66 521.59 L532.39 521.61 L533.11 521.62" fill="none" stroke="#1f77b4" stroke-width="1.15" stroke-opacity="0.85" stroke-linejoin="round" stroke-linecap="square"/>
<path d="M316.1 451.97 L316.46 453.33 L316.83 454.66 L317.19 455.97 L317.55 457.23 L317.91 458.46 L318.28 459.65 L318.64 460.8 L319 461.91 L319.37 462.98 L319.73 464.02 L320.09 465.01 L320.45 465.98 L320.82 466.9 L321.18 467.8 L321.54 468.66 L321.91 469.5 L322.27 470.31 L322.63 471.08 L323 471.84 L323.36 472.56 L323.72 473.27 L324.08 473.95 L324.45 474.6 L324.81 475.24 L325.17 475.86 L325.54 476.45 L325.9 477.03 L326.26 477.59 L326.62 478.14 L326.99 478.67 L327.35 479.19 L327.71 479.7 L328.08 480.19 L328.44 480.68 L328.8 481.15 L329.16 481.62 L329.53 482.07 L329.89 482.52 L330.25 482.96 L330.62 483.4 L330.98 483.82 L331.34 484.24 L331.7 484.66 L332.07 485.07 L332.43 485.47 L332.79 485.87 L333.16 486.26 L333.52 486.65 L333.88 487.03 L334.25 487.41 L334.61 487.79 L334.97 488.16 L335.33 488.52 L335.7 488.88 L336.06 489.24 L336.42 489.59 L336.79 489.94 L337.15 490.28 L337.51 490.62 L337.87 490.95 L338.24 491.28 L338.6 491.61 L338.96 491.93 L339.33 492.25 L339.69 492.57 L340.05 492.88 L340.41 493.18 L340.78 493.49 L341.14 493.79 L341.5 494.08 L341.87 494.38 L342.23 494.67 L342.59 494.95 L342.95 495.24 L343.32 495.51 L343.68 495.79 L344.04 496.06 L344.41 496.33 L344.77 496.6 L345.13 496.86 L345.86 497.38 L346.58 497.89 L347.31 498.38 L348.04 498.86 L348.76 499.34 L349.49 499.8 L350.21 500.25 L350.94 500.69 L351.66 501.12 L352.39 501.55 L353.12 501.96 L353.84 502.36 L354.57 502.76 L355.29 503.15 L356.02 503.53 L356.74 503.9 L357.47 504.27 L358.2 504.62 L358.92 504.98 L359.65 505.32 L360.37 505.66 L361.1 505.99 L361.83 506.31 L362.55 506.63 L363.28 506.95 L364 507.25 L364.73 507.56 L365.45 507.85 L366.18 508.14 L366.91 508.43 L367.63 508.71 L368.36 508.99 L369.08 509.26 L369.81 509.53 L370.54 509.79 L371.26 510.05 L371.99 510.31 L372.71 510.56 L373.44 510.8 L374.16 511.05 L374.89 511.29 L375.62 511.52 L376.34 511.75 L377.07 511.98 L377.79 512.21 L378.52 512.43 L379.24 512.65 L379.97 512.86 L380.7 513.07 L381.42 513.28 L382.15 513.49 L382.87 513.69 L383.6 513.89 L384.33 514.09 L385.05 514.28 L385.78 514.47 L386.5 514.66 L387.23 514.85 L387.95 515.03 L388.68 515.21 L389.41 515.39 L390.13 515.57 L390.86 515.74 L391.58 515.91 L392.31 516.08 L393.03 516.25 L393.76 516.41 L394.49 516.58 L395.21 516.74 L395.94 516.9 L396.66 517.05 L397.39 517.21 L398.12 517.36 L398.84 517.51 L399.57 517.66 L400.29 517.81 L401.02 517.95 L401.74 518.1 L402.47 518.24 L403.2 518.38 L403.92 518.52 L404.65 518.66 L405.37 518.79 L406.1 518.92 L406.83 519.06 L407.55 519.19 L408.28 519.32 L409 519.44 L409.73 519.57 L410.45 519.69 L411.18 519.82 L411.91 519.94 L412.63 520.06 L413.36 520.18 L414.08 520.3 L414.81 520.41 L415.53 520.53 L416.26 520.64 L416.99 520.75 L417.71 520.87 L418.44 520.98 L419.16 521.08 L419.89 521.19 L420.62 521.3 L421.34 521.4 L422.07 521.51 L422.79 521.61 L423.52 521.71 L424.24 521.81 L424.97 521.91 L425.7 522.01 L426.42 522.11 L427.15 522.21 L427.87 522.3 L428.6 522.4 L429.32 522.49 L430.05 522.58 L430.78 522.68 L431.5 522.77 L432.23 522.86 L432.95 522.95 L433.68 523.03 L434.41 523.12 L435.13 523.21 L435.86 523.29 L436.58 523.38 L437.31 523.46 L438.03 523.54 L438.76 523.63 L439.49 523.71 L440.21 523.79 L440.94 523.87 L441.66 523.95 L442.39 524.02 L443.12 524.1 L443.84 524.18 L444.57 524.25 L445.29 524.33 L446.02 524.4 L446.74 524.48 L447.47 524.55 L448.2 524.62 L448.92 524.69 L449.65 524.76 L450.37 524.83 L451.1 524.9 L451.82 524.97 L452.55 525.04 L453.28 525.11 L454 525.17 L454.73 525.24 L455.45 525.31 L456.18 525.37 L456.91 525.43 L457.63 525.5 L458.36 525.56 L459.08 525.62 L459.81 525.69 L460.53 525.75 L461.26 525.81 L461.99 525.87 L462.71 525.93 L463.44 525.99 L464.16 526.05 L464.89 526.1 L465.61 526.16 L466.34 526.22 L467.07 526.27 L467.79 526.33 L468.52 526.39 L469.24 526.44 L469.97 526.5 L470.7 526.55 L471.42 526.6 L472.15 526.66 L472.87 526.71 L473.6 526.76 L474.32 526.81 L475.05 526.86 L475.78 526.91 L476.5 526.96 L477.23 527.01 L477.95 527.06 L478.68 527.11 L479.41 527.16 L480.13 527.21 L480.86 527.25 L481.58 527.3 L482.31 527.35 L483.03 527.39 L483.76 527.44 L484.49 527.49 L485.21 527.53 L485.94 527.57 L486.66 527.62 L487.39 527.66 L488.11 527.71 L488.84 527.75 L489.57 527.79 L490.29 527.83 L491.02 527.88 L491.74 527.92 L492.47 527.96 L493.2 528 L493.92 528.04 L494.65 528.08 L495.37 528.12 L496.1 528.16 L496.82 528.2 L497.55 528.24 L498.28 528.27 L499 528.31 L499.73 528.35 L500.45 528.39 L501.18 528.42 L501.9 528.46 L502.63 528.5 L503.36 528.53 L504.08 528.57 L504.81 528.6 L505.53 528.64 L506.26 528.67 L506.99 528.71 L507.71 528.74 L508.44 528.78 L509.16 528.81 L509.89 528.84 L510.61 528.88 L511.34 528.91 L512.07 528.94 L512.79 528.97 L513.52 529 L514.24 529.04 L514.97 529.07 L515.7 529.1 L516.42 529.13 L517.15 529.16 L517.87 529.19 L518.6 529.22 L519.32 529.25 L520.05 529.28 L520.78 529.31 L521.5 529.33 L522.23 529.36 L522.95 529.39 L523.68 529.42 L524.4 529.45 L525.13 529.48 L525.86 529.5 L526.58 529.53 L527.31 529.56 L528.03 529.58 L528.76 529.61 L529.49 529.63 L530.21 529.66 L530.94 529.69 L531.66 529.71 L532.39 529.74 L533.11 529.76" fill="none" stroke="#ff7f0e" stroke-width="1.15" stroke-opacity="0.85" stroke-linejoin="round" stroke-linecap="square"/>
<path d="M316.1 459.42 L316.46 460.83 L316.83 462.16 L317.19 463.41 L317.55 464.6 L317.91 465.72 L318.28 466.79 L318.64 467.81 L319 468.78 L319.37 469.7 L319.73 470.59 L320.09 471.44 L320.45 472.25 L320.82 473.04 L321.18 473.79 L321.54 474.52 L321.91 475.22 L322.27 475.89 L322.63 476.55 L323 477.18 L323.36 477.79 L323.72 478.38 L324.08 478.96 L324.45 479.51 L324.81 480.05 L325.17 480.58 L325.54 481.09 L325.9 481.58 L326.26 482.06 L326.62 482.53 L326.99 482.99 L327.35 483.43 L327.71 483.87 L328.08 484.29 L328.44 484.7 L328.8 485.11 L329.16 485.5 L329.53 485.89 L329.89 486.26 L330.25 486.63 L330.62 486.99 L330.98 487.34 L331.34 487.68 L331.7 488.02 L332.07 488.35 L332.43 488.67 L332.79 488.99 L333.16 489.3 L333.52 489.6 L333.88 489.9 L334.25 490.2 L334.61 490.49 L334.97 490.77 L335.33 491.05 L335.7 491.32 L336.06 491.59 L336.42 491.86 L336.79 492.12 L337.15 492.38 L337.51 492.63 L337.87 492.88 L338.24 493.12 L338.6 493.37 L338.96 493.61 L339.33 493.84 L339.69 494.07 L340.05 494.3 L340.41 494.53 L340.78 494.75 L341.14 494.97 L341.5 495.19 L341.87 495.4 L342.23 495.62 L342.59 495.83 L342.95 496.03 L343.32 496.24 L343.68 496.44 L344.04 496.64 L344.41 496.84 L344.77 497.03 L345.13 497.22 L345.86 497.6 L346.58 497.98 L347.31 498.34 L348.04 498.69 L348.76 499.04 L349.49 499.37 L350.21 499.7 L350.94 500.01 L351.66 500.32 L352.39 500.61 L353.12 500.89 L353.84 501.16 L354.57 501.43 L355.29 501.68 L356.02 501.93 L356.74 502.17 L357.47 502.4 L358.2 502.63 L358.92 502.85 L359.65 503.06 L360.37 503.26 L361.1 503.47 L361.83 503.66 L362.55 503.85 L363.28 504.04 L364 504.22 L364.73 504.4 L365.45 504.58 L366.18 504.75 L366.91 504.92 L367.63 505.08 L368.36 505.24 L369.08 505.4 L369.81 505.56 L370.54 505.71 L371.26 505.86 L371.99 506.01 L372.71 506.15 L373.44 506.3 L374.16 506.44 L374.89 506.58 L375.62 506.71 L376.34 506.85 L377.07 506.98 L377.79 507.11 L378.52 507.24 L379.24 507.36 L379.97 507.49 L380.7 507.61 L381.42 507.74 L382.15 507.86 L382.87 507.97 L383.6 508.09 L384.33 508.21 L385.05 508.32 L385.78 508.43 L386.5 508.55 L387.23 508.66 L387.95 508.77 L388.68 508.87 L389.41 508.98 L390.13 509.09 L390.86 509.19 L391.58 509.3 L392.31 509.4 L393.03 509.5 L393.76 509.6 L394.49 509.7 L395.21 509.8 L395.94 509.9 L396.66 509.99 L397.39 510.09 L398.12 510.19 L398.84 510.28 L399.57 510.37 L400.29 510.47 L401.02 510.56 L401.74 510.65 L402.47 510.74 L403.2 510.83 L403.92 510.92 L404.65 511.01 L405.37 511.1 L406.1 511.19 L406.83 511.27 L407.55 511.36 L408.28 511.44 L409 511.53 L409.73 511.61 L410.45 511.7 L411.18 511.78 L411.91 511.86 L412.63 511.94 L413.36 512.02 L414.08 512.1 L414.81 512.18 L415.53 512.26 L416.26 512.34 L416.99 512.41 L417.71 512.49 L418.44 512.56 L419.16 512.64 L419.89 512.71 L420.62 512.78 L421.34 512.85 L422.07 512.93 L422.79 513 L423.52 513.07 L424.24 513.13 L424.97 513.2 L425.7 513.27 L426.42 513.34 L427.15 513.4 L427.87 513.47 L428.6 513.53 L429.32 513.59 L430.05 513.66 L430.78 513.72 L431.5 513.78 L432.23 513.84 L432.95 513.9 L433.68 513.96 L434.41 514.02 L435.13 514.07 L435.86 514.13 L436.58 514.19 L437.31 514.24 L438.03 514.29 L438.76 514.35 L439.49 514.4 L440.21 514.45 L440.94 514.5 L441.66 514.55 L442.39 514.6 L443.12 514.65 L443.84 514.7 L444.57 514.75 L445.29 514.8 L446.02 514.84 L446.74 514.89 L447.47 514.93 L448.2 514.98 L448.92 515.02 L449.65 515.06 L450.37 515.11 L451.1 515.15 L451.82 515.19 L452.55 515.23 L453.28 515.27 L454 515.31 L454.73 515.34 L455.45 515.38 L456.18 515.42 L456.91 515.45 L457.63 515.49 L458.36 515.52 L459.08 515.56 L459.81 515.59 L460.53 515.62 L461.26 515.66 L461.99 515.69 L462.71 515.72 L463.44 515.75 L464.16 515.78 L464.89 515.81 L465.61 515.84 L466.34 515.86 L467.07 515.89 L467.79 515.92 L468.52 515.94 L469.24 515.97 L469.97 516 L470.7 516.02 L471.42 516.05 L472.15 516.07 L472.87 516.09 L473.6 516.12 L474.32 516.14 L475.05 516.16 L475.78 516.18 L476.5 516.21 L477.23 516.23 L477.95 516.25 L478.68 516.27 L479.41 516.29 L480.13 516.31 L480.86 516.33 L481.58 516.35 L482.31 516.37 L483.03 516.39 L483.76 516.4 L484.49 516.42 L485.21 516.44 L485.94 516.46 L486.66 516.48 L487.39 516.49 L488.11 516.51 L488.84 516.53 L489.57 516.54 L490.29 516.56 L491.02 516.58 L491.74 516.59 L492.47 516.61 L493.2 516.62 L493.92 516.64 L494.65 516.65 L495.37 516.67 L496.1 516.68 L496.82 516.7 L497.55 516.71 L498.28 516.73 L499 516.74 L499.73 516.76 L500.45 516.77 L501.18 516.78 L501.9 516.8 L502.63 516.81 L503.36 516.83 L504.08 516.84 L504.81 516.85 L505.53 516.87 L506.26 516.88 L506.99 516.89 L507.71 516.91 L508.44 516.92 L509.16 516.93 L509.89 516.95 L510.61 516.96 L511.34 516.97 L512.07 516.98 L512.79 517 L513.52 517.01 L514.24 517.02 L514.97 517.04 L515.7 517.05 L516.42 517.06 L517.15 517.07 L517.87 517.09 L518.6 517.1 L519.32 517.11 L520.05 517.12 L520.78 517.14 L521.5 517.15 L522.23 517.16 L522.95 517.17 L523.68 517.19 L524.4 517.2 L525.13 517.21 L525.86 517.22 L526.58 517.24 L527.31 517.25 L528.03 517.26 L528.76 517.27 L529.49 517.29 L530.21 517.3 L530.94 517.31 L531.66 517.32 L532.39 517.34 L533.11 517.35" fill="none" stroke="#2ca02c" stroke-width="1.15" stroke-opacity="0.85" stroke-linejoin="round" stroke-linecap="square"/>
<rect x="305.5" y="429.5" width="238" height="105" fill="none" stroke="#737373" stroke-width="1"/>
<text x="316.1" y="542" font-size="5.1" text-anchor="middle">0</text>
<text x="352.39" y="542" font-size="5.1" text-anchor="middle">50</text>
<text x="388.68" y="542" font-size="5.1" text-anchor="middle">100</text>
<text x="424.97" y="542" font-size="5.1" text-anchor="middle">150</text>
<text x="461.26" y="542" font-size="5.1" text-anchor="middle">200</text>
<text x="497.55" y="542" font-size="5.1" text-anchor="middle">250</text>
<text x="533.84" y="542" font-size="5.1" text-anchor="middle">300</text>
<text x="301.2" y="530.4" font-size="5.1" text-anchor="end">0.2</text>
<text x="301.2" y="514.7" font-size="5.1" text-anchor="end">0.3</text>
<text x="301.2" y="499" font-size="5.1" text-anchor="end">0.4</text>
<text x="301.2" y="483.3" font-size="5.1" text-anchor="end">0.5</text>
<text x="301.2" y="467.6" font-size="5.1" text-anchor="end">0.6</text>
<text x="301.2" y="451.9" font-size="5.1" text-anchor="end">0.7</text>
<text x="301.2" y="436.2" font-size="5.1" text-anchor="end">0.8</text>
<path d="M316.1 534.5v2.2M352.39 534.5v2.2M388.68 534.5v2.2M424.97 534.5v2.2M461.26 534.5v2.2M497.55 534.5v2.2M533.84 534.5v2.2M305.5 528.5h-2.2M305.5 512.8h-2.2M305.5 497.1h-2.2M305.5 481.4h-2.2M305.5 465.7h-2.2M305.5 450h-2.2M305.5 434.3h-2.2" stroke="#737373" stroke-width="0.9" fill="none"/>
<text x="424.5" y="550.2" font-size="6.4" text-anchor="middle">loss vs. epoches</text>
<text transform="translate(289.99 482.2) rotate(-90)" font-size="6.4" text-anchor="middle">loss</text>
<rect x="486.2" y="432.7" width="54" height="30.3" rx="1.3" fill="#fff" fill-opacity="0.8" stroke="#ccc" stroke-opacity="0.65" stroke-width="0.6"/>
<path d="M488.8 438.35h13.5" stroke="#1f77b4" stroke-opacity="0.85" stroke-width="1.15" fill="none"/>
<text x="506.9" y="440.6" font-size="6.4">device</text>
<path d="M488.8 447.8h13.5" stroke="#ff7f0e" stroke-opacity="0.85" stroke-width="1.15" fill="none"/>
<text x="506.9" y="450.05" font-size="6.4">merchant</text>
<path d="M488.8 457.25h13.5" stroke="#2ca02c" stroke-opacity="0.85" stroke-width="1.15" fill="none"/>
<text x="506.9" y="459.5" font-size="6.4">address</text>
</g>
<text class="cap" x="133.3" y="282.7" text-anchor="middle">(<tspan font-weight="bold">a</tspan>) Dataset 1</text>
<text class="cap" x="414.2" y="282.7" text-anchor="middle">(<tspan font-weight="bold">b</tspan>) Dataset 2</text>
<text class="cap" x="133.4" y="572.5" text-anchor="middle">(<tspan font-weight="bold">c</tspan>) Dataset 3</text>
<text class="cap" x="414.4" y="572.5" text-anchor="middle">(<tspan font-weight="bold">d</tspan>) Dataset 4</text>
</svg>
</body>
</html>
